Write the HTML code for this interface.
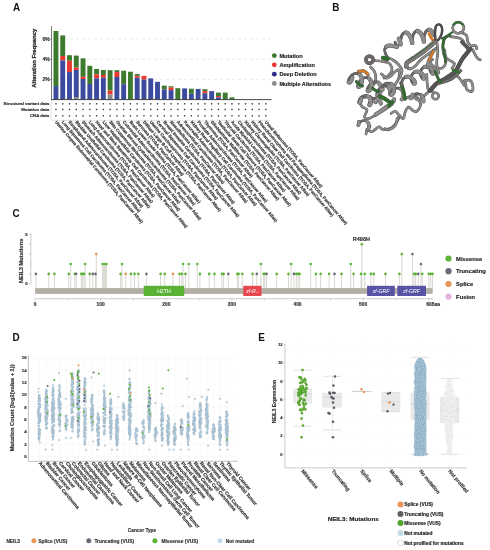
<!DOCTYPE html>
<html><head><meta charset="utf-8"><title>NEIL3 figure</title>
<style>html,body{margin:0;padding:0;background:#fff;width:490px;height:550px;overflow:hidden}svg{display:block;filter:blur(0.3px)} .d{fill:#b9d2e1;stroke:#8aa3b5;stroke-width:.25px} .q{fill:#fbfbfb;stroke:#d6d6d6;stroke-width:.3px} .n{fill:#b9d4e4;stroke:#7497ad;stroke-width:.3px}</style>
</head><body>
<svg width="490" height="550" viewBox="0 0 490 550">
<rect width="490" height="550" fill="#fff"/>
<text transform="translate(12.9,10.9) scale(0.88,1)" font-family="Liberation Sans, Arial, sans-serif" font-weight="bold" font-size="11.3" fill="#111">A</text>
<line x1="52" x2="270" y1="79.4" y2="79.4" stroke="#dcdcdc" stroke-width="0.6" stroke-dasharray="3,3"/>
<line x1="52" x2="270" y1="59.2" y2="59.2" stroke="#dcdcdc" stroke-width="0.6" stroke-dasharray="3,3"/>
<line x1="52" x2="270" y1="39.0" y2="39.0" stroke="#dcdcdc" stroke-width="0.6" stroke-dasharray="3,3"/>
<rect x="53.50" y="31.00" width="4.9" height="55.10" fill="#3d7a2e"/>
<rect x="53.50" y="86.10" width="4.9" height="13.50" fill="#3c4b9d"/>
<rect x="60.27" y="35.40" width="4.9" height="20.60" fill="#3d7a2e"/>
<rect x="60.27" y="56.00" width="4.9" height="4.40" fill="#e8392f"/>
<rect x="60.27" y="60.40" width="4.9" height="39.20" fill="#3c4b9d"/>
<rect x="67.04" y="55.20" width="4.9" height="5.60" fill="#3d7a2e"/>
<rect x="67.04" y="60.80" width="4.9" height="11.20" fill="#e8392f"/>
<rect x="67.04" y="72.00" width="4.9" height="27.60" fill="#3c4b9d"/>
<rect x="73.81" y="55.60" width="4.9" height="12.00" fill="#3d7a2e"/>
<rect x="73.81" y="67.60" width="4.9" height="2.40" fill="#e8392f"/>
<rect x="73.81" y="70.00" width="4.9" height="27.00" fill="#3c4b9d"/>
<rect x="73.81" y="97.00" width="4.9" height="2.60" fill="#8a8a8a"/>
<rect x="80.58" y="58.40" width="4.9" height="18.40" fill="#3d7a2e"/>
<rect x="80.58" y="76.80" width="4.9" height="2.20" fill="#e8392f"/>
<rect x="80.58" y="79.00" width="4.9" height="20.60" fill="#3c4b9d"/>
<rect x="87.35" y="65.80" width="4.9" height="18.20" fill="#3d7a2e"/>
<rect x="87.35" y="84.00" width="4.9" height="15.60" fill="#3c4b9d"/>
<rect x="94.12" y="69.00" width="4.9" height="5.40" fill="#3d7a2e"/>
<rect x="94.12" y="74.40" width="4.9" height="3.90" fill="#e8392f"/>
<rect x="94.12" y="78.30" width="4.9" height="21.30" fill="#3c4b9d"/>
<rect x="100.89" y="70.00" width="4.9" height="5.00" fill="#3d7a2e"/>
<rect x="100.89" y="75.00" width="4.9" height="2.80" fill="#e8392f"/>
<rect x="100.89" y="77.80" width="4.9" height="21.80" fill="#3c4b9d"/>
<rect x="107.66" y="70.20" width="4.9" height="20.30" fill="#3d7a2e"/>
<rect x="107.66" y="90.50" width="4.9" height="4.00" fill="#e8392f"/>
<rect x="107.66" y="94.50" width="4.9" height="5.10" fill="#8a8a8a"/>
<rect x="114.43" y="70.20" width="4.9" height="1.80" fill="#3d7a2e"/>
<rect x="114.43" y="72.00" width="4.9" height="5.00" fill="#e8392f"/>
<rect x="114.43" y="77.00" width="4.9" height="22.60" fill="#3c4b9d"/>
<rect x="121.20" y="70.70" width="4.9" height="13.50" fill="#3d7a2e"/>
<rect x="121.20" y="84.20" width="4.9" height="15.40" fill="#3c4b9d"/>
<rect x="127.97" y="71.70" width="4.9" height="27.90" fill="#3d7a2e"/>
<rect x="134.74" y="74.00" width="4.9" height="1.80" fill="#3d7a2e"/>
<rect x="134.74" y="75.80" width="4.9" height="2.00" fill="#e8392f"/>
<rect x="134.74" y="77.80" width="4.9" height="21.80" fill="#3c4b9d"/>
<rect x="141.51" y="75.90" width="4.9" height="3.70" fill="#e8392f"/>
<rect x="141.51" y="79.60" width="4.9" height="20.00" fill="#3c4b9d"/>
<rect x="148.28" y="78.40" width="4.9" height="21.20" fill="#3c4b9d"/>
<rect x="155.05" y="81.80" width="4.9" height="17.80" fill="#3c4b9d"/>
<rect x="161.82" y="85.70" width="4.9" height="3.70" fill="#3d7a2e"/>
<rect x="161.82" y="89.40" width="4.9" height="10.20" fill="#3c4b9d"/>
<rect x="168.59" y="86.20" width="4.9" height="1.30" fill="#3d7a2e"/>
<rect x="168.59" y="87.50" width="4.9" height="2.60" fill="#e8392f"/>
<rect x="168.59" y="90.10" width="4.9" height="9.50" fill="#3c4b9d"/>
<rect x="175.36" y="88.20" width="4.9" height="11.40" fill="#3d7a2e"/>
<rect x="182.13" y="88.40" width="4.9" height="11.20" fill="#3c4b9d"/>
<rect x="188.90" y="88.70" width="4.9" height="5.10" fill="#3d7a2e"/>
<rect x="188.90" y="93.80" width="4.9" height="5.80" fill="#3c4b9d"/>
<rect x="195.67" y="88.90" width="4.9" height="10.70" fill="#3c4b9d"/>
<rect x="202.44" y="89.20" width="4.9" height="1.90" fill="#3d7a2e"/>
<rect x="202.44" y="91.10" width="4.9" height="2.20" fill="#e8392f"/>
<rect x="202.44" y="93.30" width="4.9" height="6.30" fill="#3c4b9d"/>
<rect x="209.21" y="91.10" width="4.9" height="8.50" fill="#3c4b9d"/>
<rect x="215.98" y="92.60" width="4.9" height="3.40" fill="#3d7a2e"/>
<rect x="215.98" y="96.00" width="4.9" height="1.30" fill="#e8392f"/>
<rect x="215.98" y="97.30" width="4.9" height="2.30" fill="#3c4b9d"/>
<rect x="222.75" y="92.60" width="4.9" height="7.00" fill="#3d7a2e"/>
<rect x="229.52" y="97.30" width="4.9" height="2.30" fill="#3d7a2e"/>
<line x1="51.5" x2="51.5" y1="26.4" y2="100" stroke="#555" stroke-width="0.8"/>
<line x1="51" x2="271.5" y1="99.6" y2="99.6" stroke="#333" stroke-width="0.9"/>
<line x1="50" x2="51.5" y1="79.4" y2="79.4" stroke="#555" stroke-width="0.6"/>
<text x="49.8" y="81.3" font-family="Liberation Sans, Arial, sans-serif" font-weight="bold" font-size="5.0" text-anchor="end" fill="#333" stroke="#333" stroke-width="0.16">2%</text>
<line x1="50" x2="51.5" y1="59.2" y2="59.2" stroke="#555" stroke-width="0.6"/>
<text x="49.8" y="61.1" font-family="Liberation Sans, Arial, sans-serif" font-weight="bold" font-size="5.0" text-anchor="end" fill="#333" stroke="#333" stroke-width="0.16">4%</text>
<line x1="50" x2="51.5" y1="39.0" y2="39.0" stroke="#555" stroke-width="0.6"/>
<text x="49.8" y="40.9" font-family="Liberation Sans, Arial, sans-serif" font-weight="bold" font-size="5.0" text-anchor="end" fill="#333" stroke="#333" stroke-width="0.16">6%</text>
<text transform="translate(35.9,58.2) rotate(-90)" font-family="Liberation Sans, Arial, sans-serif" font-weight="bold" font-size="5.9" text-anchor="middle" fill="#2a2a2a" stroke="#2a2a2a" stroke-width="0.3">Alteration Frequency</text>
<path d="M51.2 100 V120.3 H270" fill="none" stroke="#cfcfcf" stroke-width="0.6"/>
<text x="49.2" y="105.1" font-family="Liberation Sans, Arial, sans-serif" font-weight="bold" font-size="4.3" text-anchor="end" fill="#333" stroke="#333" stroke-width="0.2">Structural variant data</text>
<rect x="55.25" y="103.10" width="1.4" height="1.4" fill="#3a3a3a"/>
<rect x="62.02" y="103.10" width="1.4" height="1.4" fill="#3a3a3a"/>
<rect x="68.79" y="103.10" width="1.4" height="1.4" fill="#3a3a3a"/>
<rect x="75.56" y="103.10" width="1.4" height="1.4" fill="#3a3a3a"/>
<rect x="82.33" y="103.10" width="1.4" height="1.4" fill="#3a3a3a"/>
<rect x="89.10" y="103.10" width="1.4" height="1.4" fill="#3a3a3a"/>
<rect x="95.87" y="103.10" width="1.4" height="1.4" fill="#3a3a3a"/>
<rect x="102.64" y="103.10" width="1.4" height="1.4" fill="#3a3a3a"/>
<rect x="109.41" y="103.10" width="1.4" height="1.4" fill="#3a3a3a"/>
<rect x="116.18" y="103.10" width="1.4" height="1.4" fill="#3a3a3a"/>
<rect x="122.95" y="103.10" width="1.4" height="1.4" fill="#3a3a3a"/>
<rect x="129.72" y="103.10" width="1.4" height="1.4" fill="#3a3a3a"/>
<rect x="136.49" y="103.10" width="1.4" height="1.4" fill="#3a3a3a"/>
<rect x="143.26" y="103.10" width="1.4" height="1.4" fill="#3a3a3a"/>
<rect x="150.03" y="103.10" width="1.4" height="1.4" fill="#3a3a3a"/>
<rect x="156.80" y="103.10" width="1.4" height="1.4" fill="#3a3a3a"/>
<rect x="163.57" y="103.10" width="1.4" height="1.4" fill="#3a3a3a"/>
<rect x="170.34" y="103.10" width="1.4" height="1.4" fill="#3a3a3a"/>
<rect x="177.11" y="103.10" width="1.4" height="1.4" fill="#3a3a3a"/>
<rect x="183.88" y="103.10" width="1.4" height="1.4" fill="#3a3a3a"/>
<rect x="190.65" y="103.10" width="1.4" height="1.4" fill="#3a3a3a"/>
<rect x="197.42" y="103.10" width="1.4" height="1.4" fill="#3a3a3a"/>
<rect x="204.19" y="103.10" width="1.4" height="1.4" fill="#3a3a3a"/>
<rect x="210.96" y="103.10" width="1.4" height="1.4" fill="#3a3a3a"/>
<rect x="217.73" y="103.10" width="1.4" height="1.4" fill="#3a3a3a"/>
<rect x="224.50" y="103.10" width="1.4" height="1.4" fill="#3a3a3a"/>
<rect x="231.27" y="103.10" width="1.4" height="1.4" fill="#3a3a3a"/>
<rect x="238.04" y="103.10" width="1.4" height="1.4" fill="#3a3a3a"/>
<rect x="244.81" y="103.10" width="1.4" height="1.4" fill="#3a3a3a"/>
<rect x="251.58" y="103.10" width="1.4" height="1.4" fill="#3a3a3a"/>
<rect x="258.35" y="103.10" width="1.4" height="1.4" fill="#3a3a3a"/>
<rect x="265.12" y="103.10" width="1.4" height="1.4" fill="#3a3a3a"/>
<text x="49.2" y="110.8" font-family="Liberation Sans, Arial, sans-serif" font-weight="bold" font-size="4.3" text-anchor="end" fill="#333" stroke="#333" stroke-width="0.2">Mutation data</text>
<rect x="55.25" y="108.80" width="1.4" height="1.4" fill="#3a3a3a"/>
<rect x="62.02" y="108.80" width="1.4" height="1.4" fill="#3a3a3a"/>
<rect x="68.79" y="108.80" width="1.4" height="1.4" fill="#3a3a3a"/>
<rect x="75.56" y="108.80" width="1.4" height="1.4" fill="#3a3a3a"/>
<rect x="82.33" y="108.80" width="1.4" height="1.4" fill="#3a3a3a"/>
<rect x="89.10" y="108.80" width="1.4" height="1.4" fill="#3a3a3a"/>
<rect x="95.87" y="108.80" width="1.4" height="1.4" fill="#3a3a3a"/>
<rect x="102.64" y="108.80" width="1.4" height="1.4" fill="#3a3a3a"/>
<rect x="109.41" y="108.80" width="1.4" height="1.4" fill="#3a3a3a"/>
<rect x="116.18" y="108.80" width="1.4" height="1.4" fill="#3a3a3a"/>
<rect x="122.95" y="108.80" width="1.4" height="1.4" fill="#3a3a3a"/>
<rect x="129.72" y="108.80" width="1.4" height="1.4" fill="#3a3a3a"/>
<rect x="136.49" y="108.80" width="1.4" height="1.4" fill="#3a3a3a"/>
<rect x="143.26" y="108.80" width="1.4" height="1.4" fill="#3a3a3a"/>
<rect x="150.03" y="108.80" width="1.4" height="1.4" fill="#3a3a3a"/>
<rect x="156.80" y="108.80" width="1.4" height="1.4" fill="#3a3a3a"/>
<rect x="163.57" y="108.80" width="1.4" height="1.4" fill="#3a3a3a"/>
<rect x="170.34" y="108.80" width="1.4" height="1.4" fill="#3a3a3a"/>
<rect x="177.11" y="108.80" width="1.4" height="1.4" fill="#3a3a3a"/>
<rect x="183.88" y="108.80" width="1.4" height="1.4" fill="#3a3a3a"/>
<rect x="190.65" y="108.80" width="1.4" height="1.4" fill="#3a3a3a"/>
<rect x="197.42" y="108.80" width="1.4" height="1.4" fill="#3a3a3a"/>
<rect x="204.19" y="108.80" width="1.4" height="1.4" fill="#3a3a3a"/>
<rect x="210.96" y="108.80" width="1.4" height="1.4" fill="#3a3a3a"/>
<rect x="217.73" y="108.80" width="1.4" height="1.4" fill="#3a3a3a"/>
<rect x="224.50" y="108.80" width="1.4" height="1.4" fill="#3a3a3a"/>
<rect x="231.27" y="108.80" width="1.4" height="1.4" fill="#3a3a3a"/>
<rect x="238.04" y="108.80" width="1.4" height="1.4" fill="#3a3a3a"/>
<rect x="244.81" y="108.80" width="1.4" height="1.4" fill="#3a3a3a"/>
<rect x="251.58" y="108.80" width="1.4" height="1.4" fill="#3a3a3a"/>
<rect x="258.35" y="108.80" width="1.4" height="1.4" fill="#3a3a3a"/>
<rect x="265.12" y="108.80" width="1.4" height="1.4" fill="#3a3a3a"/>
<text x="49.2" y="117.1" font-family="Liberation Sans, Arial, sans-serif" font-weight="bold" font-size="4.3" text-anchor="end" fill="#333" stroke="#333" stroke-width="0.2">CNA data</text>
<rect x="55.25" y="115.10" width="1.4" height="1.4" fill="#3a3a3a"/>
<rect x="62.02" y="115.10" width="1.4" height="1.4" fill="#3a3a3a"/>
<rect x="68.79" y="115.10" width="1.4" height="1.4" fill="#3a3a3a"/>
<rect x="75.56" y="115.10" width="1.4" height="1.4" fill="#3a3a3a"/>
<rect x="82.33" y="115.10" width="1.4" height="1.4" fill="#3a3a3a"/>
<rect x="89.10" y="115.10" width="1.4" height="1.4" fill="#3a3a3a"/>
<rect x="95.87" y="115.10" width="1.4" height="1.4" fill="#3a3a3a"/>
<rect x="102.64" y="115.10" width="1.4" height="1.4" fill="#3a3a3a"/>
<rect x="109.41" y="115.10" width="1.4" height="1.4" fill="#3a3a3a"/>
<rect x="116.18" y="115.10" width="1.4" height="1.4" fill="#3a3a3a"/>
<rect x="122.95" y="115.10" width="1.4" height="1.4" fill="#3a3a3a"/>
<rect x="129.72" y="115.10" width="1.4" height="1.4" fill="#3a3a3a"/>
<rect x="136.49" y="115.10" width="1.4" height="1.4" fill="#3a3a3a"/>
<rect x="143.26" y="115.10" width="1.4" height="1.4" fill="#3a3a3a"/>
<rect x="150.03" y="115.10" width="1.4" height="1.4" fill="#3a3a3a"/>
<rect x="156.80" y="115.10" width="1.4" height="1.4" fill="#3a3a3a"/>
<rect x="163.57" y="115.10" width="1.4" height="1.4" fill="#3a3a3a"/>
<rect x="170.34" y="115.10" width="1.4" height="1.4" fill="#3a3a3a"/>
<rect x="177.11" y="115.10" width="1.4" height="1.4" fill="#3a3a3a"/>
<rect x="183.88" y="115.10" width="1.4" height="1.4" fill="#3a3a3a"/>
<rect x="190.65" y="115.10" width="1.4" height="1.4" fill="#3a3a3a"/>
<rect x="197.42" y="115.10" width="1.4" height="1.4" fill="#3a3a3a"/>
<rect x="204.19" y="115.10" width="1.4" height="1.4" fill="#3a3a3a"/>
<rect x="210.96" y="115.10" width="1.4" height="1.4" fill="#3a3a3a"/>
<rect x="217.73" y="115.10" width="1.4" height="1.4" fill="#3a3a3a"/>
<rect x="224.50" y="115.10" width="1.4" height="1.4" fill="#3a3a3a"/>
<rect x="231.27" y="115.10" width="1.4" height="1.4" fill="#3a3a3a"/>
<rect x="238.04" y="115.10" width="1.4" height="1.4" fill="#3a3a3a"/>
<rect x="244.81" y="115.10" width="1.4" height="1.4" fill="#3a3a3a"/>
<rect x="251.58" y="115.10" width="1.4" height="1.4" fill="#3a3a3a"/>
<rect x="258.35" y="115.10" width="1.4" height="1.4" fill="#3a3a3a"/>
<rect x="265.12" y="115.10" width="1.4" height="1.4" fill="#3a3a3a"/>
<text transform="translate(54.75,122.3) rotate(49.5)" font-family="Liberation Sans, Arial, sans-serif" font-weight="bold" font-size="4.3" fill="#3a3a3a" stroke="#3a3a3a" stroke-width="0.22">Uterine Corpus Endometrial Carcinoma (TCGA, PanCancer Atlas)</text>
<text transform="translate(61.52,122.3) rotate(49.5)" font-family="Liberation Sans, Arial, sans-serif" font-weight="bold" font-size="4.3" fill="#3a3a3a" stroke="#3a3a3a" stroke-width="0.22">Lung Squamous Cell Carcinoma (TCGA, PanCancer Atlas)</text>
<text transform="translate(68.29,122.3) rotate(49.5)" font-family="Liberation Sans, Arial, sans-serif" font-weight="bold" font-size="4.3" fill="#3a3a3a" stroke="#3a3a3a" stroke-width="0.22">Esophageal Adenocarcinoma (TCGA, PanCancer Atlas)</text>
<text transform="translate(75.06,122.3) rotate(49.5)" font-family="Liberation Sans, Arial, sans-serif" font-weight="bold" font-size="4.3" fill="#3a3a3a" stroke="#3a3a3a" stroke-width="0.22">Bladder Urothelial Carcinoma (TCGA, PanCancer Atlas)</text>
<text transform="translate(81.83,122.3) rotate(49.5)" font-family="Liberation Sans, Arial, sans-serif" font-weight="bold" font-size="4.3" fill="#3a3a3a" stroke="#3a3a3a" stroke-width="0.22">Stomach Adenocarcinoma (TCGA, PanCancer Atlas)</text>
<text transform="translate(88.60,122.3) rotate(49.5)" font-family="Liberation Sans, Arial, sans-serif" font-weight="bold" font-size="4.3" fill="#3a3a3a" stroke="#3a3a3a" stroke-width="0.22">Lung Adenocarcinoma (TCGA, PanCancer Atlas)</text>
<text transform="translate(95.37,122.3) rotate(49.5)" font-family="Liberation Sans, Arial, sans-serif" font-weight="bold" font-size="4.3" fill="#3a3a3a" stroke="#3a3a3a" stroke-width="0.22">Head and Neck Squamous Cell Carcinoma (TCGA, PanCancer Atlas)</text>
<text transform="translate(102.14,122.3) rotate(49.5)" font-family="Liberation Sans, Arial, sans-serif" font-weight="bold" font-size="4.3" fill="#3a3a3a" stroke="#3a3a3a" stroke-width="0.22">Liver Hepatocellular Carcinoma (TCGA, PanCancer Atlas)</text>
<text transform="translate(108.91,122.3) rotate(49.5)" font-family="Liberation Sans, Arial, sans-serif" font-weight="bold" font-size="4.3" fill="#3a3a3a" stroke="#3a3a3a" stroke-width="0.22">Skin Cutaneous Melanoma (TCGA, PanCancer Atlas)</text>
<text transform="translate(115.68,122.3) rotate(49.5)" font-family="Liberation Sans, Arial, sans-serif" font-weight="bold" font-size="4.3" fill="#3a3a3a" stroke="#3a3a3a" stroke-width="0.22">Ovarian Serous Cystadenocarcinoma (TCGA, PanCancer Atlas)</text>
<text transform="translate(122.45,122.3) rotate(49.5)" font-family="Liberation Sans, Arial, sans-serif" font-weight="bold" font-size="4.3" fill="#3a3a3a" stroke="#3a3a3a" stroke-width="0.22">Colorectal Adenocarcinoma (TCGA, PanCancer Atlas)</text>
<text transform="translate(129.22,122.3) rotate(49.5)" font-family="Liberation Sans, Arial, sans-serif" font-weight="bold" font-size="4.3" fill="#3a3a3a" stroke="#3a3a3a" stroke-width="0.22">Brain Lower Grade Glioma (TCGA, PanCancer Atlas)</text>
<text transform="translate(135.99,122.3) rotate(49.5)" font-family="Liberation Sans, Arial, sans-serif" font-weight="bold" font-size="4.3" fill="#3a3a3a" stroke="#3a3a3a" stroke-width="0.22">Sarcoma (TCGA, PanCancer Atlas)</text>
<text transform="translate(142.76,122.3) rotate(49.5)" font-family="Liberation Sans, Arial, sans-serif" font-weight="bold" font-size="4.3" fill="#3a3a3a" stroke="#3a3a3a" stroke-width="0.22">Diffuse Large B-Cell Lymphoma (TCGA, PanCancer Atlas)</text>
<text transform="translate(149.53,122.3) rotate(49.5)" font-family="Liberation Sans, Arial, sans-serif" font-weight="bold" font-size="4.3" fill="#3a3a3a" stroke="#3a3a3a" stroke-width="0.22">Uterine Carcinosarcoma (TCGA, PanCancer Atlas)</text>
<text transform="translate(156.30,122.3) rotate(49.5)" font-family="Liberation Sans, Arial, sans-serif" font-weight="bold" font-size="4.3" fill="#3a3a3a" stroke="#3a3a3a" stroke-width="0.22">Cervical Squamous Cell Carcinoma (TCGA, PanCancer Atlas)</text>
<text transform="translate(163.07,122.3) rotate(49.5)" font-family="Liberation Sans, Arial, sans-serif" font-weight="bold" font-size="4.3" fill="#3a3a3a" stroke="#3a3a3a" stroke-width="0.22">Breast Invasive Carcinoma (TCGA, PanCancer Atlas)</text>
<text transform="translate(169.84,122.3) rotate(49.5)" font-family="Liberation Sans, Arial, sans-serif" font-weight="bold" font-size="4.3" fill="#3a3a3a" stroke="#3a3a3a" stroke-width="0.22">Mesothelioma (TCGA, PanCancer Atlas)</text>
<text transform="translate(176.61,122.3) rotate(49.5)" font-family="Liberation Sans, Arial, sans-serif" font-weight="bold" font-size="4.3" fill="#3a3a3a" stroke="#3a3a3a" stroke-width="0.22">Adrenocortical Carcinoma (TCGA, PanCancer Atlas)</text>
<text transform="translate(183.38,122.3) rotate(49.5)" font-family="Liberation Sans, Arial, sans-serif" font-weight="bold" font-size="4.3" fill="#3a3a3a" stroke="#3a3a3a" stroke-width="0.22">Pancreatic Adenocarcinoma (TCGA, PanCancer Atlas)</text>
<text transform="translate(190.15,122.3) rotate(49.5)" font-family="Liberation Sans, Arial, sans-serif" font-weight="bold" font-size="4.3" fill="#3a3a3a" stroke="#3a3a3a" stroke-width="0.22">Kidney Renal Papillary Cell Carcinoma (TCGA, PanCancer Atlas)</text>
<text transform="translate(196.92,122.3) rotate(49.5)" font-family="Liberation Sans, Arial, sans-serif" font-weight="bold" font-size="4.3" fill="#3a3a3a" stroke="#3a3a3a" stroke-width="0.22">Prostate Adenocarcinoma (TCGA, PanCancer Atlas)</text>
<text transform="translate(203.69,122.3) rotate(49.5)" font-family="Liberation Sans, Arial, sans-serif" font-weight="bold" font-size="4.3" fill="#3a3a3a" stroke="#3a3a3a" stroke-width="0.22">Thymoma (TCGA, PanCancer Atlas)</text>
<text transform="translate(210.46,122.3) rotate(49.5)" font-family="Liberation Sans, Arial, sans-serif" font-weight="bold" font-size="4.3" fill="#3a3a3a" stroke="#3a3a3a" stroke-width="0.22">Glioblastoma Multiforme (TCGA, PanCancer Atlas)</text>
<text transform="translate(217.23,122.3) rotate(49.5)" font-family="Liberation Sans, Arial, sans-serif" font-weight="bold" font-size="4.3" fill="#3a3a3a" stroke="#3a3a3a" stroke-width="0.22">Testicular Germ Cell Tumors (TCGA, PanCancer Atlas)</text>
<text transform="translate(224.00,122.3) rotate(49.5)" font-family="Liberation Sans, Arial, sans-serif" font-weight="bold" font-size="4.3" fill="#3a3a3a" stroke="#3a3a3a" stroke-width="0.22">Thyroid Carcinoma (TCGA, PanCancer Atlas)</text>
<text transform="translate(230.77,122.3) rotate(49.5)" font-family="Liberation Sans, Arial, sans-serif" font-weight="bold" font-size="4.3" fill="#3a3a3a" stroke="#3a3a3a" stroke-width="0.22">Acute Myeloid Leukemia (TCGA, PanCancer Atlas)</text>
<text transform="translate(237.54,122.3) rotate(49.5)" font-family="Liberation Sans, Arial, sans-serif" font-weight="bold" font-size="4.3" fill="#3a3a3a" stroke="#3a3a3a" stroke-width="0.22">Cholangiocarcinoma (TCGA, PanCancer Atlas)</text>
<text transform="translate(244.31,122.3) rotate(49.5)" font-family="Liberation Sans, Arial, sans-serif" font-weight="bold" font-size="4.3" fill="#3a3a3a" stroke="#3a3a3a" stroke-width="0.22">Kidney Chromophobe (TCGA, PanCancer Atlas)</text>
<text transform="translate(251.08,122.3) rotate(49.5)" font-family="Liberation Sans, Arial, sans-serif" font-weight="bold" font-size="4.3" fill="#3a3a3a" stroke="#3a3a3a" stroke-width="0.22">Kidney Renal Clear Cell Carcinoma (TCGA, PanCancer Atlas)</text>
<text transform="translate(257.85,122.3) rotate(49.5)" font-family="Liberation Sans, Arial, sans-serif" font-weight="bold" font-size="4.3" fill="#3a3a3a" stroke="#3a3a3a" stroke-width="0.22">Pheochromocytoma and Paraganglioma (TCGA, PanCancer Atlas)</text>
<text transform="translate(264.62,122.3) rotate(49.5)" font-family="Liberation Sans, Arial, sans-serif" font-weight="bold" font-size="4.3" fill="#3a3a3a" stroke="#3a3a3a" stroke-width="0.22">Uveal Melanoma (TCGA, PanCancer Atlas)</text>
<circle cx="274.3" cy="55.6" r="2.4" fill="#3d7a2e"/>
<text x="279.4" y="57.6" font-family="Liberation Sans, Arial, sans-serif" font-weight="bold" font-size="5.6" fill="#222" stroke="#222" stroke-width="0.16">Mutation</text>
<circle cx="274.3" cy="64.8" r="2.4" fill="#e8392f"/>
<text x="279.4" y="66.8" font-family="Liberation Sans, Arial, sans-serif" font-weight="bold" font-size="5.6" fill="#222" stroke="#222" stroke-width="0.16">Amplification</text>
<circle cx="274.3" cy="74.2" r="2.4" fill="#2e2a85"/>
<text x="279.4" y="76.2" font-family="Liberation Sans, Arial, sans-serif" font-weight="bold" font-size="5.6" fill="#222" stroke="#222" stroke-width="0.16">Deep Deletion</text>
<circle cx="274.3" cy="83.5" r="2.4" fill="#8a8a8a"/>
<text x="279.4" y="85.5" font-family="Liberation Sans, Arial, sans-serif" font-weight="bold" font-size="5.6" fill="#222" stroke="#222" stroke-width="0.16">Multiple Alterations</text>
<text transform="translate(332.2,10.9) scale(0.88,1)" font-family="Liberation Sans, Arial, sans-serif" font-weight="bold" font-size="11.3" fill="#111">B</text>
<path d="M359.0 100.5 C359.5 101.5 360.7 105.1 362.0 106.6 C363.3 108.1 366.6 108.0 367.0 109.7 C367.4 111.4 364.1 115.6 364.5 117.0 C364.9 118.4 367.6 118.6 369.4 118.3 C371.2 118.0 374.5 115.7 375.5 115.2" fill="none" stroke="#4f4c4d" stroke-width="2.70" stroke-linecap="round" stroke-linejoin="round"/><path d="M359.0 100.5 C359.5 101.5 360.7 105.1 362.0 106.6 C363.3 108.1 366.6 108.0 367.0 109.7 C367.4 111.4 364.1 115.6 364.5 117.0 C364.9 118.4 367.6 118.6 369.4 118.3 C371.2 118.0 374.5 115.7 375.5 115.2" fill="none" stroke="#8f8c8c" stroke-width="1.90" stroke-linecap="round" stroke-linejoin="round"/>
<path d="M367.0 129.3 C367.8 129.7 369.8 132.1 371.8 131.7 C373.8 131.3 377.2 127.2 379.0 126.8 C380.8 126.4 380.7 129.1 382.8 129.3 C384.9 129.5 388.9 129.4 391.4 128.0 C393.8 126.6 396.2 122.8 397.5 120.7 C398.8 118.6 399.0 116.3 399.3 115.4" fill="none" stroke="#4f4c4d" stroke-width="2.70" stroke-linecap="round" stroke-linejoin="round"/><path d="M367.0 129.3 C367.8 129.7 369.8 132.1 371.8 131.7 C373.8 131.3 377.2 127.2 379.0 126.8 C380.8 126.4 380.7 129.1 382.8 129.3 C384.9 129.5 388.9 129.4 391.4 128.0 C393.8 126.6 396.2 122.8 397.5 120.7 C398.8 118.6 399.0 116.3 399.3 115.4" fill="none" stroke="#8f8c8c" stroke-width="1.90" stroke-linecap="round" stroke-linejoin="round"/>
<path d="M397.2 118.5 C396.9 119.7 396.6 123.7 395.2 125.6 C393.8 127.5 390.7 129.2 389.0 129.7 C387.3 130.2 385.7 128.9 385.0 128.7" fill="none" stroke="#4f4c4d" stroke-width="2.70" stroke-linecap="round" stroke-linejoin="round"/><path d="M397.2 118.5 C396.9 119.7 396.6 123.7 395.2 125.6 C393.8 127.5 390.7 129.2 389.0 129.7 C387.3 130.2 385.7 128.9 385.0 128.7" fill="none" stroke="#8f8c8c" stroke-width="1.90" stroke-linecap="round" stroke-linejoin="round"/>
<path d="M415.6 95.0 C416.5 96.5 420.5 101.5 420.7 104.2 C420.9 106.9 418.0 110.3 416.6 111.3 C415.2 112.3 414.0 111.0 412.6 110.3 C411.2 109.6 409.7 107.0 408.5 107.2 C407.3 107.4 406.2 109.4 405.4 111.3 C404.5 113.2 404.4 117.8 403.4 118.5 C402.4 119.2 400.7 116.6 399.3 115.4 C397.9 114.2 396.6 111.6 395.2 111.3 C393.8 111.0 391.8 113.1 391.1 113.4" fill="none" stroke="#4f4c4d" stroke-width="2.70" stroke-linecap="round" stroke-linejoin="round"/><path d="M415.6 95.0 C416.5 96.5 420.5 101.5 420.7 104.2 C420.9 106.9 418.0 110.3 416.6 111.3 C415.2 112.3 414.0 111.0 412.6 110.3 C411.2 109.6 409.7 107.0 408.5 107.2 C407.3 107.4 406.2 109.4 405.4 111.3 C404.5 113.2 404.4 117.8 403.4 118.5 C402.4 119.2 400.7 116.6 399.3 115.4 C397.9 114.2 396.6 111.6 395.2 111.3 C393.8 111.0 391.8 113.1 391.1 113.4" fill="none" stroke="#8f8c8c" stroke-width="1.90" stroke-linecap="round" stroke-linejoin="round"/>
<path d="M426.8 74.3 C427.0 76.7 426.9 85.7 427.9 88.6 C428.9 91.5 432.1 91.1 433.0 91.6" fill="none" stroke="#4f4c4d" stroke-width="2.70" stroke-linecap="round" stroke-linejoin="round"/><path d="M426.8 74.3 C427.0 76.7 426.9 85.7 427.9 88.6 C428.9 91.5 432.1 91.1 433.0 91.6" fill="none" stroke="#8f8c8c" stroke-width="1.90" stroke-linecap="round" stroke-linejoin="round"/>
<path d="M450.2 36.4 C451.9 36.8 458.2 37.6 460.4 38.5 C462.6 39.4 463.0 41.0 463.5 41.5" fill="none" stroke="#4f4c4d" stroke-width="2.70" stroke-linecap="round" stroke-linejoin="round"/><path d="M450.2 36.4 C451.9 36.8 458.2 37.6 460.4 38.5 C462.6 39.4 463.0 41.0 463.5 41.5" fill="none" stroke="#8f8c8c" stroke-width="1.90" stroke-linecap="round" stroke-linejoin="round"/>
<path d="M460.4 32.3 C461.4 32.8 465.3 33.9 466.5 35.4 C467.7 36.9 466.9 39.8 467.6 41.5 C468.3 43.2 469.2 44.9 470.6 45.6 C472.0 46.3 474.7 45.1 475.7 45.6 C476.7 46.1 476.5 48.2 476.7 48.7" fill="none" stroke="#4f4c4d" stroke-width="2.70" stroke-linecap="round" stroke-linejoin="round"/><path d="M460.4 32.3 C461.4 32.8 465.3 33.9 466.5 35.4 C467.7 36.9 466.9 39.8 467.6 41.5 C468.3 43.2 469.2 44.9 470.6 45.6 C472.0 46.3 474.7 45.1 475.7 45.6 C476.7 46.1 476.5 48.2 476.7 48.7" fill="none" stroke="#8f8c8c" stroke-width="1.90" stroke-linecap="round" stroke-linejoin="round"/>
<path d="M472.9 50.0 C473.3 50.8 474.5 53.5 475.3 54.9 C476.1 56.3 477.0 57.8 477.8 58.6 C478.6 59.4 479.8 59.6 480.2 59.8" fill="none" stroke="#4f4c4d" stroke-width="2.70" stroke-linecap="round" stroke-linejoin="round"/><path d="M472.9 50.0 C473.3 50.8 474.5 53.5 475.3 54.9 C476.1 56.3 477.0 57.8 477.8 58.6 C478.6 59.4 479.8 59.6 480.2 59.8" fill="none" stroke="#8f8c8c" stroke-width="1.90" stroke-linecap="round" stroke-linejoin="round"/>
<path d="M444.7 50.0 C444.9 51.2 444.9 55.5 445.9 57.3 C446.9 59.1 449.4 60.0 450.8 61.0 C452.2 62.0 454.3 62.3 454.5 63.5 C454.7 64.7 452.4 67.6 452.0 68.4" fill="none" stroke="#4f4c4d" stroke-width="2.70" stroke-linecap="round" stroke-linejoin="round"/><path d="M444.7 50.0 C444.9 51.2 444.9 55.5 445.9 57.3 C446.9 59.1 449.4 60.0 450.8 61.0 C452.2 62.0 454.3 62.3 454.5 63.5 C454.7 64.7 452.4 67.6 452.0 68.4" fill="none" stroke="#8f8c8c" stroke-width="1.90" stroke-linecap="round" stroke-linejoin="round"/>
<path d="M443.8 40.1 C443.6 41.3 442.8 44.8 442.8 47.2 C442.8 49.6 443.3 52.4 443.8 54.4 C444.3 56.4 445.6 57.6 445.8 59.5 C446.0 61.4 445.8 64.1 444.8 65.6 C443.8 67.1 441.7 68.7 439.7 68.7 C437.7 68.7 434.1 66.8 432.6 65.6 C431.1 64.4 430.5 62.5 430.5 61.5 C430.5 60.5 432.2 59.8 432.6 59.5" fill="none" stroke="#4f4c4d" stroke-width="2.70" stroke-linecap="round" stroke-linejoin="round"/><path d="M443.8 40.1 C443.6 41.3 442.8 44.8 442.8 47.2 C442.8 49.6 443.3 52.4 443.8 54.4 C444.3 56.4 445.6 57.6 445.8 59.5 C446.0 61.4 445.8 64.1 444.8 65.6 C443.8 67.1 441.7 68.7 439.7 68.7 C437.7 68.7 434.1 66.8 432.6 65.6 C431.1 64.4 430.5 62.5 430.5 61.5 C430.5 60.5 432.2 59.8 432.6 59.5" fill="none" stroke="#8f8c8c" stroke-width="1.90" stroke-linecap="round" stroke-linejoin="round"/>
<path d="M375.0 60.6 C376.8 60.8 383.5 61.4 386.0 62.0 C388.5 62.6 389.0 62.7 390.0 64.0 C391.0 65.3 392.3 68.0 392.0 70.0 C391.7 72.0 389.3 74.7 388.0 76.0 C386.7 77.3 384.7 77.7 384.0 78.0" fill="none" stroke="#4f4c4d" stroke-width="2.70" stroke-linecap="round" stroke-linejoin="round"/><path d="M375.0 60.6 C376.8 60.8 383.5 61.4 386.0 62.0 C388.5 62.6 389.0 62.7 390.0 64.0 C391.0 65.3 392.3 68.0 392.0 70.0 C391.7 72.0 389.3 74.7 388.0 76.0 C386.7 77.3 384.7 77.7 384.0 78.0" fill="none" stroke="#8f8c8c" stroke-width="1.90" stroke-linecap="round" stroke-linejoin="round"/>
<path d="M381.4 74.0 C382.2 74.7 385.0 77.9 386.5 78.2 C388.0 78.5 389.2 77.1 390.6 76.1 C392.0 75.1 393.3 73.0 394.7 72.0 C396.1 71.0 398.1 69.0 398.8 70.0 C399.5 71.0 399.5 75.7 398.8 78.2 C398.1 80.8 395.4 84.1 394.7 85.3" fill="none" stroke="#4f4c4d" stroke-width="2.70" stroke-linecap="round" stroke-linejoin="round"/><path d="M381.4 74.0 C382.2 74.7 385.0 77.9 386.5 78.2 C388.0 78.5 389.2 77.1 390.6 76.1 C392.0 75.1 393.3 73.0 394.7 72.0 C396.1 71.0 398.1 69.0 398.8 70.0 C399.5 71.0 399.5 75.7 398.8 78.2 C398.1 80.8 395.4 84.1 394.7 85.3" fill="none" stroke="#8f8c8c" stroke-width="1.90" stroke-linecap="round" stroke-linejoin="round"/>
<path d="M370.6 67.0 C371.3 67.8 373.9 69.8 374.7 72.0 C375.5 74.2 375.9 78.3 375.7 80.4 C375.5 82.5 374.0 83.8 373.7 84.5" fill="none" stroke="#4f4c4d" stroke-width="2.70" stroke-linecap="round" stroke-linejoin="round"/><path d="M370.6 67.0 C371.3 67.8 373.9 69.8 374.7 72.0 C375.5 74.2 375.9 78.3 375.7 80.4 C375.5 82.5 374.0 83.8 373.7 84.5" fill="none" stroke="#8f8c8c" stroke-width="1.90" stroke-linecap="round" stroke-linejoin="round"/>
<path d="M364.0 97.6 C365.0 97.4 368.3 95.7 370.2 96.5 C372.1 97.3 373.9 102.0 375.3 102.7 C376.7 103.4 377.9 100.9 378.4 100.6" fill="none" stroke="#4f4c4d" stroke-width="2.70" stroke-linecap="round" stroke-linejoin="round"/><path d="M364.0 97.6 C365.0 97.4 368.3 95.7 370.2 96.5 C372.1 97.3 373.9 102.0 375.3 102.7 C376.7 103.4 377.9 100.9 378.4 100.6" fill="none" stroke="#8f8c8c" stroke-width="1.90" stroke-linecap="round" stroke-linejoin="round"/>
<path d="M385.0 62.0 C385.5 61.3 386.7 58.3 388.0 58.0 C389.3 57.7 391.3 59.0 393.0 60.0 C394.7 61.0 396.5 62.3 398.0 64.0 C399.5 65.7 401.7 67.7 402.0 70.0 C402.3 72.3 400.3 76.7 400.0 78.0" fill="none" stroke="#4f4c4d" stroke-width="2.70" stroke-linecap="round" stroke-linejoin="round"/><path d="M385.0 62.0 C385.5 61.3 386.7 58.3 388.0 58.0 C389.3 57.7 391.3 59.0 393.0 60.0 C394.7 61.0 396.5 62.3 398.0 64.0 C399.5 65.7 401.7 67.7 402.0 70.0 C402.3 72.3 400.3 76.7 400.0 78.0" fill="none" stroke="#8f8c8c" stroke-width="1.90" stroke-linecap="round" stroke-linejoin="round"/>
<path d="M464.3 80.6 C465.3 80.6 469.0 79.6 470.4 80.6 C471.8 81.6 472.7 84.9 472.9 86.7 C473.1 88.5 472.6 91.2 471.6 91.6 C470.6 92.0 467.7 90.6 466.7 89.2 C465.7 87.8 465.7 84.0 465.5 83.0" fill="none" stroke="#4f4c4d" stroke-width="2.70" stroke-linecap="round" stroke-linejoin="round"/><path d="M464.3 80.6 C465.3 80.6 469.0 79.6 470.4 80.6 C471.8 81.6 472.7 84.9 472.9 86.7 C473.1 88.5 472.6 91.2 471.6 91.6 C470.6 92.0 467.7 90.6 466.7 89.2 C465.7 87.8 465.7 84.0 465.5 83.0" fill="none" stroke="#8f8c8c" stroke-width="1.90" stroke-linecap="round" stroke-linejoin="round"/>
<path d="M454.5 74.5 C455.3 75.1 457.8 76.4 459.4 78.2 C461.0 80.0 463.5 84.3 464.3 85.5" fill="none" stroke="#4f4c4d" stroke-width="2.70" stroke-linecap="round" stroke-linejoin="round"/><path d="M454.5 74.5 C455.3 75.1 457.8 76.4 459.4 78.2 C461.0 80.0 463.5 84.3 464.3 85.5" fill="none" stroke="#8f8c8c" stroke-width="1.90" stroke-linecap="round" stroke-linejoin="round"/>
<path d="M430.0 90.4 C429.0 91.3 426.0 94.4 424.0 96.0 C422.0 97.6 420.0 100.0 418.0 100.0 C416.0 100.0 414.0 96.3 412.0 96.0 C410.0 95.7 407.0 97.7 406.0 98.0" fill="none" stroke="#4f4c4d" stroke-width="2.70" stroke-linecap="round" stroke-linejoin="round"/><path d="M430.0 90.4 C429.0 91.3 426.0 94.4 424.0 96.0 C422.0 97.6 420.0 100.0 418.0 100.0 C416.0 100.0 414.0 96.3 412.0 96.0 C410.0 95.7 407.0 97.7 406.0 98.0" fill="none" stroke="#8f8c8c" stroke-width="1.90" stroke-linecap="round" stroke-linejoin="round"/>
<path d="M367.0 129.3 C366.8 130.1 366.2 133.2 366.0 134.0" fill="none" stroke="#4f4c4d" stroke-width="2.70" stroke-linecap="round" stroke-linejoin="round"/><path d="M367.0 129.3 C366.8 130.1 366.2 133.2 366.0 134.0" fill="none" stroke="#8f8c8c" stroke-width="1.90" stroke-linecap="round" stroke-linejoin="round"/>
<circle cx="369.5" cy="59.7" r="3.6" fill="none" stroke="#4f4c4d" stroke-width="3.6999999999999997"/><circle cx="369.5" cy="59.7" r="3.6" fill="none" stroke="#6e6a6b" stroke-width="2.8"/>
<circle cx="458.3" cy="27.8" r="5.6" fill="none" stroke="#4f4c4d" stroke-width="2.7"/><circle cx="458.3" cy="27.8" r="5.6" fill="none" stroke="#8f8c8c" stroke-width="1.8"/>
<path d="M453.5 24.5 C454.2 24.1 456.4 22.2 458.0 22.2 C459.6 22.2 462.2 24.1 463.0 24.5" fill="none" stroke="#2f6f2c" stroke-width="1.80" stroke-linecap="round" stroke-linejoin="round"/>
<circle cx="435.5" cy="96" r="3.2" fill="none" stroke="#4f4c4d" stroke-width="2.5"/><circle cx="435.5" cy="96" r="3.2" fill="none" stroke="#8f8c8c" stroke-width="1.6"/>
<path d="M442.0 38.5 C442.7 38.1 444.4 37.4 446.1 36.4 C447.8 35.4 451.2 33.0 452.2 32.3" fill="none" stroke="#4f4c4d" stroke-width="2.10" stroke-linecap="round" stroke-linejoin="round"/><path d="M442.0 38.5 C442.7 38.1 444.4 37.4 446.1 36.4 C447.8 35.4 451.2 33.0 452.2 32.3" fill="none" stroke="#2f6f2c" stroke-width="1.50" stroke-linecap="round" stroke-linejoin="round"/>
<path d="M387.8 58.5 L387.7 58.1 L387.5 57.6 L387.1 56.9 L386.7 56.1 L386.2 55.2 L385.7 54.2 L385.3 53.2 L385.0 52.1 L384.8 51.0 L384.7 49.9 L384.8 49.0 L385.1 48.1 L385.5 47.3 L386.2 46.7" fill="none" stroke="#4f4c4d" stroke-width="2.80" stroke-linecap="round" stroke-linejoin="round"/><path d="M387.8 58.5 L387.7 58.1 L387.5 57.6 L387.1 56.9 L386.7 56.1 L386.2 55.2 L385.7 54.2 L385.3 53.2 L385.0 52.1 L384.8 51.0 L384.7 49.9 L384.8 49.0 L385.1 48.1 L385.5 47.3 L386.2 46.7" fill="none" stroke="#6c6869" stroke-width="2.00" stroke-linecap="round" stroke-linejoin="round"/><path d="M397.2 46.5 L397.1 46.1 L396.8 45.6 L396.4 44.9 L396.0 44.1 L395.5 43.2 L395.1 42.2" fill="none" stroke="#4f4c4d" stroke-width="2.80" stroke-linecap="round" stroke-linejoin="round"/><path d="M397.2 46.5 L397.1 46.1 L396.8 45.6 L396.4 44.9 L396.0 44.1 L395.5 43.2 L395.1 42.2" fill="none" stroke="#6c6869" stroke-width="2.00" stroke-linecap="round" stroke-linejoin="round"/><path d="M382.9 57.8 L384.0 58.0 L385.0 58.2 L385.9 58.4 L386.6 58.6 L387.2 58.8 L387.6 58.8 L387.8 58.7 L387.8 58.5" fill="none" stroke="#4f4c4d" stroke-width="4.20" stroke-linecap="round" stroke-linejoin="round"/><path d="M382.9 57.8 L384.0 58.0 L385.0 58.2 L385.9 58.4 L386.6 58.6 L387.2 58.8 L387.6 58.8 L387.8 58.7 L387.8 58.5" fill="none" stroke="#2f6f2c" stroke-width="3.40" stroke-linecap="round" stroke-linejoin="round"/><path d="M386.2 46.7 L386.9 46.2 L387.9 45.8 L388.9 45.7 L390.0 45.6 L391.1 45.6 L392.3 45.8 L393.4 46.0 L394.4 46.2 L395.2 46.4 L396.0 46.6 L396.5 46.8 L396.9 46.8 L397.1 46.7 L397.2 46.5" fill="none" stroke="#4f4c4d" stroke-width="4.20" stroke-linecap="round" stroke-linejoin="round"/><path d="M386.2 46.7 L386.9 46.2 L387.9 45.8 L388.9 45.7 L390.0 45.6 L391.1 45.6 L392.3 45.8 L393.4 46.0 L394.4 46.2 L395.2 46.4 L396.0 46.6 L396.5 46.8 L396.9 46.8 L397.1 46.7 L397.2 46.5" fill="none" stroke="#8f8c8c" stroke-width="3.40" stroke-linecap="round" stroke-linejoin="round"/>
<path d="M400.5 44.1 L400.5 43.7 L400.4 43.0 L400.5 42.1 L400.5 41.0 L400.7 39.8 L400.9 38.6 L401.2 37.3 L401.6 36.0 L402.2 34.9 L402.8 33.9 L403.5 33.2 L404.3 32.7 L405.1 32.4 L406.0 32.5" fill="none" stroke="#4f4c4d" stroke-width="3.00" stroke-linecap="round" stroke-linejoin="round"/><path d="M400.5 44.1 L400.5 43.7 L400.4 43.0 L400.5 42.1 L400.5 41.0 L400.7 39.8 L400.9 38.6 L401.2 37.3 L401.6 36.0 L402.2 34.9 L402.8 33.9 L403.5 33.2 L404.3 32.7 L405.1 32.4 L406.0 32.5" fill="none" stroke="#6c6869" stroke-width="2.20" stroke-linecap="round" stroke-linejoin="round"/><path d="M412.2 42.8 L412.1 42.3 L412.1 41.7 L412.1 40.8 L412.2 39.7 L412.3 38.5 L412.6 37.2 L412.9 35.9 L413.3 34.7 L413.8 33.6 L414.5 32.6 L415.2 31.8 L415.9 31.3 L416.8 31.1 L417.6 31.1" fill="none" stroke="#4f4c4d" stroke-width="3.00" stroke-linecap="round" stroke-linejoin="round"/><path d="M412.2 42.8 L412.1 42.3 L412.1 41.7 L412.1 40.8 L412.2 39.7 L412.3 38.5 L412.6 37.2 L412.9 35.9 L413.3 34.7 L413.8 33.6 L414.5 32.6 L415.2 31.8 L415.9 31.3 L416.8 31.1 L417.6 31.1" fill="none" stroke="#6c6869" stroke-width="2.20" stroke-linecap="round" stroke-linejoin="round"/><path d="M423.9 41.4 L423.8 41.0 L423.8 40.3 L423.8 39.5 L423.9 38.4 L424.0 37.2 L424.2 35.9 L424.5 34.6 L425.0 33.4 L425.5 32.2 L426.1 31.3 L426.8 30.5 L427.6 30.0 L428.4 29.8 L429.3 29.8" fill="none" stroke="#4f4c4d" stroke-width="3.00" stroke-linecap="round" stroke-linejoin="round"/><path d="M423.9 41.4 L423.8 41.0 L423.8 40.3 L423.8 39.5 L423.9 38.4 L424.0 37.2 L424.2 35.9 L424.5 34.6 L425.0 33.4 L425.5 32.2 L426.1 31.3 L426.8 30.5 L427.6 30.0 L428.4 29.8 L429.3 29.8" fill="none" stroke="#6c6869" stroke-width="2.20" stroke-linecap="round" stroke-linejoin="round"/><path d="M398.9 38.8 L399.5 40.0 L399.9 41.1 L400.2 42.2 L400.4 43.0 L400.5 43.7 L400.6 44.1 L400.6 44.2 L400.5 44.1" fill="none" stroke="#4f4c4d" stroke-width="4.40" stroke-linecap="round" stroke-linejoin="round"/><path d="M398.9 38.8 L399.5 40.0 L399.9 41.1 L400.2 42.2 L400.4 43.0 L400.5 43.7 L400.6 44.1 L400.6 44.2 L400.5 44.1" fill="none" stroke="#8f8c8c" stroke-width="3.60" stroke-linecap="round" stroke-linejoin="round"/><path d="M406.0 32.5 L406.9 32.8 L407.7 33.4 L408.5 34.2 L409.3 35.1 L410.0 36.3 L410.6 37.4 L411.1 38.6 L411.5 39.8 L411.8 40.8 L412.0 41.7 L412.2 42.3 L412.2 42.8 L412.2 42.9 L412.2 42.8" fill="none" stroke="#4f4c4d" stroke-width="4.40" stroke-linecap="round" stroke-linejoin="round"/><path d="M406.0 32.5 L406.9 32.8 L407.7 33.4 L408.5 34.2 L409.3 35.1 L410.0 36.3 L410.6 37.4 L411.1 38.6 L411.5 39.8 L411.8 40.8 L412.0 41.7 L412.2 42.3 L412.2 42.8 L412.2 42.9 L412.2 42.8" fill="none" stroke="#8f8c8c" stroke-width="3.60" stroke-linecap="round" stroke-linejoin="round"/><path d="M417.6 31.1 L418.5 31.5 L419.4 32.0 L420.2 32.8 L421.0 33.8 L421.7 34.9 L422.3 36.1 L422.8 37.3 L423.2 38.5 L423.5 39.5 L423.7 40.4 L423.8 41.0 L423.9 41.4 L423.9 41.6 L423.9 41.4" fill="none" stroke="#4f4c4d" stroke-width="4.40" stroke-linecap="round" stroke-linejoin="round"/><path d="M417.6 31.1 L418.5 31.5 L419.4 32.0 L420.2 32.8 L421.0 33.8 L421.7 34.9 L422.3 36.1 L422.8 37.3 L423.2 38.5 L423.5 39.5 L423.7 40.4 L423.8 41.0 L423.9 41.4 L423.9 41.6 L423.9 41.4" fill="none" stroke="#8f8c8c" stroke-width="3.60" stroke-linecap="round" stroke-linejoin="round"/><path d="M429.3 29.8 L430.2 30.1 L431.1 30.7 L431.9 31.5 L432.6 32.5 L433.3 33.6 L433.9 34.8" fill="none" stroke="#4f4c4d" stroke-width="4.40" stroke-linecap="round" stroke-linejoin="round"/><path d="M429.3 29.8 L430.2 30.1 L431.1 30.7 L431.9 31.5 L432.6 32.5 L433.3 33.6 L433.9 34.8" fill="none" stroke="#8f8c8c" stroke-width="3.60" stroke-linecap="round" stroke-linejoin="round"/>
<path d="M429.0 33.8 C429.7 34.9 432.3 39.4 433.0 40.5" fill="none" stroke="#d47a26" stroke-width="3.00" stroke-linecap="round" stroke-linejoin="round"/>
<path d="M348.6 82.2 L348.4 81.7 L348.4 80.9 L348.6 79.9 L349.0 78.9 L349.7 77.8 L350.5 76.7 L351.4 75.6 L352.5 74.7 L353.7 74.0 L355.0 73.5 L356.2 73.3 L357.4 73.4 L358.6 73.7 L359.6 74.3" fill="none" stroke="#4f4c4d" stroke-width="2.80" stroke-linecap="round" stroke-linejoin="round"/><path d="M348.6 82.2 L348.4 81.7 L348.4 80.9 L348.6 79.9 L349.0 78.9 L349.7 77.8 L350.5 76.7 L351.4 75.6 L352.5 74.7 L353.7 74.0 L355.0 73.5 L356.2 73.3 L357.4 73.4 L358.6 73.7 L359.6 74.3" fill="none" stroke="#6c6869" stroke-width="2.00" stroke-linecap="round" stroke-linejoin="round"/><path d="M358.1 86.5 L357.9 85.9 L357.9 85.1 L358.1 84.2 L358.5 83.1 L359.2 82.0 L360.0 80.9 L360.9 79.9 L362.0 79.0 L363.2 78.3 L364.5 77.8 L365.7 77.6 L366.9 77.6 L368.1 78.0 L369.1 78.6" fill="none" stroke="#4f4c4d" stroke-width="2.80" stroke-linecap="round" stroke-linejoin="round"/><path d="M358.1 86.5 L357.9 85.9 L357.9 85.1 L358.1 84.2 L358.5 83.1 L359.2 82.0 L360.0 80.9 L360.9 79.9 L362.0 79.0 L363.2 78.3 L364.5 77.8 L365.7 77.6 L366.9 77.6 L368.1 78.0 L369.1 78.6" fill="none" stroke="#6c6869" stroke-width="2.00" stroke-linecap="round" stroke-linejoin="round"/><path d="M367.6 90.7 L367.4 90.2 L367.4 89.4 L367.6 88.4 L368.0 87.4 L368.7 86.3 L369.5 85.2 L370.4 84.1 L371.5 83.2 L372.7 82.5 L374.0 82.0 L375.2 81.8 L376.4 81.9 L377.6 82.2 L378.6 82.8" fill="none" stroke="#4f4c4d" stroke-width="2.80" stroke-linecap="round" stroke-linejoin="round"/><path d="M367.6 90.7 L367.4 90.2 L367.4 89.4 L367.6 88.4 L368.0 87.4 L368.7 86.3 L369.5 85.2 L370.4 84.1 L371.5 83.2 L372.7 82.5 L374.0 82.0 L375.2 81.8 L376.4 81.9 L377.6 82.2 L378.6 82.8" fill="none" stroke="#6c6869" stroke-width="2.00" stroke-linecap="round" stroke-linejoin="round"/><path d="M377.4 95.3 L377.1 95.0 L376.9 94.4 L376.9 93.6 L377.1 92.7 L377.5 91.6 L378.2 90.5 L379.0 89.4 L379.9 88.4 L381.0 87.5 L382.2 86.8 L383.5 86.3 L384.7 86.1 L385.9 86.1 L387.1 86.5 L388.1 87.1" fill="none" stroke="#4f4c4d" stroke-width="2.80" stroke-linecap="round" stroke-linejoin="round"/><path d="M377.4 95.3 L377.1 95.0 L376.9 94.4 L376.9 93.6 L377.1 92.7 L377.5 91.6 L378.2 90.5 L379.0 89.4 L379.9 88.4 L381.0 87.5 L382.2 86.8 L383.5 86.3 L384.7 86.1 L385.9 86.1 L387.1 86.5 L388.1 87.1" fill="none" stroke="#6c6869" stroke-width="2.00" stroke-linecap="round" stroke-linejoin="round"/><path d="M352.3 77.5 L352.0 78.8 L351.6 80.0 L351.1 81.0 L350.5 81.8 L349.9 82.3 L349.4 82.6 L348.9 82.5 L348.6 82.2" fill="none" stroke="#4f4c4d" stroke-width="4.20" stroke-linecap="round" stroke-linejoin="round"/><path d="M352.3 77.5 L352.0 78.8 L351.6 80.0 L351.1 81.0 L350.5 81.8 L349.9 82.3 L349.4 82.6 L348.9 82.5 L348.6 82.2" fill="none" stroke="#8f8c8c" stroke-width="3.40" stroke-linecap="round" stroke-linejoin="round"/><path d="M359.6 74.3 L360.4 75.2 L361.1 76.3 L361.6 77.5 L361.8 78.9 L361.9 80.3 L361.8 81.7 L361.5 83.1 L361.1 84.3 L360.6 85.3 L360.0 86.1 L359.4 86.6 L358.9 86.8 L358.4 86.8 L358.1 86.5" fill="none" stroke="#4f4c4d" stroke-width="4.20" stroke-linecap="round" stroke-linejoin="round"/><path d="M359.6 74.3 L360.4 75.2 L361.1 76.3 L361.6 77.5 L361.8 78.9 L361.9 80.3 L361.8 81.7 L361.5 83.1 L361.1 84.3 L360.6 85.3 L360.0 86.1 L359.4 86.6 L358.9 86.8 L358.4 86.8 L358.1 86.5" fill="none" stroke="#8f8c8c" stroke-width="3.40" stroke-linecap="round" stroke-linejoin="round"/><path d="M369.1 78.6 L369.9 79.4 L370.6 80.5 L371.1 81.8 L371.3 83.1 L371.4 84.6 L371.3 86.0 L371.0 87.3 L370.6 88.5 L370.1 89.5 L369.5 90.3 L368.9 90.8 L368.4 91.1 L367.9 91.0 L367.6 90.7" fill="none" stroke="#4f4c4d" stroke-width="4.20" stroke-linecap="round" stroke-linejoin="round"/><path d="M369.1 78.6 L369.9 79.4 L370.6 80.5 L371.1 81.8 L371.3 83.1 L371.4 84.6 L371.3 86.0 L371.0 87.3 L370.6 88.5 L370.1 89.5 L369.5 90.3 L368.9 90.8 L368.4 91.1 L367.9 91.0 L367.6 90.7" fill="none" stroke="#8f8c8c" stroke-width="3.40" stroke-linecap="round" stroke-linejoin="round"/><path d="M378.6 82.8 L379.4 83.7 L380.1 84.8 L380.6 86.0 L380.8 87.4 L380.9 88.8 L380.8 90.2 L380.5 91.6 L380.1 92.8 L379.6 93.8 L379.0 94.6 L378.4 95.1 L377.9 95.3 L377.4 95.3" fill="none" stroke="#4f4c4d" stroke-width="4.20" stroke-linecap="round" stroke-linejoin="round"/><path d="M378.6 82.8 L379.4 83.7 L380.1 84.8 L380.6 86.0 L380.8 87.4 L380.9 88.8 L380.8 90.2 L380.5 91.6 L380.1 92.8 L379.6 93.8 L379.0 94.6 L378.4 95.1 L377.9 95.3 L377.4 95.3" fill="none" stroke="#8f8c8c" stroke-width="3.40" stroke-linecap="round" stroke-linejoin="round"/><path d="M388.1 87.1 L388.9 87.9 L389.6 89.0 L390.1 90.3 L390.3 91.6 L390.4 93.1 L390.3 94.5" fill="none" stroke="#4f4c4d" stroke-width="4.20" stroke-linecap="round" stroke-linejoin="round"/><path d="M388.1 87.1 L388.9 87.9 L389.6 89.0 L390.1 90.3 L390.3 91.6 L390.4 93.1 L390.3 94.5" fill="none" stroke="#8f8c8c" stroke-width="3.40" stroke-linecap="round" stroke-linejoin="round"/>
<path d="M358.5 71.5 C359.4 71.4 362.4 70.5 364.0 71.0 C365.6 71.5 367.3 73.9 368.0 74.5" fill="none" stroke="#4f4c4d" stroke-width="3.40" stroke-linecap="round" stroke-linejoin="round"/><path d="M358.5 71.5 C359.4 71.4 362.4 70.5 364.0 71.0 C365.6 71.5 367.3 73.9 368.0 74.5" fill="none" stroke="#d47a26" stroke-width="2.60" stroke-linecap="round" stroke-linejoin="round"/>
<path d="M356.5 81.5 C356.9 82.0 358.0 83.8 359.0 84.5 C360.0 85.2 361.9 85.8 362.5 86.0" fill="none" stroke="#4f4c4d" stroke-width="2.90" stroke-linecap="round" stroke-linejoin="round"/><path d="M356.5 81.5 C356.9 82.0 358.0 83.8 359.0 84.5 C360.0 85.2 361.9 85.8 362.5 86.0" fill="none" stroke="#2f6f2c" stroke-width="2.30" stroke-linecap="round" stroke-linejoin="round"/>
<path d="M372.5 88.0 C373.0 88.4 374.4 89.9 375.5 90.5 C376.6 91.1 378.4 91.3 379.0 91.5" fill="none" stroke="#4f4c4d" stroke-width="2.90" stroke-linecap="round" stroke-linejoin="round"/><path d="M372.5 88.0 C373.0 88.4 374.4 89.9 375.5 90.5 C376.6 91.1 378.4 91.3 379.0 91.5" fill="none" stroke="#2f6f2c" stroke-width="2.30" stroke-linecap="round" stroke-linejoin="round"/>
<path d="M381.5 89.6 L381.3 89.2 L381.2 88.7 L381.4 88.0 L381.7 87.2 L382.2 86.4 L382.8 85.6 L383.7 84.8 L384.6 84.1 L385.7 83.6 L386.9 83.2 L388.0 83.1 L389.2 83.2 L390.3 83.5 L391.3 84.0" fill="none" stroke="#4f4c4d" stroke-width="2.70" stroke-linecap="round" stroke-linejoin="round"/><path d="M381.5 89.6 L381.3 89.2 L381.2 88.7 L381.4 88.0 L381.7 87.2 L382.2 86.4 L382.8 85.6 L383.7 84.8 L384.6 84.1 L385.7 83.6 L386.9 83.2 L388.0 83.1 L389.2 83.2 L390.3 83.5 L391.3 84.0" fill="none" stroke="#6c6869" stroke-width="1.90" stroke-linecap="round" stroke-linejoin="round"/><path d="M391.0 94.6 L390.8 94.2 L390.7 93.7 L390.9 93.0 L391.2 92.2 L391.7 91.4 L392.3 90.6 L393.2 89.8 L394.1 89.1 L395.2 88.6 L396.4 88.2 L397.5 88.1 L398.7 88.2 L399.8 88.5 L400.8 89.0" fill="none" stroke="#4f4c4d" stroke-width="2.70" stroke-linecap="round" stroke-linejoin="round"/><path d="M391.0 94.6 L390.8 94.2 L390.7 93.7 L390.9 93.0 L391.2 92.2 L391.7 91.4 L392.3 90.6 L393.2 89.8 L394.1 89.1 L395.2 88.6 L396.4 88.2 L397.5 88.1 L398.7 88.2 L399.8 88.5 L400.8 89.0" fill="none" stroke="#6c6869" stroke-width="1.90" stroke-linecap="round" stroke-linejoin="round"/><path d="M382.7 89.4 L382.2 89.7 L381.8 89.8 L381.5 89.6" fill="none" stroke="#4f4c4d" stroke-width="4.10" stroke-linecap="round" stroke-linejoin="round"/><path d="M382.7 89.4 L382.2 89.7 L381.8 89.8 L381.5 89.6" fill="none" stroke="#8f8c8c" stroke-width="3.30" stroke-linecap="round" stroke-linejoin="round"/><path d="M391.3 84.0 L392.2 84.7 L392.9 85.6 L393.5 86.6 L393.8 87.8 L394.0 89.0 L394.0 90.1 L393.9 91.3 L393.6 92.3 L393.2 93.2 L392.7 93.9 L392.2 94.4 L391.7 94.7 L391.3 94.8 L391.0 94.6" fill="none" stroke="#4f4c4d" stroke-width="4.10" stroke-linecap="round" stroke-linejoin="round"/><path d="M391.3 84.0 L392.2 84.7 L392.9 85.6 L393.5 86.6 L393.8 87.8 L394.0 89.0 L394.0 90.1 L393.9 91.3 L393.6 92.3 L393.2 93.2 L392.7 93.9 L392.2 94.4 L391.7 94.7 L391.3 94.8 L391.0 94.6" fill="none" stroke="#8f8c8c" stroke-width="3.30" stroke-linecap="round" stroke-linejoin="round"/><path d="M400.8 89.0 L401.7 89.7 L402.4 90.6 L403.0 91.6 L403.3 92.8 L403.5 94.0 L403.5 95.1 L403.4 96.3 L403.1 97.3 L402.7 98.2 L402.2 98.9 L401.7 99.4" fill="none" stroke="#4f4c4d" stroke-width="4.10" stroke-linecap="round" stroke-linejoin="round"/><path d="M400.8 89.0 L401.7 89.7 L402.4 90.6 L403.0 91.6 L403.3 92.8 L403.5 94.0 L403.5 95.1 L403.4 96.3 L403.1 97.3 L402.7 98.2 L402.2 98.9 L401.7 99.4" fill="none" stroke="#8f8c8c" stroke-width="3.30" stroke-linecap="round" stroke-linejoin="round"/>
<path d="M401.0 83.0 C401.4 84.3 402.8 88.3 403.5 91.0 C404.2 93.7 404.8 97.7 405.0 99.0" fill="none" stroke="#4f4c4d" stroke-width="3.50" stroke-linecap="round" stroke-linejoin="round"/><path d="M401.0 83.0 C401.4 84.3 402.8 88.3 403.5 91.0 C404.2 93.7 404.8 97.7 405.0 99.0" fill="none" stroke="#2f6f2c" stroke-width="2.60" stroke-linecap="round" stroke-linejoin="round"/>
<path d="M401.9 84.7 L401.8 83.5 L401.9 82.2 L402.1 81.0 L402.6 79.9 L403.2 78.9 L404.0 78.0 L405.0 77.3 L406.0 76.9" fill="none" stroke="#4f4c4d" stroke-width="2.80" stroke-linecap="round" stroke-linejoin="round"/><path d="M401.9 84.7 L401.8 83.5 L401.9 82.2 L402.1 81.0 L402.6 79.9 L403.2 78.9 L404.0 78.0 L405.0 77.3 L406.0 76.9" fill="none" stroke="#6c6869" stroke-width="2.00" stroke-linecap="round" stroke-linejoin="round"/><path d="M414.0 83.7 L413.5 83.6 L412.9 83.2 L412.4 82.6 L411.9 81.8 L411.5 80.8 L411.3 79.7 L411.1 78.5 L411.2 77.2 L411.4 76.0 L411.9 74.9 L412.5 73.9 L413.3 73.0 L414.3 72.3 L415.4 71.9" fill="none" stroke="#4f4c4d" stroke-width="2.80" stroke-linecap="round" stroke-linejoin="round"/><path d="M414.0 83.7 L413.5 83.6 L412.9 83.2 L412.4 82.6 L411.9 81.8 L411.5 80.8 L411.3 79.7 L411.1 78.5 L411.2 77.2 L411.4 76.0 L411.9 74.9 L412.5 73.9 L413.3 73.0 L414.3 72.3 L415.4 71.9" fill="none" stroke="#6c6869" stroke-width="2.00" stroke-linecap="round" stroke-linejoin="round"/><path d="M423.3 78.7 L422.8 78.6 L422.3 78.2 L421.7 77.6 L421.3 76.8 L420.9 75.8 L420.6 74.7 L420.5 73.5 L420.5 72.2 L420.8 71.0 L421.2 69.9 L421.9 68.9 L422.7 68.0 L423.6 67.3 L424.7 66.9" fill="none" stroke="#4f4c4d" stroke-width="2.80" stroke-linecap="round" stroke-linejoin="round"/><path d="M423.3 78.7 L422.8 78.6 L422.3 78.2 L421.7 77.6 L421.3 76.8 L420.9 75.8 L420.6 74.7 L420.5 73.5 L420.5 72.2 L420.8 71.0 L421.2 69.9 L421.9 68.9 L422.7 68.0 L423.6 67.3 L424.7 66.9" fill="none" stroke="#6c6869" stroke-width="2.00" stroke-linecap="round" stroke-linejoin="round"/><path d="M432.6 73.7 L432.1 73.6 L431.6 73.2 L431.1 72.6 L430.6 71.8 L430.2 70.8 L429.9 69.7" fill="none" stroke="#4f4c4d" stroke-width="2.80" stroke-linecap="round" stroke-linejoin="round"/><path d="M432.6 73.7 L432.1 73.6 L431.6 73.2 L431.1 72.6 L430.6 71.8 L430.2 70.8 L429.9 69.7" fill="none" stroke="#6c6869" stroke-width="2.00" stroke-linecap="round" stroke-linejoin="round"/><path d="M406.0 76.9 L407.2 76.7 L408.4 76.7 L409.6 77.0 L410.7 77.5 L411.8 78.1 L412.7 78.8 L413.5 79.7 L414.1 80.6 L414.6 81.4 L414.8 82.2 L414.8 82.9 L414.7 83.4 L414.4 83.7 L414.0 83.7" fill="none" stroke="#4f4c4d" stroke-width="4.20" stroke-linecap="round" stroke-linejoin="round"/><path d="M406.0 76.9 L407.2 76.7 L408.4 76.7 L409.6 77.0 L410.7 77.5 L411.8 78.1 L412.7 78.8 L413.5 79.7 L414.1 80.6 L414.6 81.4 L414.8 82.2 L414.8 82.9 L414.7 83.4 L414.4 83.7 L414.0 83.7" fill="none" stroke="#8f8c8c" stroke-width="3.40" stroke-linecap="round" stroke-linejoin="round"/><path d="M415.4 71.9 L416.5 71.7 L417.7 71.7 L418.9 72.0 L420.1 72.5 L421.1 73.1 L422.1 73.8 L422.9 74.7 L423.5 75.6 L423.9 76.4 L424.1 77.2 L424.1 77.9 L424.0 78.4 L423.7 78.7 L423.3 78.7" fill="none" stroke="#4f4c4d" stroke-width="4.20" stroke-linecap="round" stroke-linejoin="round"/><path d="M415.4 71.9 L416.5 71.7 L417.7 71.7 L418.9 72.0 L420.1 72.5 L421.1 73.1 L422.1 73.8 L422.9 74.7 L423.5 75.6 L423.9 76.4 L424.1 77.2 L424.1 77.9 L424.0 78.4 L423.7 78.7 L423.3 78.7" fill="none" stroke="#8f8c8c" stroke-width="3.40" stroke-linecap="round" stroke-linejoin="round"/><path d="M424.7 66.9 L425.9 66.7 L427.1 66.7 L428.3 67.0 L429.4 67.5 L430.5 68.1 L431.4 68.8 L432.2 69.7 L432.8 70.6 L433.2 71.4 L433.4 72.2 L433.5 72.9 L433.3 73.4 L433.0 73.7 L432.6 73.7" fill="none" stroke="#4f4c4d" stroke-width="4.20" stroke-linecap="round" stroke-linejoin="round"/><path d="M424.7 66.9 L425.9 66.7 L427.1 66.7 L428.3 67.0 L429.4 67.5 L430.5 68.1 L431.4 68.8 L432.2 69.7 L432.8 70.6 L433.2 71.4 L433.4 72.2 L433.5 72.9 L433.3 73.4 L433.0 73.7 L432.6 73.7" fill="none" stroke="#8f8c8c" stroke-width="3.40" stroke-linecap="round" stroke-linejoin="round"/>
<path d="M359.2 102.5 L359.1 102.2 L359.0 101.6 L359.1 101.0 L359.3 100.2 L359.6 99.4 L360.1 98.5 L360.8 97.7 L361.6 97.0 L362.5 96.4 L363.4 96.0 L364.5 95.7 L365.5 95.7 L366.5 95.8 L367.5 96.2" fill="none" stroke="#4f4c4d" stroke-width="2.70" stroke-linecap="round" stroke-linejoin="round"/><path d="M359.2 102.5 L359.1 102.2 L359.0 101.6 L359.1 101.0 L359.3 100.2 L359.6 99.4 L360.1 98.5 L360.8 97.7 L361.6 97.0 L362.5 96.4 L363.4 96.0 L364.5 95.7 L365.5 95.7 L366.5 95.8 L367.5 96.2" fill="none" stroke="#6c6869" stroke-width="1.90" stroke-linecap="round" stroke-linejoin="round"/><path d="M369.2 105.0 L369.1 104.7 L369.0 104.1 L369.1 103.5 L369.3 102.7 L369.6 101.9 L370.1 101.0 L370.8 100.2 L371.6 99.5 L372.5 98.9 L373.4 98.5 L374.5 98.2 L375.5 98.2 L376.5 98.3 L377.5 98.7" fill="none" stroke="#4f4c4d" stroke-width="2.70" stroke-linecap="round" stroke-linejoin="round"/><path d="M369.2 105.0 L369.1 104.7 L369.0 104.1 L369.1 103.5 L369.3 102.7 L369.6 101.9 L370.1 101.0 L370.8 100.2 L371.6 99.5 L372.5 98.9 L373.4 98.5 L374.5 98.2 L375.5 98.2 L376.5 98.3 L377.5 98.7" fill="none" stroke="#6c6869" stroke-width="1.90" stroke-linecap="round" stroke-linejoin="round"/><path d="M360.9 98.7 L360.9 99.7 L360.8 100.6 L360.7 101.4 L360.4 102.0 L360.1 102.4 L359.8 102.7 L359.5 102.7 L359.2 102.5" fill="none" stroke="#4f4c4d" stroke-width="4.00" stroke-linecap="round" stroke-linejoin="round"/><path d="M360.9 98.7 L360.9 99.7 L360.8 100.6 L360.7 101.4 L360.4 102.0 L360.1 102.4 L359.8 102.7 L359.5 102.7 L359.2 102.5" fill="none" stroke="#8f8c8c" stroke-width="3.20" stroke-linecap="round" stroke-linejoin="round"/><path d="M367.5 96.2 L368.4 96.7 L369.1 97.4 L369.8 98.2 L370.3 99.2 L370.7 100.2 L370.9 101.2 L370.9 102.2 L370.8 103.1 L370.7 103.9 L370.4 104.5 L370.1 104.9 L369.8 105.2 L369.5 105.2 L369.2 105.0" fill="none" stroke="#4f4c4d" stroke-width="4.00" stroke-linecap="round" stroke-linejoin="round"/><path d="M367.5 96.2 L368.4 96.7 L369.1 97.4 L369.8 98.2 L370.3 99.2 L370.7 100.2 L370.9 101.2 L370.9 102.2 L370.8 103.1 L370.7 103.9 L370.4 104.5 L370.1 104.9 L369.8 105.2 L369.5 105.2 L369.2 105.0" fill="none" stroke="#8f8c8c" stroke-width="3.20" stroke-linecap="round" stroke-linejoin="round"/><path d="M377.5 98.7 L378.4 99.2 L379.1 99.9 L379.8 100.7 L380.3 101.7 L380.7 102.7 L380.9 103.7" fill="none" stroke="#4f4c4d" stroke-width="4.00" stroke-linecap="round" stroke-linejoin="round"/><path d="M377.5 98.7 L378.4 99.2 L379.1 99.9 L379.8 100.7 L380.3 101.7 L380.7 102.7 L380.9 103.7" fill="none" stroke="#8f8c8c" stroke-width="3.20" stroke-linecap="round" stroke-linejoin="round"/>
<path d="M410.4 98.1 L410.4 97.8 L410.6 97.3 L411.0 96.7 L411.5 96.1 L412.2 95.5 L413.0 94.9 L414.0 94.4 L415.0 94.0 L416.1 93.8 L417.3 93.7 L418.4 93.9 L419.5 94.2 L420.5 94.7 L421.4 95.4" fill="none" stroke="#4f4c4d" stroke-width="2.70" stroke-linecap="round" stroke-linejoin="round"/><path d="M410.4 98.1 L410.4 97.8 L410.6 97.3 L411.0 96.7 L411.5 96.1 L412.2 95.5 L413.0 94.9 L414.0 94.4 L415.0 94.0 L416.1 93.8 L417.3 93.7 L418.4 93.9 L419.5 94.2 L420.5 94.7 L421.4 95.4" fill="none" stroke="#6c6869" stroke-width="1.90" stroke-linecap="round" stroke-linejoin="round"/><path d="M412.5 94.6 L412.3 95.6 L412.0 96.5 L411.7 97.2 L411.4 97.8 L411.0 98.1 L410.7 98.3 L410.5 98.3 L410.4 98.1" fill="none" stroke="#4f4c4d" stroke-width="4.00" stroke-linecap="round" stroke-linejoin="round"/><path d="M412.5 94.6 L412.3 95.6 L412.0 96.5 L411.7 97.2 L411.4 97.8 L411.0 98.1 L410.7 98.3 L410.5 98.3 L410.4 98.1" fill="none" stroke="#8f8c8c" stroke-width="3.20" stroke-linecap="round" stroke-linejoin="round"/><path d="M421.4 95.4 L422.1 96.2 L422.7 97.2 L423.2 98.3 L423.4 99.4 L423.5 100.5 L423.5 101.6" fill="none" stroke="#4f4c4d" stroke-width="4.00" stroke-linecap="round" stroke-linejoin="round"/><path d="M421.4 95.4 L422.1 96.2 L422.7 97.2 L423.2 98.3 L423.4 99.4 L423.5 100.5 L423.5 101.6" fill="none" stroke="#8f8c8c" stroke-width="3.20" stroke-linecap="round" stroke-linejoin="round"/>
<path d="M358.2 125.1 L358.2 124.9 L358.3 124.5 L358.6 124.0 L359.0 123.4 L359.5 122.8 L360.1 122.2 L360.7 121.7 L361.5 121.2 L362.4 120.8 L363.2 120.5 L364.1 120.4 L365.0 120.5 L365.8 120.8 L366.6 121.1" fill="none" stroke="#4f4c4d" stroke-width="2.50" stroke-linecap="round" stroke-linejoin="round"/><path d="M358.2 125.1 L358.2 124.9 L358.3 124.5 L358.6 124.0 L359.0 123.4 L359.5 122.8 L360.1 122.2 L360.7 121.7 L361.5 121.2 L362.4 120.8 L363.2 120.5 L364.1 120.4 L365.0 120.5 L365.8 120.8 L366.6 121.1" fill="none" stroke="#6c6869" stroke-width="1.70" stroke-linecap="round" stroke-linejoin="round"/><path d="M368.2 129.1 L368.2 128.9 L368.3 128.5 L368.6 128.0 L369.0 127.4 L369.5 126.8 L370.1 126.2" fill="none" stroke="#4f4c4d" stroke-width="2.50" stroke-linecap="round" stroke-linejoin="round"/><path d="M368.2 129.1 L368.2 128.9 L368.3 128.5 L368.6 128.0 L369.0 127.4 L369.5 126.8 L370.1 126.2" fill="none" stroke="#6c6869" stroke-width="1.70" stroke-linecap="round" stroke-linejoin="round"/><path d="M358.9 121.8 L359.0 122.6 L358.9 123.4 L358.8 124.1 L358.6 124.6 L358.5 125.0 L358.3 125.2 L358.2 125.2 L358.2 125.1" fill="none" stroke="#4f4c4d" stroke-width="3.60" stroke-linecap="round" stroke-linejoin="round"/><path d="M358.9 121.8 L359.0 122.6 L358.9 123.4 L358.8 124.1 L358.6 124.6 L358.5 125.0 L358.3 125.2 L358.2 125.2 L358.2 125.1" fill="none" stroke="#8f8c8c" stroke-width="2.80" stroke-linecap="round" stroke-linejoin="round"/><path d="M366.6 121.1 L367.2 121.7 L367.8 122.4 L368.3 123.2 L368.6 124.0 L368.8 124.9 L368.9 125.8 L369.0 126.6 L368.9 127.4 L368.8 128.1 L368.6 128.6 L368.5 129.0 L368.3 129.2 L368.2 129.2 L368.2 129.1" fill="none" stroke="#4f4c4d" stroke-width="3.60" stroke-linecap="round" stroke-linejoin="round"/><path d="M366.6 121.1 L367.2 121.7 L367.8 122.4 L368.3 123.2 L368.6 124.0 L368.8 124.9 L368.9 125.8 L369.0 126.6 L368.9 127.4 L368.8 128.1 L368.6 128.6 L368.5 129.0 L368.3 129.2 L368.2 129.2 L368.2 129.1" fill="none" stroke="#8f8c8c" stroke-width="2.80" stroke-linecap="round" stroke-linejoin="round"/>
<path d="M376.0 114.2 C376.8 113.8 378.6 112.8 380.5 111.5 C382.4 110.2 385.8 107.8 387.7 106.4 C389.6 105.1 390.6 104.6 391.7 103.4 C392.8 102.2 393.6 100.2 394.0 99.5" fill="none" stroke="#4f4c4d" stroke-width="4.50" stroke-linecap="round" stroke-linejoin="round"/><path d="M376.0 114.2 C376.8 113.8 378.6 112.8 380.5 111.5 C382.4 110.2 385.8 107.8 387.7 106.4 C389.6 105.1 390.6 104.6 391.7 103.4 C392.8 102.2 393.6 100.2 394.0 99.5" fill="none" stroke="#8f8c8c" stroke-width="3.60" stroke-linecap="round" stroke-linejoin="round"/>
<path d="M388.7 106.0 C389.3 105.3 391.9 102.5 392.5 101.8" fill="none" stroke="#2f6f2c" stroke-width="3.40" stroke-linecap="round" stroke-linejoin="round"/>
<path d="M379.5 96.2 C380.5 96.7 383.9 98.3 385.6 99.3 C387.3 100.3 389.0 101.8 389.7 102.3" fill="none" stroke="#4f4c4d" stroke-width="4.10" stroke-linecap="round" stroke-linejoin="round"/><path d="M379.5 96.2 C380.5 96.7 383.9 98.3 385.6 99.3 C387.3 100.3 389.0 101.8 389.7 102.3" fill="none" stroke="#2f6f2c" stroke-width="3.20" stroke-linecap="round" stroke-linejoin="round"/>
<path d="M435.5 40.5 C435.4 39.2 434.9 35.3 435.0 33.0 C435.1 30.7 435.2 27.9 435.8 26.5 C436.4 25.1 437.8 24.3 438.8 24.4 C439.8 24.5 441.3 25.7 441.8 27.2 C442.3 28.7 442.3 31.3 441.8 33.3 C441.3 35.3 439.8 38.0 438.8 39.4 C437.8 40.8 436.2 41.1 435.7 41.5" fill="none" stroke="#2a2a2a" stroke-width="2.40" stroke-linecap="round" stroke-linejoin="round"/><path d="M435.5 40.5 C435.4 39.2 434.9 35.3 435.0 33.0 C435.1 30.7 435.2 27.9 435.8 26.5 C436.4 25.1 437.8 24.3 438.8 24.4 C439.8 24.5 441.3 25.7 441.8 27.2 C442.3 28.7 442.3 31.3 441.8 33.3 C441.3 35.3 439.8 38.0 438.8 39.4 C437.8 40.8 436.2 41.1 435.7 41.5" fill="none" stroke="#555" stroke-width="1.50" stroke-linecap="round" stroke-linejoin="round"/>
<path d="M436.7 41.5 C436.9 43.2 437.8 48.0 437.8 51.7 C437.8 55.4 436.5 60.4 436.7 63.9 C436.9 67.5 438.4 71.5 438.8 73.0" fill="none" stroke="#4f4c4d" stroke-width="2.70" stroke-linecap="round" stroke-linejoin="round"/><path d="M436.7 41.5 C436.9 43.2 437.8 48.0 437.8 51.7 C437.8 55.4 436.5 60.4 436.7 63.9 C436.9 67.5 438.4 71.5 438.8 73.0" fill="none" stroke="#8f8c8c" stroke-width="1.80" stroke-linecap="round" stroke-linejoin="round"/>
<path d="M435.7 48.6 C434.8 49.3 432.4 51.2 430.0 53.0 C427.6 54.8 423.4 57.3 421.0 59.5 C418.6 61.7 417.1 64.4 415.3 66.0 C413.5 67.6 411.5 68.9 410.0 69.0 C408.5 69.1 406.8 66.9 406.2 66.5" fill="none" stroke="#4f4c4d" stroke-width="2.90" stroke-linecap="round" stroke-linejoin="round"/><path d="M435.7 48.6 C434.8 49.3 432.4 51.2 430.0 53.0 C427.6 54.8 423.4 57.3 421.0 59.5 C418.6 61.7 417.1 64.4 415.3 66.0 C413.5 67.6 411.5 68.9 410.0 69.0 C408.5 69.1 406.8 66.9 406.2 66.5" fill="none" stroke="#8f8c8c" stroke-width="2.00" stroke-linecap="round" stroke-linejoin="round"/>
<path d="M406.2 66.5 C406.3 65.9 405.7 64.3 407.0 62.9 C408.3 61.5 411.5 59.7 414.0 58.0 C416.5 56.3 419.5 54.3 422.0 52.5 C424.5 50.7 427.0 48.7 429.0 47.0 C431.0 45.3 433.3 43.2 434.2 42.5" fill="none" stroke="#4f4c4d" stroke-width="4.70" stroke-linecap="round" stroke-linejoin="round"/><path d="M406.2 66.5 C406.3 65.9 405.7 64.3 407.0 62.9 C408.3 61.5 411.5 59.7 414.0 58.0 C416.5 56.3 419.5 54.3 422.0 52.5 C424.5 50.7 427.0 48.7 429.0 47.0 C431.0 45.3 433.3 43.2 434.2 42.5" fill="none" stroke="#7d7a7a" stroke-width="3.80" stroke-linecap="round" stroke-linejoin="round"/>
<path d="M409.0 60.3 C410.2 59.5 413.7 57.0 416.0 55.3 C418.3 53.6 420.7 52.0 423.0 50.3 C425.3 48.6 428.2 46.6 430.0 45.3 C431.8 44.0 432.9 43.0 433.5 42.5" fill="none" stroke="#2f5e2c" stroke-width="0.80" stroke-linecap="round" stroke-linejoin="round"/>
<path d="M433.7 50.7 C432.9 52.4 429.6 58.2 428.6 60.9 C427.6 63.6 427.8 66.0 427.6 67.0" fill="none" stroke="#4f4c4d" stroke-width="3.30" stroke-linecap="round" stroke-linejoin="round"/><path d="M433.7 50.7 C432.9 52.4 429.6 58.2 428.6 60.9 C427.6 63.6 427.8 66.0 427.6 67.0" fill="none" stroke="#8f8c8c" stroke-width="2.40" stroke-linecap="round" stroke-linejoin="round"/>
<path d="M433.2 51.8 C432.5 53.1 429.9 58.5 429.2 59.8" fill="none" stroke="#d47a26" stroke-width="2.40" stroke-linecap="round" stroke-linejoin="round"/>
<path d="M450.0 35.3 C449.1 35.8 446.1 36.9 444.9 38.4 C443.7 39.9 443.1 42.3 442.9 44.5 C442.7 46.7 443.6 49.7 443.9 51.7 C444.2 53.8 444.6 55.1 444.9 56.8 C445.2 58.5 445.4 61.1 445.5 62.0" fill="none" stroke="#4f4c4d" stroke-width="2.50" stroke-linecap="round" stroke-linejoin="round"/><path d="M450.0 35.3 C449.1 35.8 446.1 36.9 444.9 38.4 C443.7 39.9 443.1 42.3 442.9 44.5 C442.7 46.7 443.6 49.7 443.9 51.7 C444.2 53.8 444.6 55.1 444.9 56.8 C445.2 58.5 445.4 61.1 445.5 62.0" fill="none" stroke="#2f6f2c" stroke-width="1.80" stroke-linecap="round" stroke-linejoin="round"/>
<path d="M470.4 49.0 C469.0 50.8 464.2 56.2 461.8 59.8 C459.4 63.4 458.4 67.7 455.7 70.8 C453.0 73.9 449.0 76.2 445.9 78.2 C442.8 80.2 439.9 81.0 437.3 83.0 C434.7 85.0 431.2 89.2 430.0 90.4" fill="none" stroke="#343234" stroke-width="4.20" stroke-linecap="round" stroke-linejoin="round"/><path d="M470.4 49.0 C469.0 50.8 464.2 56.2 461.8 59.8 C459.4 63.4 458.4 67.7 455.7 70.8 C453.0 73.9 449.0 76.2 445.9 78.2 C442.8 80.2 439.9 81.0 437.3 83.0 C434.7 85.0 431.2 89.2 430.0 90.4" fill="none" stroke="#575456" stroke-width="3.60" stroke-linecap="round" stroke-linejoin="round"/>
<path d="M460.6 70.8 C459.0 72.2 454.3 77.4 450.8 79.4 C447.3 81.4 441.6 82.4 439.8 83.0" fill="none" stroke="#4f4c4d" stroke-width="3.30" stroke-linecap="round" stroke-linejoin="round"/><path d="M460.6 70.8 C459.0 72.2 454.3 77.4 450.8 79.4 C447.3 81.4 441.6 82.4 439.8 83.0" fill="none" stroke="#6e6b6d" stroke-width="2.40" stroke-linecap="round" stroke-linejoin="round"/>
<path d="M453.0 70.0 C454.0 70.4 458.0 72.1 459.0 72.5" fill="none" stroke="#2f6f2c" stroke-width="2.40" stroke-linecap="round" stroke-linejoin="round"/>
<path d="M434.9 70.8 C435.5 72.2 437.6 77.6 438.6 79.4 C439.6 81.2 440.6 81.4 441.0 81.8" fill="none" stroke="#4f4c4d" stroke-width="2.90" stroke-linecap="round" stroke-linejoin="round"/><path d="M434.9 70.8 C435.5 72.2 437.6 77.6 438.6 79.4 C439.6 81.2 440.6 81.4 441.0 81.8" fill="none" stroke="#2f6f2c" stroke-width="2.00" stroke-linecap="round" stroke-linejoin="round"/>
<path d="M462.0 42.0 C462.7 42.7 464.8 44.7 466.0 46.0 C467.2 47.3 468.5 49.3 469.0 50.0" fill="none" stroke="#4f4c4d" stroke-width="3.70" stroke-linecap="round" stroke-linejoin="round"/><path d="M462.0 42.0 C462.7 42.7 464.8 44.7 466.0 46.0 C467.2 47.3 468.5 49.3 469.0 50.0" fill="none" stroke="#575456" stroke-width="3.20" stroke-linecap="round" stroke-linejoin="round"/>
<text transform="translate(12.4,216.6) scale(0.88,1)" font-family="Liberation Sans, Arial, sans-serif" font-weight="bold" font-size="11.3" fill="#111">C</text>
<line x1="30.9" x2="30.9" y1="233.9" y2="283.8" stroke="#aaa" stroke-width="0.6"/>
<line x1="29" x2="30.9" y1="283.8" y2="283.8" stroke="#aaa" stroke-width="0.6"/>
<line x1="29" x2="30.9" y1="273.9" y2="273.9" stroke="#aaa" stroke-width="0.6"/>
<line x1="29" x2="30.9" y1="264.0" y2="264.0" stroke="#aaa" stroke-width="0.6"/>
<line x1="29" x2="30.9" y1="254.1" y2="254.1" stroke="#aaa" stroke-width="0.6"/>
<line x1="29" x2="30.9" y1="244.2" y2="244.2" stroke="#aaa" stroke-width="0.6"/>
<line x1="29" x2="30.9" y1="234.3" y2="234.3" stroke="#aaa" stroke-width="0.6"/>
<text x="27.6" y="235.9" font-family="Liberation Sans, Arial, sans-serif" font-weight="bold" font-size="4.4" text-anchor="end" fill="#333" stroke="#333" stroke-width="0.16">5</text>
<text x="27.6" y="285.4" font-family="Liberation Sans, Arial, sans-serif" font-weight="bold" font-size="4.4" text-anchor="end" fill="#333" stroke="#333" stroke-width="0.16">0</text>
<text transform="translate(22.6,260.8) rotate(-90)" font-family="Liberation Sans, Arial, sans-serif" font-weight="bold" font-size="5.7" text-anchor="middle" fill="#333" stroke="#333" stroke-width="0.16">NEIL3 Mutations</text>
<line x1="35.9" x2="35.9" y1="273.9" y2="288.5" stroke="#c9c5bd" stroke-width="0.7"/>
<line x1="48.7" x2="48.7" y1="273.9" y2="288.5" stroke="#c9c5bd" stroke-width="0.7"/>
<line x1="54.4" x2="54.4" y1="273.9" y2="288.5" stroke="#c9c5bd" stroke-width="0.7"/>
<line x1="68.8" x2="68.8" y1="273.9" y2="288.5" stroke="#c9c5bd" stroke-width="0.7"/>
<line x1="70.7" x2="70.7" y1="264.0" y2="288.5" stroke="#c9c5bd" stroke-width="0.7"/>
<line x1="74.8" x2="74.8" y1="273.9" y2="288.5" stroke="#c9c5bd" stroke-width="0.7"/>
<line x1="76.1" x2="76.1" y1="273.9" y2="288.5" stroke="#c9c5bd" stroke-width="0.7"/>
<line x1="81.3" x2="81.3" y1="273.9" y2="288.5" stroke="#c9c5bd" stroke-width="0.7"/>
<line x1="82.5" x2="82.5" y1="273.9" y2="288.5" stroke="#c9c5bd" stroke-width="0.7"/>
<line x1="84.1" x2="84.1" y1="273.9" y2="288.5" stroke="#c9c5bd" stroke-width="0.7"/>
<line x1="85.1" x2="85.1" y1="264.0" y2="288.5" stroke="#c9c5bd" stroke-width="0.7"/>
<line x1="89.8" x2="89.8" y1="273.9" y2="288.5" stroke="#c9c5bd" stroke-width="0.7"/>
<line x1="92.8" x2="92.8" y1="273.9" y2="288.5" stroke="#c9c5bd" stroke-width="0.7"/>
<line x1="95.5" x2="95.5" y1="273.9" y2="288.5" stroke="#c9c5bd" stroke-width="0.7"/>
<line x1="96.3" x2="96.3" y1="254.1" y2="288.5" stroke="#c9c5bd" stroke-width="0.7"/>
<line x1="102.6" x2="102.6" y1="264.0" y2="288.5" stroke="#c9c5bd" stroke-width="0.7"/>
<line x1="104.5" x2="104.5" y1="264.0" y2="288.5" stroke="#c9c5bd" stroke-width="0.7"/>
<line x1="106.5" x2="106.5" y1="264.0" y2="288.5" stroke="#c9c5bd" stroke-width="0.7"/>
<line x1="120.6" x2="120.6" y1="273.9" y2="288.5" stroke="#c9c5bd" stroke-width="0.7"/>
<line x1="122.0" x2="122.0" y1="264.0" y2="288.5" stroke="#c9c5bd" stroke-width="0.7"/>
<line x1="125.7" x2="125.7" y1="273.9" y2="288.5" stroke="#c9c5bd" stroke-width="0.7"/>
<line x1="130.9" x2="130.9" y1="273.9" y2="288.5" stroke="#c9c5bd" stroke-width="0.7"/>
<line x1="134.5" x2="134.5" y1="273.9" y2="288.5" stroke="#c9c5bd" stroke-width="0.7"/>
<line x1="138.3" x2="138.3" y1="273.9" y2="288.5" stroke="#c9c5bd" stroke-width="0.7"/>
<line x1="146.4" x2="146.4" y1="273.9" y2="288.5" stroke="#c9c5bd" stroke-width="0.7"/>
<line x1="160.6" x2="160.6" y1="273.9" y2="288.5" stroke="#c9c5bd" stroke-width="0.7"/>
<line x1="164.7" x2="164.7" y1="273.9" y2="288.5" stroke="#c9c5bd" stroke-width="0.7"/>
<line x1="172.9" x2="172.9" y1="273.9" y2="288.5" stroke="#c9c5bd" stroke-width="0.7"/>
<line x1="179.5" x2="179.5" y1="273.9" y2="288.5" stroke="#c9c5bd" stroke-width="0.7"/>
<line x1="181.8" x2="181.8" y1="273.9" y2="288.5" stroke="#c9c5bd" stroke-width="0.7"/>
<line x1="183.1" x2="183.1" y1="264.0" y2="288.5" stroke="#c9c5bd" stroke-width="0.7"/>
<line x1="185.5" x2="185.5" y1="273.9" y2="288.5" stroke="#c9c5bd" stroke-width="0.7"/>
<line x1="188.8" x2="188.8" y1="264.0" y2="288.5" stroke="#c9c5bd" stroke-width="0.7"/>
<line x1="197.3" x2="197.3" y1="264.0" y2="288.5" stroke="#c9c5bd" stroke-width="0.7"/>
<line x1="199.9" x2="199.9" y1="273.9" y2="288.5" stroke="#c9c5bd" stroke-width="0.7"/>
<line x1="209.2" x2="209.2" y1="273.9" y2="288.5" stroke="#c9c5bd" stroke-width="0.7"/>
<line x1="214.4" x2="214.4" y1="273.9" y2="288.5" stroke="#c9c5bd" stroke-width="0.7"/>
<line x1="221.9" x2="221.9" y1="273.9" y2="288.5" stroke="#c9c5bd" stroke-width="0.7"/>
<line x1="223.6" x2="223.6" y1="273.9" y2="288.5" stroke="#c9c5bd" stroke-width="0.7"/>
<line x1="228.3" x2="228.3" y1="273.9" y2="288.5" stroke="#c9c5bd" stroke-width="0.7"/>
<line x1="237.3" x2="237.3" y1="273.9" y2="288.5" stroke="#c9c5bd" stroke-width="0.7"/>
<line x1="238.6" x2="238.6" y1="273.9" y2="288.5" stroke="#c9c5bd" stroke-width="0.7"/>
<line x1="242.3" x2="242.3" y1="273.9" y2="288.5" stroke="#c9c5bd" stroke-width="0.7"/>
<line x1="252.6" x2="252.6" y1="273.9" y2="288.5" stroke="#c9c5bd" stroke-width="0.7"/>
<line x1="256.8" x2="256.8" y1="273.9" y2="288.5" stroke="#c9c5bd" stroke-width="0.7"/>
<line x1="260.9" x2="260.9" y1="264.0" y2="288.5" stroke="#c9c5bd" stroke-width="0.7"/>
<line x1="263.7" x2="263.7" y1="273.9" y2="288.5" stroke="#c9c5bd" stroke-width="0.7"/>
<line x1="264.8" x2="264.8" y1="273.9" y2="288.5" stroke="#c9c5bd" stroke-width="0.7"/>
<line x1="266.6" x2="266.6" y1="273.9" y2="288.5" stroke="#c9c5bd" stroke-width="0.7"/>
<line x1="276.7" x2="276.7" y1="273.9" y2="288.5" stroke="#c9c5bd" stroke-width="0.7"/>
<line x1="288.5" x2="288.5" y1="273.9" y2="288.5" stroke="#c9c5bd" stroke-width="0.7"/>
<line x1="291.1" x2="291.1" y1="264.0" y2="288.5" stroke="#c9c5bd" stroke-width="0.7"/>
<line x1="293.9" x2="293.9" y1="273.9" y2="288.5" stroke="#c9c5bd" stroke-width="0.7"/>
<line x1="296.3" x2="296.3" y1="273.9" y2="288.5" stroke="#c9c5bd" stroke-width="0.7"/>
<line x1="298.0" x2="298.0" y1="273.9" y2="288.5" stroke="#c9c5bd" stroke-width="0.7"/>
<line x1="299.6" x2="299.6" y1="273.9" y2="288.5" stroke="#c9c5bd" stroke-width="0.7"/>
<line x1="310.7" x2="310.7" y1="264.0" y2="288.5" stroke="#c9c5bd" stroke-width="0.7"/>
<line x1="315.9" x2="315.9" y1="273.9" y2="288.5" stroke="#c9c5bd" stroke-width="0.7"/>
<line x1="320.6" x2="320.6" y1="273.9" y2="288.5" stroke="#c9c5bd" stroke-width="0.7"/>
<line x1="329.1" x2="329.1" y1="273.9" y2="288.5" stroke="#c9c5bd" stroke-width="0.7"/>
<line x1="334.5" x2="334.5" y1="273.9" y2="288.5" stroke="#c9c5bd" stroke-width="0.7"/>
<line x1="341.5" x2="341.5" y1="273.9" y2="288.5" stroke="#c9c5bd" stroke-width="0.7"/>
<line x1="350.8" x2="350.8" y1="264.0" y2="288.5" stroke="#c9c5bd" stroke-width="0.7"/>
<line x1="353.6" x2="353.6" y1="273.9" y2="288.5" stroke="#c9c5bd" stroke-width="0.7"/>
<line x1="361.8" x2="361.8" y1="244.2" y2="288.5" stroke="#c9c5bd" stroke-width="0.7"/>
<line x1="361.0" x2="361.0" y1="273.9" y2="288.5" stroke="#c9c5bd" stroke-width="0.7"/>
<line x1="364.7" x2="364.7" y1="273.9" y2="288.5" stroke="#c9c5bd" stroke-width="0.7"/>
<line x1="370.9" x2="370.9" y1="273.9" y2="288.5" stroke="#c9c5bd" stroke-width="0.7"/>
<line x1="373.7" x2="373.7" y1="273.9" y2="288.5" stroke="#c9c5bd" stroke-width="0.7"/>
<line x1="385.5" x2="385.5" y1="273.9" y2="288.5" stroke="#c9c5bd" stroke-width="0.7"/>
<line x1="399.4" x2="399.4" y1="273.9" y2="288.5" stroke="#c9c5bd" stroke-width="0.7"/>
<line x1="401.8" x2="401.8" y1="254.1" y2="288.5" stroke="#c9c5bd" stroke-width="0.7"/>
<line x1="412.4" x2="412.4" y1="254.1" y2="288.5" stroke="#c9c5bd" stroke-width="0.7"/>
<line x1="414.1" x2="414.1" y1="273.9" y2="288.5" stroke="#c9c5bd" stroke-width="0.7"/>
<line x1="415.7" x2="415.7" y1="273.9" y2="288.5" stroke="#c9c5bd" stroke-width="0.7"/>
<line x1="418.3" x2="418.3" y1="273.9" y2="288.5" stroke="#c9c5bd" stroke-width="0.7"/>
<line x1="420.9" x2="420.9" y1="264.0" y2="288.5" stroke="#c9c5bd" stroke-width="0.7"/>
<line x1="422.2" x2="422.2" y1="273.9" y2="288.5" stroke="#c9c5bd" stroke-width="0.7"/>
<line x1="428.8" x2="428.8" y1="273.9" y2="288.5" stroke="#c9c5bd" stroke-width="0.7"/>
<line x1="430.7" x2="430.7" y1="273.9" y2="288.5" stroke="#c9c5bd" stroke-width="0.7"/>
<line x1="432.5" x2="432.5" y1="273.9" y2="288.5" stroke="#c9c5bd" stroke-width="0.7"/>
<rect x="102.6" y="264.2" width="3.9" height="24" fill="#dedbd5"/>
<rect x="35.1" y="288.1" width="397.6" height="5.8" fill="#b3afa4"/>
<rect x="143.7" y="285.8" width="40.5" height="10.2" fill="#5ab134"/>
<text x="163.9" y="292.8" font-family="Liberation Sans, Arial, sans-serif" font-size="5.2" text-anchor="middle" fill="#fff" font-style="normal">H2TH</text>
<rect x="243.3" y="285.8" width="18.2" height="10.2" fill="#e9474e"/>
<text x="252.4" y="292.8" font-family="Liberation Sans, Arial, sans-serif" font-size="5.2" text-anchor="middle" fill="#fff" font-style="italic">zf-R..</text>
<rect x="367.1" y="285.8" width="27.7" height="10.2" fill="#5953a6"/>
<text x="381.0" y="292.8" font-family="Liberation Sans, Arial, sans-serif" font-size="5.2" text-anchor="middle" fill="#fff" font-style="italic">zf-GRF</text>
<rect x="397.3" y="285.8" width="28.7" height="10.2" fill="#5953a6"/>
<text x="411.6" y="292.8" font-family="Liberation Sans, Arial, sans-serif" font-size="5.2" text-anchor="middle" fill="#fff" font-style="italic">zf-GRF</text>
<circle cx="35.9" cy="273.9" r="1.3" fill="#6a6a78"/>
<circle cx="48.7" cy="273.9" r="1.3" fill="#5db333"/>
<circle cx="54.4" cy="273.9" r="1.3" fill="#5db333"/>
<circle cx="68.8" cy="273.9" r="1.3" fill="#5db333"/>
<circle cx="70.7" cy="264.0" r="1.3" fill="#5db333"/>
<circle cx="74.8" cy="273.9" r="1.3" fill="#5db333"/>
<circle cx="76.1" cy="273.9" r="1.3" fill="#6a6a78"/>
<circle cx="81.3" cy="273.9" r="1.3" fill="#5db333"/>
<circle cx="82.5" cy="273.9" r="1.3" fill="#5db333"/>
<circle cx="84.1" cy="273.9" r="1.3" fill="#5db333"/>
<circle cx="85.1" cy="264.0" r="1.3" fill="#5db333"/>
<circle cx="89.8" cy="273.9" r="1.3" fill="#5db333"/>
<circle cx="92.8" cy="273.9" r="1.3" fill="#6a6a78"/>
<circle cx="95.5" cy="273.9" r="1.3" fill="#6a6a78"/>
<circle cx="96.3" cy="254.1" r="1.3" fill="#e8955a"/>
<circle cx="102.6" cy="264.0" r="1.3" fill="#5db333"/>
<circle cx="104.5" cy="264.0" r="1.3" fill="#5db333"/>
<circle cx="106.5" cy="264.0" r="1.3" fill="#5db333"/>
<circle cx="120.6" cy="273.9" r="1.3" fill="#5db333"/>
<circle cx="122.0" cy="264.0" r="1.3" fill="#5db333"/>
<circle cx="125.7" cy="273.9" r="1.3" fill="#e8955a"/>
<circle cx="130.9" cy="273.9" r="1.3" fill="#5db333"/>
<circle cx="134.5" cy="273.9" r="1.3" fill="#5db333"/>
<circle cx="138.3" cy="273.9" r="1.3" fill="#5db333"/>
<circle cx="146.4" cy="273.9" r="1.3" fill="#6a6a78"/>
<circle cx="160.6" cy="273.9" r="1.3" fill="#5db333"/>
<circle cx="164.7" cy="273.9" r="1.3" fill="#5db333"/>
<circle cx="172.9" cy="273.9" r="1.3" fill="#e8955a"/>
<circle cx="179.5" cy="273.9" r="1.3" fill="#5db333"/>
<circle cx="181.8" cy="273.9" r="1.3" fill="#5db333"/>
<circle cx="183.1" cy="264.0" r="1.3" fill="#5db333"/>
<circle cx="185.5" cy="273.9" r="1.3" fill="#5db333"/>
<circle cx="188.8" cy="264.0" r="1.3" fill="#5db333"/>
<circle cx="197.3" cy="264.0" r="1.3" fill="#5db333"/>
<circle cx="199.9" cy="273.9" r="1.3" fill="#5db333"/>
<circle cx="209.2" cy="273.9" r="1.3" fill="#5db333"/>
<circle cx="214.4" cy="273.9" r="1.3" fill="#5db333"/>
<circle cx="221.9" cy="273.9" r="1.3" fill="#5db333"/>
<circle cx="223.6" cy="273.9" r="1.3" fill="#5db333"/>
<circle cx="228.3" cy="273.9" r="1.3" fill="#6a6a78"/>
<circle cx="237.3" cy="273.9" r="1.3" fill="#5db333"/>
<circle cx="238.6" cy="273.9" r="1.3" fill="#5db333"/>
<circle cx="242.3" cy="273.9" r="1.3" fill="#5db333"/>
<circle cx="252.6" cy="273.9" r="1.3" fill="#5db333"/>
<circle cx="256.8" cy="273.9" r="1.3" fill="#6a6a78"/>
<circle cx="260.9" cy="264.0" r="1.3" fill="#5db333"/>
<circle cx="263.7" cy="273.9" r="1.3" fill="#5db333"/>
<circle cx="264.8" cy="273.9" r="1.3" fill="#5db333"/>
<circle cx="266.6" cy="273.9" r="1.3" fill="#6a6a78"/>
<circle cx="276.7" cy="273.9" r="1.3" fill="#5db333"/>
<circle cx="288.5" cy="273.9" r="1.3" fill="#5db333"/>
<circle cx="291.1" cy="264.0" r="1.3" fill="#5db333"/>
<circle cx="293.9" cy="273.9" r="1.3" fill="#6a6a78"/>
<circle cx="296.3" cy="273.9" r="1.3" fill="#5db333"/>
<circle cx="298.0" cy="273.9" r="1.3" fill="#5db333"/>
<circle cx="299.6" cy="273.9" r="1.3" fill="#5db333"/>
<circle cx="310.7" cy="264.0" r="1.3" fill="#5db333"/>
<circle cx="315.9" cy="273.9" r="1.3" fill="#5db333"/>
<circle cx="320.6" cy="273.9" r="1.3" fill="#5db333"/>
<circle cx="329.1" cy="273.9" r="1.3" fill="#5db333"/>
<circle cx="334.5" cy="273.9" r="1.3" fill="#6a6a78"/>
<circle cx="341.5" cy="273.9" r="1.3" fill="#5db333"/>
<circle cx="350.8" cy="264.0" r="1.3" fill="#5db333"/>
<circle cx="353.6" cy="273.9" r="1.3" fill="#5db333"/>
<circle cx="361.8" cy="244.2" r="1.3" fill="#5db333"/>
<circle cx="361.0" cy="273.9" r="1.3" fill="#5db333"/>
<circle cx="364.7" cy="273.9" r="1.3" fill="#5db333"/>
<circle cx="370.9" cy="273.9" r="1.3" fill="#5db333"/>
<circle cx="373.7" cy="273.9" r="1.3" fill="#5db333"/>
<circle cx="385.5" cy="273.9" r="1.3" fill="#5db333"/>
<circle cx="399.4" cy="273.9" r="1.3" fill="#5db333"/>
<circle cx="401.8" cy="254.1" r="1.3" fill="#5db333"/>
<circle cx="412.4" cy="254.1" r="1.3" fill="#6a6a78"/>
<circle cx="414.1" cy="273.9" r="1.3" fill="#5db333"/>
<circle cx="415.7" cy="273.9" r="1.3" fill="#5db333"/>
<circle cx="418.3" cy="273.9" r="1.3" fill="#6a6a78"/>
<circle cx="420.9" cy="264.0" r="1.3" fill="#6a6a78"/>
<circle cx="422.2" cy="273.9" r="1.3" fill="#5db333"/>
<circle cx="428.8" cy="273.9" r="1.3" fill="#5db333"/>
<circle cx="430.7" cy="273.9" r="1.3" fill="#5db333"/>
<circle cx="432.5" cy="273.9" r="1.3" fill="#5db333"/>
<line x1="35.1" x2="432.2" y1="298.7" y2="298.7" stroke="#aaa" stroke-width="0.6"/>
<line x1="35.1" x2="35.1" y1="298.7" y2="300.4" stroke="#aaa" stroke-width="0.6"/>
<text x="35.1" y="306" font-family="Liberation Sans, Arial, sans-serif" font-weight="bold" font-size="4.9" text-anchor="middle" fill="#333" stroke="#333" stroke-width="0.16">0</text>
<line x1="67.9" x2="67.9" y1="298.7" y2="300.4" stroke="#aaa" stroke-width="0.6"/>
<line x1="100.7" x2="100.7" y1="298.7" y2="300.4" stroke="#aaa" stroke-width="0.6"/>
<text x="100.7" y="306" font-family="Liberation Sans, Arial, sans-serif" font-weight="bold" font-size="4.9" text-anchor="middle" fill="#333" stroke="#333" stroke-width="0.16">100</text>
<line x1="133.5" x2="133.5" y1="298.7" y2="300.4" stroke="#aaa" stroke-width="0.6"/>
<line x1="166.3" x2="166.3" y1="298.7" y2="300.4" stroke="#aaa" stroke-width="0.6"/>
<text x="166.3" y="306" font-family="Liberation Sans, Arial, sans-serif" font-weight="bold" font-size="4.9" text-anchor="middle" fill="#333" stroke="#333" stroke-width="0.16">200</text>
<line x1="199.1" x2="199.1" y1="298.7" y2="300.4" stroke="#aaa" stroke-width="0.6"/>
<line x1="231.9" x2="231.9" y1="298.7" y2="300.4" stroke="#aaa" stroke-width="0.6"/>
<text x="231.9" y="306" font-family="Liberation Sans, Arial, sans-serif" font-weight="bold" font-size="4.9" text-anchor="middle" fill="#333" stroke="#333" stroke-width="0.16">300</text>
<line x1="264.7" x2="264.7" y1="298.7" y2="300.4" stroke="#aaa" stroke-width="0.6"/>
<line x1="297.5" x2="297.5" y1="298.7" y2="300.4" stroke="#aaa" stroke-width="0.6"/>
<text x="297.5" y="306" font-family="Liberation Sans, Arial, sans-serif" font-weight="bold" font-size="4.9" text-anchor="middle" fill="#333" stroke="#333" stroke-width="0.16">400</text>
<line x1="330.3" x2="330.3" y1="298.7" y2="300.4" stroke="#aaa" stroke-width="0.6"/>
<line x1="363.1" x2="363.1" y1="298.7" y2="300.4" stroke="#aaa" stroke-width="0.6"/>
<text x="363.1" y="306" font-family="Liberation Sans, Arial, sans-serif" font-weight="bold" font-size="4.9" text-anchor="middle" fill="#333" stroke="#333" stroke-width="0.16">500</text>
<line x1="395.9" x2="395.9" y1="298.7" y2="300.4" stroke="#aaa" stroke-width="0.6"/>
<line x1="428.7" x2="428.7" y1="298.7" y2="300.4" stroke="#aaa" stroke-width="0.6"/>
<line x1="432.2" x2="432.2" y1="298.7" y2="300.4" stroke="#aaa" stroke-width="0.6"/>
<text x="433.2" y="306.1" font-family="Liberation Sans, Arial, sans-serif" font-weight="bold" font-size="5" text-anchor="middle" fill="#333" stroke="#333" stroke-width="0.16">605aa</text>
<text x="361.4" y="241" font-family="Liberation Sans, Arial, sans-serif" font-weight="bold" font-size="5.5" text-anchor="middle" fill="#333" stroke="#333" stroke-width="0.16">R498H</text>
<circle cx="448.5" cy="258.5" r="3.1" fill="#5db333"/>
<text x="456.1" y="260.5" font-family="Liberation Sans, Arial, sans-serif" font-weight="bold" font-size="5.8" fill="#222" stroke="#222" stroke-width="0.16">Missense</text>
<circle cx="448.5" cy="271.2" r="3.1" fill="#6a6a78"/>
<text x="456.1" y="273.2" font-family="Liberation Sans, Arial, sans-serif" font-weight="bold" font-size="5.8" fill="#222" stroke="#222" stroke-width="0.16">Truncating</text>
<circle cx="448.5" cy="284" r="3.1" fill="#e8955a"/>
<text x="456.1" y="286.0" font-family="Liberation Sans, Arial, sans-serif" font-weight="bold" font-size="5.8" fill="#222" stroke="#222" stroke-width="0.16">Splice</text>
<circle cx="448.5" cy="296.6" r="3.1" fill="#e6b3dc"/>
<text x="456.1" y="298.6" font-family="Liberation Sans, Arial, sans-serif" font-weight="bold" font-size="5.8" fill="#222" stroke="#222" stroke-width="0.16">Fusion</text>
<text transform="translate(12.4,340.9) scale(0.88,1)" font-family="Liberation Sans, Arial, sans-serif" font-weight="bold" font-size="11.3" fill="#111">D</text>
<line x1="28.4" x2="237.5" y1="456.5" y2="456.5" stroke="#ebebeb" stroke-width="0.5" stroke-dasharray="1,1"/>
<line x1="28.4" x2="237.5" y1="444.1" y2="444.1" stroke="#ebebeb" stroke-width="0.5" stroke-dasharray="1,1"/>
<line x1="28.4" x2="237.5" y1="431.8" y2="431.8" stroke="#ebebeb" stroke-width="0.5" stroke-dasharray="1,1"/>
<line x1="28.4" x2="237.5" y1="419.4" y2="419.4" stroke="#ebebeb" stroke-width="0.5" stroke-dasharray="1,1"/>
<line x1="28.4" x2="237.5" y1="407.1" y2="407.1" stroke="#ebebeb" stroke-width="0.5" stroke-dasharray="1,1"/>
<line x1="28.4" x2="237.5" y1="394.7" y2="394.7" stroke="#ebebeb" stroke-width="0.5" stroke-dasharray="1,1"/>
<line x1="28.4" x2="237.5" y1="382.3" y2="382.3" stroke="#ebebeb" stroke-width="0.5" stroke-dasharray="1,1"/>
<line x1="28.4" x2="237.5" y1="370.0" y2="370.0" stroke="#ebebeb" stroke-width="0.5" stroke-dasharray="1,1"/>
<line x1="28.4" x2="237.5" y1="357.6" y2="357.6" stroke="#ebebeb" stroke-width="0.5" stroke-dasharray="1,1"/>
<line x1="39.2" x2="39.2" y1="355.5" y2="461" stroke="#ebebeb" stroke-width="0.5" stroke-dasharray="1,1"/>
<line x1="46.3" x2="46.3" y1="355.5" y2="461" stroke="#ebebeb" stroke-width="0.5" stroke-dasharray="1,1"/>
<line x1="53.0" x2="53.0" y1="355.5" y2="461" stroke="#ebebeb" stroke-width="0.5" stroke-dasharray="1,1"/>
<line x1="59.5" x2="59.5" y1="355.5" y2="461" stroke="#ebebeb" stroke-width="0.5" stroke-dasharray="1,1"/>
<line x1="66.2" x2="66.2" y1="355.5" y2="461" stroke="#ebebeb" stroke-width="0.5" stroke-dasharray="1,1"/>
<line x1="72.3" x2="72.3" y1="355.5" y2="461" stroke="#ebebeb" stroke-width="0.5" stroke-dasharray="1,1"/>
<line x1="78.4" x2="78.4" y1="355.5" y2="461" stroke="#ebebeb" stroke-width="0.5" stroke-dasharray="1,1"/>
<line x1="84.9" x2="84.9" y1="355.5" y2="461" stroke="#ebebeb" stroke-width="0.5" stroke-dasharray="1,1"/>
<line x1="92.1" x2="92.1" y1="355.5" y2="461" stroke="#ebebeb" stroke-width="0.5" stroke-dasharray="1,1"/>
<line x1="98.2" x2="98.2" y1="355.5" y2="461" stroke="#ebebeb" stroke-width="0.5" stroke-dasharray="1,1"/>
<line x1="104.3" x2="104.3" y1="355.5" y2="461" stroke="#ebebeb" stroke-width="0.5" stroke-dasharray="1,1"/>
<line x1="110.8" x2="110.8" y1="355.5" y2="461" stroke="#ebebeb" stroke-width="0.5" stroke-dasharray="1,1"/>
<line x1="117.1" x2="117.1" y1="355.5" y2="461" stroke="#ebebeb" stroke-width="0.5" stroke-dasharray="1,1"/>
<line x1="123.6" x2="123.6" y1="355.5" y2="461" stroke="#ebebeb" stroke-width="0.5" stroke-dasharray="1,1"/>
<line x1="129.7" x2="129.7" y1="355.5" y2="461" stroke="#ebebeb" stroke-width="0.5" stroke-dasharray="1,1"/>
<line x1="136.5" x2="136.5" y1="355.5" y2="461" stroke="#ebebeb" stroke-width="0.5" stroke-dasharray="1,1"/>
<line x1="143.2" x2="143.2" y1="355.5" y2="461" stroke="#ebebeb" stroke-width="0.5" stroke-dasharray="1,1"/>
<line x1="149.3" x2="149.3" y1="355.5" y2="461" stroke="#ebebeb" stroke-width="0.5" stroke-dasharray="1,1"/>
<line x1="155.8" x2="155.8" y1="355.5" y2="461" stroke="#ebebeb" stroke-width="0.5" stroke-dasharray="1,1"/>
<line x1="162.1" x2="162.1" y1="355.5" y2="461" stroke="#ebebeb" stroke-width="0.5" stroke-dasharray="1,1"/>
<line x1="168.2" x2="168.2" y1="355.5" y2="461" stroke="#ebebeb" stroke-width="0.5" stroke-dasharray="1,1"/>
<line x1="174.7" x2="174.7" y1="355.5" y2="461" stroke="#ebebeb" stroke-width="0.5" stroke-dasharray="1,1"/>
<line x1="181.6" x2="181.6" y1="355.5" y2="461" stroke="#ebebeb" stroke-width="0.5" stroke-dasharray="1,1"/>
<line x1="188.1" x2="188.1" y1="355.5" y2="461" stroke="#ebebeb" stroke-width="0.5" stroke-dasharray="1,1"/>
<line x1="194.2" x2="194.2" y1="355.5" y2="461" stroke="#ebebeb" stroke-width="0.5" stroke-dasharray="1,1"/>
<line x1="200.3" x2="200.3" y1="355.5" y2="461" stroke="#ebebeb" stroke-width="0.5" stroke-dasharray="1,1"/>
<line x1="207.0" x2="207.0" y1="355.5" y2="461" stroke="#ebebeb" stroke-width="0.5" stroke-dasharray="1,1"/>
<line x1="213.6" x2="213.6" y1="355.5" y2="461" stroke="#ebebeb" stroke-width="0.5" stroke-dasharray="1,1"/>
<line x1="220.0" x2="220.0" y1="355.5" y2="461" stroke="#ebebeb" stroke-width="0.5" stroke-dasharray="1,1"/>
<line x1="226.8" x2="226.8" y1="355.5" y2="461" stroke="#ebebeb" stroke-width="0.5" stroke-dasharray="1,1"/>
<line x1="28.4" x2="28.4" y1="355.5" y2="461.3" stroke="#999" stroke-width="0.6"/>
<line x1="28.4" x2="238" y1="461.3" y2="461.3" stroke="#999" stroke-width="0.6"/>
<text x="26.6" y="458.1" font-family="Liberation Sans, Arial, sans-serif" font-weight="bold" font-size="4.4" text-anchor="end" fill="#333" stroke="#333" stroke-width="0.16">0</text>
<text x="26.6" y="445.7" font-family="Liberation Sans, Arial, sans-serif" font-weight="bold" font-size="4.4" text-anchor="end" fill="#333" stroke="#333" stroke-width="0.16">2</text>
<text x="26.6" y="433.4" font-family="Liberation Sans, Arial, sans-serif" font-weight="bold" font-size="4.4" text-anchor="end" fill="#333" stroke="#333" stroke-width="0.16">4</text>
<text x="26.6" y="421.0" font-family="Liberation Sans, Arial, sans-serif" font-weight="bold" font-size="4.4" text-anchor="end" fill="#333" stroke="#333" stroke-width="0.16">6</text>
<text x="26.6" y="408.7" font-family="Liberation Sans, Arial, sans-serif" font-weight="bold" font-size="4.4" text-anchor="end" fill="#333" stroke="#333" stroke-width="0.16">8</text>
<text x="26.6" y="396.3" font-family="Liberation Sans, Arial, sans-serif" font-weight="bold" font-size="4.4" text-anchor="end" fill="#333" stroke="#333" stroke-width="0.16">10</text>
<text x="26.6" y="383.9" font-family="Liberation Sans, Arial, sans-serif" font-weight="bold" font-size="4.4" text-anchor="end" fill="#333" stroke="#333" stroke-width="0.16">12</text>
<text x="26.6" y="371.6" font-family="Liberation Sans, Arial, sans-serif" font-weight="bold" font-size="4.4" text-anchor="end" fill="#333" stroke="#333" stroke-width="0.16">14</text>
<text x="26.6" y="359.2" font-family="Liberation Sans, Arial, sans-serif" font-weight="bold" font-size="4.4" text-anchor="end" fill="#333" stroke="#333" stroke-width="0.16">16</text>
<text transform="translate(14.0,407.8) rotate(-90)" font-family="Liberation Sans, Arial, sans-serif" font-weight="bold" font-size="5.7" text-anchor="middle" fill="#333" stroke="#333" stroke-width="0.16">Mutation Count (log2(value + 1))</text>
<circle class="d" cx="38.7" cy="388.6" r=".85"/>
<circle class="d" cx="38.2" cy="392.0" r=".85"/>
<circle class="d" cx="39.7" cy="442.5" r=".85"/>
<circle class="d" cx="39.0" cy="398.3" r=".85"/>
<circle class="d" cx="38.6" cy="397.6" r=".85"/>
<circle class="d" cx="39.9" cy="406.6" r=".85"/>
<circle class="d" cx="39.4" cy="430.4" r=".85"/>
<circle class="d" cx="38.1" cy="412.9" r=".85"/>
<circle class="d" cx="38.9" cy="400.9" r=".85"/>
<circle class="d" cx="38.9" cy="422.5" r=".85"/>
<circle class="d" cx="39.5" cy="401.0" r=".85"/>
<circle class="d" cx="39.4" cy="414.2" r=".85"/>
<circle class="d" cx="38.7" cy="428.6" r=".85"/>
<circle class="d" cx="40.2" cy="420.8" r=".85"/>
<circle class="d" cx="39.0" cy="419.7" r=".85"/>
<circle class="d" cx="39.6" cy="406.9" r=".85"/>
<circle class="d" cx="40.0" cy="429.4" r=".85"/>
<circle class="d" cx="39.4" cy="409.1" r=".85"/>
<circle class="d" cx="40.1" cy="421.1" r=".85"/>
<circle class="d" cx="39.4" cy="437.5" r=".85"/>
<circle class="d" cx="39.4" cy="397.7" r=".85"/>
<circle class="d" cx="39.0" cy="439.7" r=".85"/>
<circle class="d" cx="38.0" cy="412.4" r=".85"/>
<circle class="d" cx="39.6" cy="399.0" r=".85"/>
<circle class="d" cx="38.2" cy="423.4" r=".85"/>
<circle class="d" cx="40.2" cy="415.2" r=".85"/>
<circle class="d" cx="38.8" cy="431.9" r=".85"/>
<circle class="d" cx="40.2" cy="413.7" r=".85"/>
<circle class="d" cx="38.7" cy="404.2" r=".85"/>
<circle class="d" cx="38.6" cy="416.8" r=".85"/>
<circle class="d" cx="39.1" cy="395.2" r=".85"/>
<circle class="d" cx="39.7" cy="420.5" r=".85"/>
<circle class="d" cx="39.7" cy="418.2" r=".85"/>
<circle class="d" cx="39.5" cy="397.4" r=".85"/>
<circle class="d" cx="39.0" cy="434.4" r=".85"/>
<circle class="d" cx="38.2" cy="410.7" r=".85"/>
<circle class="d" cx="38.3" cy="403.8" r=".85"/>
<circle class="d" cx="39.9" cy="403.8" r=".85"/>
<circle class="d" cx="38.9" cy="408.5" r=".85"/>
<circle class="d" cx="40.0" cy="400.5" r=".85"/>
<circle class="d" cx="38.1" cy="416.0" r=".85"/>
<circle class="d" cx="38.9" cy="399.6" r=".85"/>
<circle class="d" cx="39.3" cy="416.9" r=".85"/>
<circle class="d" cx="38.4" cy="401.6" r=".85"/>
<circle class="d" cx="40.1" cy="418.8" r=".85"/>
<circle class="d" cx="39.8" cy="407.0" r=".85"/>
<circle class="d" cx="38.8" cy="419.0" r=".85"/>
<circle class="d" cx="40.2" cy="405.0" r=".85"/>
<circle class="d" cx="39.7" cy="433.4" r=".85"/>
<circle class="d" cx="38.0" cy="414.6" r=".85"/>
<circle class="d" cx="40.4" cy="416.4" r=".85"/>
<circle class="d" cx="40.5" cy="415.1" r=".85"/>
<circle class="d" cx="38.9" cy="438.0" r=".85"/>
<circle class="d" cx="40.2" cy="413.6" r=".85"/>
<circle class="d" cx="39.5" cy="432.8" r=".85"/>
<circle class="d" cx="39.8" cy="430.3" r=".85"/>
<circle class="d" cx="38.5" cy="428.8" r=".85"/>
<circle class="d" cx="39.8" cy="430.5" r=".85"/>
<circle class="d" cx="39.1" cy="438.7" r=".85"/>
<circle class="d" cx="38.8" cy="437.6" r=".85"/>
<circle class="d" cx="38.6" cy="433.5" r=".85"/>
<circle class="d" cx="39.5" cy="432.2" r=".85"/>
<circle class="d" cx="38.3" cy="410.8" r=".85"/>
<circle class="d" cx="39.3" cy="395.6" r=".85"/>
<circle class="d" cx="39.0" cy="418.7" r=".85"/>
<circle class="d" cx="38.7" cy="434.2" r=".85"/>
<circle class="d" cx="38.6" cy="413.6" r=".85"/>
<circle class="d" cx="39.1" cy="423.4" r=".85"/>
<circle class="d" cx="39.0" cy="421.3" r=".85"/>
<circle class="d" cx="39.2" cy="436.3" r=".85"/>
<circle class="d" cx="38.1" cy="409.0" r=".85"/>
<circle class="d" cx="39.3" cy="422.0" r=".85"/>
<circle class="d" cx="39.3" cy="409.7" r=".85"/>
<circle class="d" cx="38.6" cy="413.2" r=".85"/>
<circle class="d" cx="39.3" cy="429.8" r=".85"/>
<circle class="d" cx="39.1" cy="429.2" r=".85"/>
<circle class="d" cx="39.2" cy="422.6" r=".85"/>
<circle class="d" cx="39.3" cy="426.2" r=".85"/>
<circle class="d" cx="39.7" cy="416.5" r=".85"/>
<circle class="d" cx="38.8" cy="434.4" r=".85"/>
<circle class="d" cx="40.1" cy="420.2" r=".85"/>
<circle class="d" cx="38.6" cy="406.6" r=".85"/>
<circle class="d" cx="39.6" cy="398.3" r=".85"/>
<circle class="d" cx="38.4" cy="426.0" r=".85"/>
<circle class="d" cx="38.8" cy="434.7" r=".85"/>
<circle class="d" cx="39.2" cy="437.9" r=".85"/>
<circle class="d" cx="38.9" cy="439.5" r=".85"/>
<circle class="d" cx="38.8" cy="414.4" r=".85"/>
<circle class="d" cx="39.6" cy="403.8" r=".85"/>
<circle class="d" cx="39.1" cy="395.9" r=".85"/>
<circle class="d" cx="39.3" cy="395.8" r=".85"/>
<circle class="d" cx="39.9" cy="434.9" r=".85"/>
<circle class="d" cx="38.6" cy="413.4" r=".85"/>
<circle class="d" cx="39.8" cy="400.8" r=".85"/>
<circle class="d" cx="39.4" cy="419.0" r=".85"/>
<circle class="d" cx="39.0" cy="411.8" r=".85"/>
<circle class="d" cx="39.4" cy="398.3" r=".85"/>
<circle class="d" cx="40.1" cy="415.8" r=".85"/>
<circle class="d" cx="39.3" cy="415.4" r=".85"/>
<circle class="d" cx="45.6" cy="449.6" r=".85"/>
<circle class="d" cx="45.9" cy="395.2" r=".85"/>
<circle class="d" cx="46.0" cy="395.0" r=".85"/>
<circle class="d" cx="45.8" cy="402.2" r=".85"/>
<circle class="d" cx="45.8" cy="397.3" r=".85"/>
<circle class="d" cx="46.4" cy="390.6" r=".85"/>
<circle class="d" cx="47.1" cy="397.6" r=".85"/>
<circle class="d" cx="46.2" cy="394.3" r=".85"/>
<circle class="d" cx="46.0" cy="409.8" r=".85"/>
<circle class="d" cx="47.6" cy="410.3" r=".85"/>
<circle class="d" cx="46.8" cy="403.7" r=".85"/>
<circle class="d" cx="45.9" cy="415.4" r=".85"/>
<circle class="d" cx="45.7" cy="406.2" r=".85"/>
<circle class="d" cx="46.6" cy="424.2" r=".85"/>
<circle class="d" cx="45.5" cy="405.1" r=".85"/>
<circle class="d" cx="46.4" cy="428.7" r=".85"/>
<circle class="d" cx="45.9" cy="399.8" r=".85"/>
<circle class="d" cx="46.3" cy="407.1" r=".85"/>
<circle class="d" cx="45.4" cy="398.0" r=".85"/>
<circle class="d" cx="45.4" cy="398.8" r=".85"/>
<circle class="d" cx="46.9" cy="412.3" r=".85"/>
<circle class="d" cx="47.2" cy="416.3" r=".85"/>
<circle class="d" cx="47.5" cy="405.6" r=".85"/>
<circle class="d" cx="46.5" cy="396.0" r=".85"/>
<circle class="d" cx="46.7" cy="391.8" r=".85"/>
<circle class="d" cx="47.1" cy="415.1" r=".85"/>
<circle class="d" cx="46.3" cy="395.6" r=".85"/>
<circle class="d" cx="46.9" cy="423.4" r=".85"/>
<circle class="d" cx="46.8" cy="413.4" r=".85"/>
<circle class="d" cx="46.1" cy="393.3" r=".85"/>
<circle class="d" cx="46.4" cy="394.2" r=".85"/>
<circle class="d" cx="46.7" cy="415.1" r=".85"/>
<circle class="d" cx="46.3" cy="420.9" r=".85"/>
<circle class="d" cx="45.2" cy="411.4" r=".85"/>
<circle class="d" cx="46.7" cy="396.8" r=".85"/>
<circle class="d" cx="47.2" cy="398.2" r=".85"/>
<circle class="d" cx="46.2" cy="409.8" r=".85"/>
<circle class="d" cx="46.6" cy="417.3" r=".85"/>
<circle class="d" cx="46.8" cy="398.0" r=".85"/>
<circle class="d" cx="45.2" cy="402.2" r=".85"/>
<circle class="d" cx="46.7" cy="417.3" r=".85"/>
<circle class="d" cx="46.2" cy="401.6" r=".85"/>
<circle class="d" cx="47.5" cy="411.9" r=".85"/>
<circle class="d" cx="47.4" cy="415.6" r=".85"/>
<circle class="d" cx="45.6" cy="413.1" r=".85"/>
<circle class="d" cx="45.5" cy="419.5" r=".85"/>
<circle class="d" cx="47.0" cy="422.8" r=".85"/>
<circle class="d" cx="45.2" cy="417.7" r=".85"/>
<circle class="d" cx="46.3" cy="390.1" r=".85"/>
<circle class="d" cx="47.1" cy="403.2" r=".85"/>
<circle class="d" cx="46.6" cy="390.1" r=".85"/>
<circle class="d" cx="46.6" cy="394.8" r=".85"/>
<circle class="d" cx="47.5" cy="405.3" r=".85"/>
<circle class="d" cx="46.1" cy="413.6" r=".85"/>
<circle class="d" cx="45.7" cy="408.7" r=".85"/>
<circle class="d" cx="45.5" cy="405.5" r=".85"/>
<circle class="d" cx="47.2" cy="404.9" r=".85"/>
<circle class="d" cx="47.1" cy="422.5" r=".85"/>
<circle class="d" cx="46.6" cy="427.6" r=".85"/>
<circle class="d" cx="46.2" cy="392.0" r=".85"/>
<circle class="d" cx="45.9" cy="420.1" r=".85"/>
<circle class="d" cx="45.9" cy="392.0" r=".85"/>
<circle class="d" cx="45.8" cy="408.9" r=".85"/>
<circle class="d" cx="45.8" cy="419.6" r=".85"/>
<circle class="d" cx="46.4" cy="416.2" r=".85"/>
<circle class="d" cx="47.0" cy="397.4" r=".85"/>
<circle class="d" cx="46.2" cy="428.1" r=".85"/>
<circle class="d" cx="45.5" cy="398.7" r=".85"/>
<circle class="d" cx="46.8" cy="419.1" r=".85"/>
<circle class="d" cx="46.4" cy="406.5" r=".85"/>
<circle class="d" cx="45.2" cy="405.1" r=".85"/>
<circle class="d" cx="45.5" cy="401.1" r=".85"/>
<circle class="d" cx="47.2" cy="410.1" r=".85"/>
<circle class="d" cx="46.2" cy="403.0" r=".85"/>
<circle class="d" cx="46.7" cy="428.2" r=".85"/>
<circle class="d" cx="46.2" cy="422.1" r=".85"/>
<circle class="d" cx="47.1" cy="416.4" r=".85"/>
<circle class="d" cx="45.9" cy="424.2" r=".85"/>
<circle class="d" cx="47.4" cy="414.1" r=".85"/>
<circle class="d" cx="46.9" cy="418.9" r=".85"/>
<circle class="d" cx="45.1" cy="408.3" r=".85"/>
<circle class="d" cx="45.9" cy="421.3" r=".85"/>
<circle class="d" cx="45.4" cy="416.7" r=".85"/>
<circle class="d" cx="46.4" cy="392.8" r=".85"/>
<circle class="d" cx="45.8" cy="402.2" r=".85"/>
<circle class="d" cx="46.7" cy="408.4" r=".85"/>
<circle class="d" cx="45.9" cy="425.4" r=".85"/>
<circle class="d" cx="46.7" cy="399.9" r=".85"/>
<circle class="d" cx="46.1" cy="413.5" r=".85"/>
<circle class="d" cx="47.2" cy="400.3" r=".85"/>
<circle class="d" cx="46.8" cy="405.2" r=".85"/>
<circle class="d" cx="46.8" cy="397.9" r=".85"/>
<circle class="d" cx="47.1" cy="415.6" r=".85"/>
<circle class="d" cx="47.5" cy="411.1" r=".85"/>
<circle class="d" cx="46.7" cy="402.8" r=".85"/>
<circle class="d" cx="47.4" cy="402.1" r=".85"/>
<circle class="d" cx="47.1" cy="399.1" r=".85"/>
<circle class="d" cx="52.5" cy="449.6" r=".85"/>
<circle class="d" cx="52.1" cy="445.0" r=".85"/>
<circle class="d" cx="52.4" cy="436.5" r=".85"/>
<circle class="d" cx="52.7" cy="421.5" r=".85"/>
<circle class="d" cx="52.8" cy="392.8" r=".85"/>
<circle class="d" cx="52.6" cy="417.2" r=".85"/>
<circle class="d" cx="52.9" cy="430.2" r=".85"/>
<circle class="d" cx="52.9" cy="387.7" r=".85"/>
<circle class="d" cx="51.8" cy="419.7" r=".85"/>
<circle class="d" cx="53.7" cy="407.6" r=".85"/>
<circle class="d" cx="52.4" cy="412.0" r=".85"/>
<circle class="d" cx="52.7" cy="426.1" r=".85"/>
<circle class="d" cx="53.3" cy="400.0" r=".85"/>
<circle class="d" cx="52.6" cy="399.4" r=".85"/>
<circle class="d" cx="53.2" cy="431.0" r=".85"/>
<circle class="d" cx="54.1" cy="404.5" r=".85"/>
<circle class="d" cx="52.7" cy="437.5" r=".85"/>
<circle class="d" cx="54.1" cy="408.6" r=".85"/>
<circle class="d" cx="53.4" cy="395.1" r=".85"/>
<circle class="d" cx="53.2" cy="430.3" r=".85"/>
<circle class="d" cx="52.7" cy="403.0" r=".85"/>
<circle class="d" cx="52.3" cy="411.1" r=".85"/>
<circle class="d" cx="54.2" cy="409.2" r=".85"/>
<circle class="d" cx="52.6" cy="433.6" r=".85"/>
<circle class="d" cx="52.9" cy="418.2" r=".85"/>
<circle class="d" cx="53.2" cy="397.9" r=".85"/>
<circle class="d" cx="53.8" cy="422.1" r=".85"/>
<circle class="d" cx="53.2" cy="416.2" r=".85"/>
<circle class="d" cx="52.3" cy="405.5" r=".85"/>
<circle class="d" cx="53.2" cy="413.5" r=".85"/>
<circle class="d" cx="54.2" cy="402.9" r=".85"/>
<circle class="d" cx="54.1" cy="425.2" r=".85"/>
<circle class="d" cx="53.5" cy="390.6" r=".85"/>
<circle class="d" cx="52.2" cy="431.2" r=".85"/>
<circle class="d" cx="53.2" cy="417.0" r=".85"/>
<circle class="d" cx="53.5" cy="436.2" r=".85"/>
<circle class="d" cx="52.4" cy="432.4" r=".85"/>
<circle class="d" cx="52.3" cy="417.8" r=".85"/>
<circle class="d" cx="53.2" cy="397.6" r=".85"/>
<circle class="d" cx="53.3" cy="394.3" r=".85"/>
<circle class="d" cx="52.5" cy="395.2" r=".85"/>
<circle class="d" cx="52.2" cy="428.7" r=".85"/>
<circle class="d" cx="53.1" cy="390.6" r=".85"/>
<circle class="d" cx="52.8" cy="408.6" r=".85"/>
<circle class="d" cx="54.0" cy="400.6" r=".85"/>
<circle class="d" cx="52.7" cy="402.2" r=".85"/>
<circle class="d" cx="54.3" cy="407.9" r=".85"/>
<circle class="d" cx="51.7" cy="410.6" r=".85"/>
<circle class="d" cx="53.5" cy="434.6" r=".85"/>
<circle class="d" cx="52.9" cy="407.3" r=".85"/>
<circle class="d" cx="54.0" cy="417.8" r=".85"/>
<circle class="d" cx="52.8" cy="389.9" r=".85"/>
<circle class="d" cx="54.1" cy="407.1" r=".85"/>
<circle class="d" cx="53.4" cy="391.0" r=".85"/>
<circle class="d" cx="54.2" cy="414.4" r=".85"/>
<circle class="d" cx="54.0" cy="421.1" r=".85"/>
<circle class="d" cx="52.2" cy="419.1" r=".85"/>
<circle class="d" cx="53.8" cy="419.4" r=".85"/>
<circle class="d" cx="52.7" cy="410.2" r=".85"/>
<circle class="d" cx="52.2" cy="429.6" r=".85"/>
<circle class="d" cx="51.8" cy="415.9" r=".85"/>
<circle class="d" cx="53.3" cy="416.6" r=".85"/>
<circle class="d" cx="53.2" cy="401.8" r=".85"/>
<circle class="d" cx="52.9" cy="408.4" r=".85"/>
<circle class="d" cx="52.3" cy="415.5" r=".85"/>
<circle class="d" cx="52.9" cy="427.0" r=".85"/>
<circle class="d" cx="52.3" cy="394.9" r=".85"/>
<circle class="d" cx="52.4" cy="392.1" r=".85"/>
<circle class="d" cx="51.8" cy="409.3" r=".85"/>
<circle class="d" cx="53.0" cy="426.6" r=".85"/>
<circle class="d" cx="52.9" cy="388.0" r=".85"/>
<circle class="d" cx="53.3" cy="436.0" r=".85"/>
<circle class="d" cx="54.0" cy="425.5" r=".85"/>
<circle class="d" cx="52.3" cy="432.3" r=".85"/>
<circle class="d" cx="52.2" cy="404.3" r=".85"/>
<circle class="d" cx="53.0" cy="411.4" r=".85"/>
<circle class="d" cx="52.5" cy="406.1" r=".85"/>
<circle class="d" cx="53.5" cy="415.2" r=".85"/>
<circle class="d" cx="53.1" cy="409.7" r=".85"/>
<circle class="d" cx="53.9" cy="420.0" r=".85"/>
<circle class="d" cx="54.0" cy="415.5" r=".85"/>
<circle class="d" cx="53.2" cy="390.8" r=".85"/>
<circle class="d" cx="52.4" cy="406.7" r=".85"/>
<circle class="d" cx="52.9" cy="439.5" r=".85"/>
<circle class="d" cx="52.3" cy="427.1" r=".85"/>
<circle class="d" cx="53.4" cy="414.5" r=".85"/>
<circle class="d" cx="53.2" cy="439.1" r=".85"/>
<circle class="d" cx="53.2" cy="390.0" r=".85"/>
<circle class="d" cx="54.0" cy="408.8" r=".85"/>
<circle class="d" cx="51.8" cy="403.6" r=".85"/>
<circle class="d" cx="53.2" cy="401.0" r=".85"/>
<circle class="d" cx="52.1" cy="415.2" r=".85"/>
<circle class="d" cx="53.2" cy="391.7" r=".85"/>
<circle class="d" cx="52.8" cy="432.9" r=".85"/>
<circle class="d" cx="52.6" cy="418.2" r=".85"/>
<circle class="d" cx="54.1" cy="420.5" r=".85"/>
<circle class="d" cx="53.1" cy="411.1" r=".85"/>
<circle class="d" cx="51.8" cy="408.0" r=".85"/>
<circle class="d" cx="52.1" cy="415.3" r=".85"/>
<circle class="d" cx="53.0" cy="396.0" r=".85"/>
<circle class="d" cx="52.2" cy="420.3" r=".85"/>
<circle class="d" cx="52.0" cy="402.0" r=".85"/>
<circle class="d" cx="53.3" cy="433.9" r=".85"/>
<circle class="d" cx="53.2" cy="385.3" r=".85"/>
<circle class="d" cx="52.9" cy="410.6" r=".85"/>
<circle class="d" cx="52.7" cy="392.5" r=".85"/>
<circle class="d" cx="53.7" cy="426.2" r=".85"/>
<circle class="d" cx="53.7" cy="412.2" r=".85"/>
<circle class="d" cx="52.5" cy="429.2" r=".85"/>
<circle class="d" cx="53.5" cy="398.7" r=".85"/>
<circle class="d" cx="52.8" cy="437.0" r=".85"/>
<circle class="d" cx="52.6" cy="433.4" r=".85"/>
<circle class="d" cx="53.3" cy="434.9" r=".85"/>
<circle class="d" cx="52.9" cy="421.6" r=".85"/>
<circle class="d" cx="53.6" cy="431.2" r=".85"/>
<circle class="d" cx="53.2" cy="409.0" r=".85"/>
<circle class="d" cx="54.0" cy="404.3" r=".85"/>
<circle class="d" cx="52.6" cy="413.5" r=".85"/>
<circle class="d" cx="53.3" cy="405.2" r=".85"/>
<circle class="d" cx="52.0" cy="423.3" r=".85"/>
<circle class="d" cx="53.8" cy="417.5" r=".85"/>
<circle class="d" cx="52.2" cy="430.1" r=".85"/>
<circle class="d" cx="53.7" cy="432.7" r=".85"/>
<circle class="d" cx="53.4" cy="389.0" r=".85"/>
<circle class="d" cx="53.6" cy="429.7" r=".85"/>
<circle class="d" cx="53.4" cy="390.4" r=".85"/>
<circle class="d" cx="52.9" cy="396.3" r=".85"/>
<circle class="d" cx="52.7" cy="412.5" r=".85"/>
<circle class="d" cx="53.0" cy="402.6" r=".85"/>
<circle class="d" cx="52.2" cy="431.8" r=".85"/>
<circle class="d" cx="59.2" cy="373.0" r=".85"/>
<circle class="d" cx="59.3" cy="440.0" r=".85"/>
<circle class="d" cx="59.9" cy="421.3" r=".85"/>
<circle class="d" cx="60.3" cy="407.4" r=".85"/>
<circle class="d" cx="60.7" cy="407.7" r=".85"/>
<circle class="d" cx="59.5" cy="385.2" r=".85"/>
<circle class="d" cx="60.3" cy="404.8" r=".85"/>
<circle class="d" cx="59.0" cy="397.2" r=".85"/>
<circle class="d" cx="59.5" cy="395.1" r=".85"/>
<circle class="d" cx="58.9" cy="390.2" r=".85"/>
<circle class="d" cx="60.1" cy="422.0" r=".85"/>
<circle class="d" cx="59.3" cy="414.5" r=".85"/>
<circle class="d" cx="58.5" cy="403.5" r=".85"/>
<circle class="d" cx="60.3" cy="396.0" r=".85"/>
<circle class="d" cx="60.5" cy="408.6" r=".85"/>
<circle class="d" cx="59.6" cy="396.0" r=".85"/>
<circle class="d" cx="59.8" cy="420.5" r=".85"/>
<circle class="d" cx="58.7" cy="401.4" r=".85"/>
<circle class="d" cx="59.9" cy="424.6" r=".85"/>
<circle class="d" cx="60.0" cy="393.0" r=".85"/>
<circle class="d" cx="58.9" cy="416.7" r=".85"/>
<circle class="d" cx="59.9" cy="394.0" r=".85"/>
<circle class="d" cx="59.2" cy="394.5" r=".85"/>
<circle class="d" cx="60.5" cy="397.2" r=".85"/>
<circle class="d" cx="59.2" cy="410.0" r=".85"/>
<circle class="d" cx="59.7" cy="431.2" r=".85"/>
<circle class="d" cx="58.8" cy="402.5" r=".85"/>
<circle class="d" cx="60.0" cy="413.0" r=".85"/>
<circle class="d" cx="59.4" cy="408.5" r=".85"/>
<circle class="d" cx="59.3" cy="391.7" r=".85"/>
<circle class="d" cx="59.4" cy="419.8" r=".85"/>
<circle class="d" cx="59.3" cy="412.0" r=".85"/>
<circle class="d" cx="60.3" cy="395.7" r=".85"/>
<circle class="d" cx="60.2" cy="421.4" r=".85"/>
<circle class="d" cx="59.4" cy="416.9" r=".85"/>
<circle class="d" cx="58.6" cy="399.7" r=".85"/>
<circle class="d" cx="60.0" cy="404.7" r=".85"/>
<circle class="d" cx="59.8" cy="405.7" r=".85"/>
<circle class="d" cx="60.6" cy="404.2" r=".85"/>
<circle class="d" cx="60.0" cy="393.6" r=".85"/>
<circle class="d" cx="60.7" cy="403.3" r=".85"/>
<circle class="d" cx="59.1" cy="386.8" r=".85"/>
<circle class="d" cx="59.5" cy="421.7" r=".85"/>
<circle class="d" cx="59.6" cy="389.8" r=".85"/>
<circle class="d" cx="59.8" cy="418.7" r=".85"/>
<circle class="d" cx="59.3" cy="424.0" r=".85"/>
<circle class="d" cx="60.2" cy="410.3" r=".85"/>
<circle class="d" cx="59.3" cy="390.8" r=".85"/>
<circle class="d" cx="59.3" cy="394.7" r=".85"/>
<circle class="d" cx="59.1" cy="404.8" r=".85"/>
<circle class="d" cx="59.5" cy="424.5" r=".85"/>
<circle class="d" cx="59.3" cy="395.3" r=".85"/>
<circle class="d" cx="59.8" cy="422.3" r=".85"/>
<circle class="d" cx="58.8" cy="407.1" r=".85"/>
<circle class="d" cx="59.7" cy="430.3" r=".85"/>
<circle class="d" cx="59.4" cy="423.5" r=".85"/>
<circle class="d" cx="58.7" cy="398.8" r=".85"/>
<circle class="d" cx="60.1" cy="424.2" r=".85"/>
<circle class="d" cx="59.0" cy="397.6" r=".85"/>
<circle class="d" cx="59.0" cy="402.0" r=".85"/>
<circle class="d" cx="59.5" cy="396.5" r=".85"/>
<circle class="d" cx="59.9" cy="405.1" r=".85"/>
<circle class="d" cx="60.4" cy="402.0" r=".85"/>
<circle class="d" cx="60.0" cy="387.7" r=".85"/>
<circle class="d" cx="58.4" cy="419.4" r=".85"/>
<circle class="d" cx="59.6" cy="385.5" r=".85"/>
<circle class="d" cx="60.0" cy="393.8" r=".85"/>
<circle class="d" cx="58.9" cy="424.9" r=".85"/>
<circle class="d" cx="59.9" cy="426.9" r=".85"/>
<circle class="d" cx="60.2" cy="416.4" r=".85"/>
<circle class="d" cx="60.1" cy="413.8" r=".85"/>
<circle class="d" cx="59.6" cy="405.6" r=".85"/>
<circle class="d" cx="58.5" cy="399.9" r=".85"/>
<circle class="d" cx="59.6" cy="408.3" r=".85"/>
<circle class="d" cx="59.7" cy="415.8" r=".85"/>
<circle class="d" cx="59.2" cy="416.3" r=".85"/>
<circle class="d" cx="58.4" cy="404.7" r=".85"/>
<circle class="d" cx="58.3" cy="414.9" r=".85"/>
<circle class="d" cx="60.6" cy="413.7" r=".85"/>
<circle class="d" cx="59.5" cy="400.5" r=".85"/>
<circle class="d" cx="58.3" cy="407.8" r=".85"/>
<circle class="d" cx="59.1" cy="418.8" r=".85"/>
<circle class="d" cx="65.8" cy="398.8" r=".85"/>
<circle class="d" cx="66.1" cy="438.0" r=".85"/>
<circle class="d" cx="65.4" cy="422.9" r=".85"/>
<circle class="d" cx="66.3" cy="421.5" r=".85"/>
<circle class="d" cx="66.2" cy="424.2" r=".85"/>
<circle class="d" cx="67.2" cy="419.1" r=".85"/>
<circle class="d" cx="65.8" cy="424.8" r=".85"/>
<circle class="d" cx="66.9" cy="424.2" r=".85"/>
<circle class="d" cx="66.6" cy="415.6" r=".85"/>
<circle class="d" cx="65.7" cy="417.3" r=".85"/>
<circle class="d" cx="66.4" cy="428.8" r=".85"/>
<circle class="d" cx="66.4" cy="426.8" r=".85"/>
<circle class="d" cx="66.7" cy="424.3" r=".85"/>
<circle class="d" cx="65.5" cy="423.9" r=".85"/>
<circle class="d" cx="66.8" cy="425.0" r=".85"/>
<circle class="d" cx="67.2" cy="421.1" r=".85"/>
<circle class="d" cx="67.0" cy="424.8" r=".85"/>
<circle class="d" cx="65.7" cy="426.8" r=".85"/>
<circle class="d" cx="65.8" cy="419.5" r=".85"/>
<circle class="d" cx="67.3" cy="421.5" r=".85"/>
<circle class="d" cx="65.7" cy="415.8" r=".85"/>
<circle class="d" cx="66.3" cy="416.8" r=".85"/>
<circle class="d" cx="65.6" cy="428.8" r=".85"/>
<circle class="d" cx="67.3" cy="420.8" r=".85"/>
<circle class="d" cx="66.1" cy="429.7" r=".85"/>
<circle class="d" cx="65.8" cy="416.5" r=".85"/>
<circle class="d" cx="70.8" cy="438.0" r=".85"/>
<circle class="d" cx="73.3" cy="404.1" r=".85"/>
<circle class="d" cx="72.9" cy="401.4" r=".85"/>
<circle class="d" cx="73.1" cy="416.9" r=".85"/>
<circle class="d" cx="72.2" cy="412.5" r=".85"/>
<circle class="d" cx="71.5" cy="422.6" r=".85"/>
<circle class="d" cx="72.6" cy="373.9" r=".85"/>
<circle class="d" cx="72.6" cy="377.7" r=".85"/>
<circle class="d" cx="72.3" cy="382.8" r=".85"/>
<circle class="d" cx="72.4" cy="376.5" r=".85"/>
<circle class="d" cx="71.4" cy="398.9" r=".85"/>
<circle class="d" cx="72.6" cy="420.0" r=".85"/>
<circle class="d" cx="72.0" cy="410.2" r=".85"/>
<circle class="d" cx="72.9" cy="419.4" r=".85"/>
<circle class="d" cx="72.8" cy="403.5" r=".85"/>
<circle class="d" cx="72.5" cy="421.8" r=".85"/>
<circle class="d" cx="72.4" cy="430.7" r=".85"/>
<circle class="d" cx="73.2" cy="391.2" r=".85"/>
<circle class="d" cx="72.6" cy="395.2" r=".85"/>
<circle class="d" cx="72.0" cy="425.9" r=".85"/>
<circle class="d" cx="73.1" cy="402.8" r=".85"/>
<circle class="d" cx="73.0" cy="421.5" r=".85"/>
<circle class="d" cx="72.6" cy="421.9" r=".85"/>
<circle class="d" cx="71.7" cy="426.9" r=".85"/>
<circle class="d" cx="71.5" cy="405.7" r=".85"/>
<circle class="d" cx="71.7" cy="417.3" r=".85"/>
<circle class="d" cx="72.2" cy="408.8" r=".85"/>
<circle class="d" cx="72.2" cy="418.5" r=".85"/>
<circle class="d" cx="72.7" cy="378.2" r=".85"/>
<circle class="d" cx="73.1" cy="386.7" r=".85"/>
<circle class="d" cx="72.3" cy="425.2" r=".85"/>
<circle class="d" cx="72.7" cy="384.0" r=".85"/>
<circle class="d" cx="72.1" cy="394.4" r=".85"/>
<circle class="d" cx="72.0" cy="403.7" r=".85"/>
<circle class="d" cx="72.7" cy="379.3" r=".85"/>
<circle class="d" cx="72.0" cy="382.2" r=".85"/>
<circle class="d" cx="73.3" cy="403.2" r=".85"/>
<circle class="d" cx="71.7" cy="401.7" r=".85"/>
<circle class="d" cx="73.2" cy="419.0" r=".85"/>
<circle class="d" cx="73.2" cy="418.3" r=".85"/>
<circle class="d" cx="71.5" cy="384.3" r=".85"/>
<circle class="d" cx="72.7" cy="376.0" r=".85"/>
<circle class="d" cx="73.4" cy="400.0" r=".85"/>
<circle class="d" cx="72.2" cy="376.8" r=".85"/>
<circle class="d" cx="71.9" cy="380.1" r=".85"/>
<circle class="d" cx="73.5" cy="406.3" r=".85"/>
<circle class="d" cx="72.2" cy="412.5" r=".85"/>
<circle class="d" cx="73.1" cy="382.4" r=".85"/>
<circle class="d" cx="73.2" cy="390.9" r=".85"/>
<circle class="d" cx="71.7" cy="426.4" r=".85"/>
<circle class="d" cx="72.6" cy="419.4" r=".85"/>
<circle class="d" cx="73.4" cy="399.5" r=".85"/>
<circle class="d" cx="71.4" cy="412.8" r=".85"/>
<circle class="d" cx="71.5" cy="390.9" r=".85"/>
<circle class="d" cx="72.8" cy="393.4" r=".85"/>
<circle class="d" cx="73.4" cy="406.9" r=".85"/>
<circle class="d" cx="71.7" cy="424.1" r=".85"/>
<circle class="d" cx="72.5" cy="425.2" r=".85"/>
<circle class="d" cx="73.1" cy="399.7" r=".85"/>
<circle class="d" cx="71.4" cy="401.2" r=".85"/>
<circle class="d" cx="71.4" cy="410.4" r=".85"/>
<circle class="d" cx="71.8" cy="389.7" r=".85"/>
<circle class="d" cx="71.7" cy="422.5" r=".85"/>
<circle class="d" cx="73.3" cy="402.0" r=".85"/>
<circle class="d" cx="71.6" cy="379.7" r=".85"/>
<circle class="d" cx="71.9" cy="425.8" r=".85"/>
<circle class="d" cx="72.0" cy="386.6" r=".85"/>
<circle class="d" cx="72.7" cy="431.5" r=".85"/>
<circle class="d" cx="72.9" cy="401.1" r=".85"/>
<circle class="d" cx="71.2" cy="390.3" r=".85"/>
<circle class="d" cx="71.6" cy="420.6" r=".85"/>
<circle class="d" cx="72.3" cy="373.1" r=".85"/>
<circle class="d" cx="73.1" cy="384.0" r=".85"/>
<circle class="d" cx="71.6" cy="385.9" r=".85"/>
<circle class="d" cx="72.7" cy="383.6" r=".85"/>
<circle class="d" cx="72.3" cy="393.5" r=".85"/>
<circle class="d" cx="73.0" cy="411.9" r=".85"/>
<circle class="d" cx="72.1" cy="396.6" r=".85"/>
<circle class="d" cx="73.2" cy="406.8" r=".85"/>
<circle class="d" cx="71.5" cy="424.0" r=".85"/>
<circle class="d" cx="72.8" cy="426.7" r=".85"/>
<circle class="d" cx="71.5" cy="408.4" r=".85"/>
<circle class="d" cx="71.1" cy="394.9" r=".85"/>
<circle class="d" cx="72.3" cy="403.7" r=".85"/>
<circle class="d" cx="72.8" cy="380.1" r=".85"/>
<circle class="d" cx="72.6" cy="424.1" r=".85"/>
<circle class="d" cx="71.2" cy="395.5" r=".85"/>
<circle class="d" cx="72.3" cy="424.5" r=".85"/>
<circle class="d" cx="72.4" cy="403.3" r=".85"/>
<circle class="d" cx="72.0" cy="374.2" r=".85"/>
<circle class="d" cx="71.1" cy="404.5" r=".85"/>
<circle class="d" cx="71.9" cy="378.7" r=".85"/>
<circle class="d" cx="72.4" cy="374.0" r=".85"/>
<circle class="d" cx="71.3" cy="403.9" r=".85"/>
<circle class="d" cx="71.6" cy="424.3" r=".85"/>
<circle class="d" cx="72.3" cy="380.3" r=".85"/>
<circle class="d" cx="72.5" cy="389.0" r=".85"/>
<circle class="d" cx="71.5" cy="411.9" r=".85"/>
<circle class="d" cx="72.1" cy="421.7" r=".85"/>
<circle class="d" cx="72.4" cy="397.8" r=".85"/>
<circle class="d" cx="73.0" cy="396.3" r=".85"/>
<circle class="d" cx="73.5" cy="395.7" r=".85"/>
<circle class="d" cx="72.9" cy="420.5" r=".85"/>
<circle class="d" cx="73.2" cy="416.5" r=".85"/>
<circle class="d" cx="72.6" cy="387.7" r=".85"/>
<circle class="d" cx="71.2" cy="394.5" r=".85"/>
<circle class="d" cx="71.1" cy="398.5" r=".85"/>
<circle class="d" cx="72.7" cy="381.2" r=".85"/>
<circle class="d" cx="72.7" cy="428.3" r=".85"/>
<circle class="d" cx="71.6" cy="425.2" r=".85"/>
<circle class="d" cx="72.4" cy="401.1" r=".85"/>
<circle class="d" cx="72.0" cy="427.5" r=".85"/>
<circle class="d" cx="73.5" cy="403.7" r=".85"/>
<circle class="d" cx="77.7" cy="437.0" r=".85"/>
<circle class="d" cx="77.5" cy="400.2" r=".85"/>
<circle class="d" cx="77.9" cy="392.5" r=".85"/>
<circle class="d" cx="78.7" cy="415.4" r=".85"/>
<circle class="d" cx="77.6" cy="407.2" r=".85"/>
<circle class="d" cx="78.5" cy="416.6" r=".85"/>
<circle class="d" cx="77.9" cy="410.1" r=".85"/>
<circle class="d" cx="78.6" cy="399.0" r=".85"/>
<circle class="d" cx="78.7" cy="369.8" r=".85"/>
<circle class="d" cx="78.4" cy="385.0" r=".85"/>
<circle class="d" cx="77.9" cy="388.1" r=".85"/>
<circle class="d" cx="78.2" cy="400.4" r=".85"/>
<circle class="d" cx="78.3" cy="373.2" r=".85"/>
<circle class="d" cx="79.0" cy="408.7" r=".85"/>
<circle class="d" cx="78.2" cy="379.4" r=".85"/>
<circle class="d" cx="79.2" cy="414.2" r=".85"/>
<circle class="d" cx="78.8" cy="424.0" r=".85"/>
<circle class="d" cx="78.3" cy="418.8" r=".85"/>
<circle class="d" cx="79.2" cy="421.6" r=".85"/>
<circle class="d" cx="77.6" cy="377.5" r=".85"/>
<circle class="d" cx="78.4" cy="420.3" r=".85"/>
<circle class="d" cx="78.3" cy="433.5" r=".85"/>
<circle class="d" cx="78.6" cy="421.5" r=".85"/>
<circle class="d" cx="78.3" cy="394.4" r=".85"/>
<circle class="d" cx="78.1" cy="400.7" r=".85"/>
<circle class="d" cx="79.2" cy="390.6" r=".85"/>
<circle class="d" cx="77.6" cy="402.5" r=".85"/>
<circle class="d" cx="77.3" cy="407.8" r=".85"/>
<circle class="d" cx="78.9" cy="430.7" r=".85"/>
<circle class="d" cx="77.9" cy="425.2" r=".85"/>
<circle class="d" cx="77.1" cy="397.6" r=".85"/>
<circle class="d" cx="78.4" cy="372.2" r=".85"/>
<circle class="d" cx="78.5" cy="430.7" r=".85"/>
<circle class="d" cx="78.4" cy="435.9" r=".85"/>
<circle class="d" cx="78.1" cy="414.9" r=".85"/>
<circle class="d" cx="79.5" cy="408.8" r=".85"/>
<circle class="d" cx="77.5" cy="414.3" r=".85"/>
<circle class="d" cx="78.6" cy="394.1" r=".85"/>
<circle class="d" cx="79.6" cy="407.5" r=".85"/>
<circle class="d" cx="78.7" cy="401.6" r=".85"/>
<circle class="d" cx="78.4" cy="435.7" r=".85"/>
<circle class="d" cx="79.2" cy="412.4" r=".85"/>
<circle class="d" cx="79.0" cy="422.1" r=".85"/>
<circle class="d" cx="78.3" cy="435.3" r=".85"/>
<circle class="d" cx="77.6" cy="403.1" r=".85"/>
<circle class="d" cx="78.6" cy="381.2" r=".85"/>
<circle class="d" cx="78.7" cy="392.7" r=".85"/>
<circle class="d" cx="78.7" cy="371.8" r=".85"/>
<circle class="d" cx="77.3" cy="389.6" r=".85"/>
<circle class="d" cx="78.6" cy="389.4" r=".85"/>
<circle class="d" cx="77.8" cy="404.2" r=".85"/>
<circle class="d" cx="79.6" cy="412.3" r=".85"/>
<circle class="d" cx="77.4" cy="407.5" r=".85"/>
<circle class="d" cx="77.7" cy="379.5" r=".85"/>
<circle class="d" cx="78.7" cy="414.1" r=".85"/>
<circle class="d" cx="78.0" cy="395.2" r=".85"/>
<circle class="d" cx="77.7" cy="416.9" r=".85"/>
<circle class="d" cx="78.1" cy="418.8" r=".85"/>
<circle class="d" cx="77.3" cy="399.1" r=".85"/>
<circle class="d" cx="79.1" cy="428.7" r=".85"/>
<circle class="d" cx="77.8" cy="398.5" r=".85"/>
<circle class="d" cx="78.8" cy="371.9" r=".85"/>
<circle class="d" cx="79.1" cy="390.1" r=".85"/>
<circle class="d" cx="79.5" cy="389.3" r=".85"/>
<circle class="d" cx="77.7" cy="402.2" r=".85"/>
<circle class="d" cx="77.7" cy="395.1" r=".85"/>
<circle class="d" cx="78.4" cy="389.7" r=".85"/>
<circle class="d" cx="77.7" cy="386.8" r=".85"/>
<circle class="d" cx="78.5" cy="391.7" r=".85"/>
<circle class="d" cx="77.3" cy="394.8" r=".85"/>
<circle class="d" cx="78.2" cy="377.3" r=".85"/>
<circle class="d" cx="77.4" cy="386.4" r=".85"/>
<circle class="d" cx="77.6" cy="413.5" r=".85"/>
<circle class="d" cx="77.4" cy="406.0" r=".85"/>
<circle class="d" cx="79.2" cy="398.7" r=".85"/>
<circle class="d" cx="78.8" cy="379.7" r=".85"/>
<circle class="d" cx="77.7" cy="394.3" r=".85"/>
<circle class="d" cx="78.1" cy="432.7" r=".85"/>
<circle class="d" cx="79.4" cy="401.4" r=".85"/>
<circle class="d" cx="77.8" cy="408.4" r=".85"/>
<circle class="d" cx="78.4" cy="402.3" r=".85"/>
<circle class="d" cx="78.8" cy="407.7" r=".85"/>
<circle class="d" cx="78.1" cy="407.0" r=".85"/>
<circle class="d" cx="78.8" cy="408.3" r=".85"/>
<circle class="d" cx="78.2" cy="376.3" r=".85"/>
<circle class="d" cx="77.9" cy="381.6" r=".85"/>
<circle class="d" cx="78.1" cy="377.5" r=".85"/>
<circle class="d" cx="79.1" cy="396.0" r=".85"/>
<circle class="d" cx="77.8" cy="428.1" r=".85"/>
<circle class="d" cx="78.0" cy="414.0" r=".85"/>
<circle class="d" cx="78.9" cy="396.6" r=".85"/>
<circle class="d" cx="78.1" cy="385.6" r=".85"/>
<circle class="d" cx="79.0" cy="403.4" r=".85"/>
<circle class="d" cx="78.0" cy="375.8" r=".85"/>
<circle class="d" cx="77.3" cy="389.3" r=".85"/>
<circle class="d" cx="77.7" cy="389.8" r=".85"/>
<circle class="d" cx="78.8" cy="425.2" r=".85"/>
<circle class="d" cx="78.8" cy="386.1" r=".85"/>
<circle class="d" cx="78.0" cy="423.0" r=".85"/>
<circle class="d" cx="78.5" cy="371.9" r=".85"/>
<circle class="d" cx="77.7" cy="399.2" r=".85"/>
<circle class="d" cx="77.8" cy="430.3" r=".85"/>
<circle class="d" cx="79.0" cy="415.5" r=".85"/>
<circle class="d" cx="78.2" cy="403.7" r=".85"/>
<circle class="d" cx="78.7" cy="431.3" r=".85"/>
<circle class="d" cx="78.3" cy="424.6" r=".85"/>
<circle class="d" cx="78.3" cy="372.6" r=".85"/>
<circle class="d" cx="77.4" cy="403.3" r=".85"/>
<circle class="d" cx="77.9" cy="419.5" r=".85"/>
<circle class="d" cx="78.8" cy="405.6" r=".85"/>
<circle class="d" cx="78.2" cy="383.0" r=".85"/>
<circle class="d" cx="77.7" cy="382.5" r=".85"/>
<circle class="d" cx="77.8" cy="416.4" r=".85"/>
<circle class="d" cx="78.3" cy="385.2" r=".85"/>
<circle class="d" cx="78.2" cy="431.7" r=".85"/>
<circle class="d" cx="79.2" cy="399.0" r=".85"/>
<circle class="d" cx="77.5" cy="405.7" r=".85"/>
<circle class="d" cx="78.3" cy="413.7" r=".85"/>
<circle class="d" cx="77.6" cy="420.3" r=".85"/>
<circle class="d" cx="77.7" cy="388.4" r=".85"/>
<circle class="d" cx="78.3" cy="399.1" r=".85"/>
<circle class="d" cx="78.4" cy="376.6" r=".85"/>
<circle class="d" cx="79.0" cy="371.8" r=".85"/>
<circle class="d" cx="78.5" cy="425.9" r=".85"/>
<circle class="d" cx="78.3" cy="376.3" r=".85"/>
<circle class="d" cx="77.5" cy="381.7" r=".85"/>
<circle class="d" cx="78.6" cy="430.6" r=".85"/>
<circle class="d" cx="78.1" cy="431.7" r=".85"/>
<circle class="d" cx="79.3" cy="395.9" r=".85"/>
<circle class="d" cx="79.3" cy="418.7" r=".85"/>
<circle class="d" cx="79.0" cy="380.3" r=".85"/>
<circle class="d" cx="77.7" cy="418.7" r=".85"/>
<circle class="d" cx="78.2" cy="424.3" r=".85"/>
<circle class="d" cx="79.3" cy="405.9" r=".85"/>
<circle class="d" cx="79.2" cy="409.0" r=".85"/>
<circle class="d" cx="79.4" cy="416.3" r=".85"/>
<circle class="d" cx="77.5" cy="402.1" r=".85"/>
<circle class="d" cx="77.4" cy="389.1" r=".85"/>
<circle class="d" cx="77.5" cy="416.3" r=".85"/>
<circle class="d" cx="78.1" cy="371.7" r=".85"/>
<circle class="d" cx="78.9" cy="425.8" r=".85"/>
<circle class="d" cx="78.2" cy="408.4" r=".85"/>
<circle class="d" cx="78.8" cy="391.7" r=".85"/>
<circle class="d" cx="77.8" cy="424.3" r=".85"/>
<circle class="d" cx="78.5" cy="388.8" r=".85"/>
<circle class="d" cx="85.1" cy="378.5" r=".85"/>
<circle class="d" cx="86.3" cy="450.0" r=".85"/>
<circle class="d" cx="84.4" cy="410.2" r=".85"/>
<circle class="d" cx="83.8" cy="401.0" r=".85"/>
<circle class="d" cx="84.8" cy="390.7" r=".85"/>
<circle class="d" cx="84.7" cy="383.7" r=".85"/>
<circle class="d" cx="85.0" cy="416.9" r=".85"/>
<circle class="d" cx="83.9" cy="415.8" r=".85"/>
<circle class="d" cx="85.0" cy="390.1" r=".85"/>
<circle class="d" cx="84.5" cy="385.5" r=".85"/>
<circle class="d" cx="84.6" cy="384.4" r=".85"/>
<circle class="d" cx="84.2" cy="410.8" r=".85"/>
<circle class="d" cx="83.8" cy="414.9" r=".85"/>
<circle class="d" cx="85.0" cy="421.7" r=".85"/>
<circle class="d" cx="84.0" cy="425.9" r=".85"/>
<circle class="d" cx="84.5" cy="444.4" r=".85"/>
<circle class="d" cx="84.3" cy="433.6" r=".85"/>
<circle class="d" cx="85.2" cy="442.3" r=".85"/>
<circle class="d" cx="84.2" cy="387.2" r=".85"/>
<circle class="d" cx="83.9" cy="393.9" r=".85"/>
<circle class="d" cx="84.7" cy="411.7" r=".85"/>
<circle class="d" cx="85.5" cy="437.5" r=".85"/>
<circle class="d" cx="85.9" cy="415.7" r=".85"/>
<circle class="d" cx="84.6" cy="389.3" r=".85"/>
<circle class="d" cx="85.6" cy="429.2" r=".85"/>
<circle class="d" cx="85.3" cy="386.2" r=".85"/>
<circle class="d" cx="84.4" cy="441.5" r=".85"/>
<circle class="d" cx="84.0" cy="423.3" r=".85"/>
<circle class="d" cx="84.6" cy="440.0" r=".85"/>
<circle class="d" cx="85.5" cy="390.9" r=".85"/>
<circle class="d" cx="85.3" cy="382.4" r=".85"/>
<circle class="d" cx="84.5" cy="390.4" r=".85"/>
<circle class="d" cx="84.1" cy="424.0" r=".85"/>
<circle class="d" cx="85.2" cy="436.7" r=".85"/>
<circle class="d" cx="84.0" cy="432.1" r=".85"/>
<circle class="d" cx="85.6" cy="424.1" r=".85"/>
<circle class="d" cx="84.7" cy="428.2" r=".85"/>
<circle class="d" cx="85.8" cy="419.5" r=".85"/>
<circle class="d" cx="85.8" cy="396.3" r=".85"/>
<circle class="d" cx="84.8" cy="395.8" r=".85"/>
<circle class="d" cx="84.5" cy="416.7" r=".85"/>
<circle class="d" cx="84.7" cy="378.4" r=".85"/>
<circle class="d" cx="85.4" cy="379.4" r=".85"/>
<circle class="d" cx="84.3" cy="409.6" r=".85"/>
<circle class="d" cx="86.1" cy="414.8" r=".85"/>
<circle class="d" cx="85.8" cy="422.6" r=".85"/>
<circle class="d" cx="85.2" cy="429.9" r=".85"/>
<circle class="d" cx="85.7" cy="433.9" r=".85"/>
<circle class="d" cx="85.5" cy="423.6" r=".85"/>
<circle class="d" cx="85.2" cy="427.5" r=".85"/>
<circle class="d" cx="84.7" cy="401.5" r=".85"/>
<circle class="d" cx="84.7" cy="382.1" r=".85"/>
<circle class="d" cx="84.8" cy="444.2" r=".85"/>
<circle class="d" cx="83.9" cy="394.2" r=".85"/>
<circle class="d" cx="84.8" cy="436.4" r=".85"/>
<circle class="d" cx="84.1" cy="416.1" r=".85"/>
<circle class="d" cx="84.7" cy="382.4" r=".85"/>
<circle class="d" cx="85.9" cy="426.7" r=".85"/>
<circle class="d" cx="85.1" cy="400.8" r=".85"/>
<circle class="d" cx="84.6" cy="430.5" r=".85"/>
<circle class="d" cx="85.6" cy="429.9" r=".85"/>
<circle class="d" cx="85.4" cy="382.5" r=".85"/>
<circle class="d" cx="84.6" cy="384.3" r=".85"/>
<circle class="d" cx="85.1" cy="398.1" r=".85"/>
<circle class="d" cx="84.4" cy="435.9" r=".85"/>
<circle class="d" cx="85.1" cy="427.2" r=".85"/>
<circle class="d" cx="85.4" cy="383.3" r=".85"/>
<circle class="d" cx="85.8" cy="402.3" r=".85"/>
<circle class="d" cx="84.2" cy="420.9" r=".85"/>
<circle class="d" cx="85.3" cy="399.9" r=".85"/>
<circle class="d" cx="84.5" cy="405.2" r=".85"/>
<circle class="d" cx="84.4" cy="381.8" r=".85"/>
<circle class="d" cx="84.9" cy="420.0" r=".85"/>
<circle class="d" cx="85.8" cy="394.0" r=".85"/>
<circle class="d" cx="83.8" cy="415.8" r=".85"/>
<circle class="d" cx="84.5" cy="419.1" r=".85"/>
<circle class="d" cx="83.8" cy="408.5" r=".85"/>
<circle class="d" cx="85.0" cy="432.5" r=".85"/>
<circle class="d" cx="85.3" cy="417.4" r=".85"/>
<circle class="d" cx="85.5" cy="418.3" r=".85"/>
<circle class="d" cx="85.5" cy="395.3" r=".85"/>
<circle class="d" cx="85.4" cy="430.0" r=".85"/>
<circle class="d" cx="84.7" cy="443.5" r=".85"/>
<circle class="d" cx="83.9" cy="413.1" r=".85"/>
<circle class="d" cx="85.0" cy="378.6" r=".85"/>
<circle class="d" cx="85.9" cy="429.9" r=".85"/>
<circle class="d" cx="84.1" cy="393.3" r=".85"/>
<circle class="d" cx="85.0" cy="396.8" r=".85"/>
<circle class="d" cx="84.7" cy="390.2" r=".85"/>
<circle class="d" cx="84.3" cy="433.6" r=".85"/>
<circle class="d" cx="84.6" cy="379.9" r=".85"/>
<circle class="d" cx="85.0" cy="443.8" r=".85"/>
<circle class="d" cx="84.8" cy="401.1" r=".85"/>
<circle class="d" cx="84.0" cy="399.7" r=".85"/>
<circle class="d" cx="85.8" cy="413.1" r=".85"/>
<circle class="d" cx="84.8" cy="382.0" r=".85"/>
<circle class="d" cx="85.1" cy="439.6" r=".85"/>
<circle class="d" cx="84.3" cy="401.3" r=".85"/>
<circle class="d" cx="85.2" cy="391.6" r=".85"/>
<circle class="d" cx="84.3" cy="398.0" r=".85"/>
<circle class="d" cx="84.5" cy="436.0" r=".85"/>
<circle class="d" cx="84.4" cy="428.4" r=".85"/>
<circle class="d" cx="85.8" cy="400.2" r=".85"/>
<circle class="d" cx="85.1" cy="388.8" r=".85"/>
<circle class="d" cx="85.9" cy="408.4" r=".85"/>
<circle class="d" cx="84.6" cy="392.1" r=".85"/>
<circle class="d" cx="84.3" cy="430.2" r=".85"/>
<circle class="d" cx="84.6" cy="435.9" r=".85"/>
<circle class="d" cx="86.0" cy="411.0" r=".85"/>
<circle class="d" cx="84.2" cy="388.1" r=".85"/>
<circle class="d" cx="84.2" cy="389.3" r=".85"/>
<circle class="d" cx="85.4" cy="400.7" r=".85"/>
<circle class="d" cx="84.2" cy="437.1" r=".85"/>
<circle class="d" cx="85.3" cy="393.7" r=".85"/>
<circle class="d" cx="91.5" cy="377.5" r=".85"/>
<circle class="d" cx="93.2" cy="441.5" r=".85"/>
<circle class="d" cx="91.5" cy="398.2" r=".85"/>
<circle class="d" cx="92.7" cy="409.4" r=".85"/>
<circle class="d" cx="93.2" cy="409.7" r=".85"/>
<circle class="d" cx="92.4" cy="428.6" r=".85"/>
<circle class="d" cx="91.3" cy="400.0" r=".85"/>
<circle class="d" cx="92.2" cy="412.9" r=".85"/>
<circle class="d" cx="92.2" cy="419.0" r=".85"/>
<circle class="d" cx="93.3" cy="414.4" r=".85"/>
<circle class="d" cx="91.9" cy="426.7" r=".85"/>
<circle class="d" cx="93.2" cy="405.7" r=".85"/>
<circle class="d" cx="91.9" cy="408.3" r=".85"/>
<circle class="d" cx="91.3" cy="399.1" r=".85"/>
<circle class="d" cx="91.5" cy="416.6" r=".85"/>
<circle class="d" cx="91.5" cy="416.7" r=".85"/>
<circle class="d" cx="92.9" cy="424.4" r=".85"/>
<circle class="d" cx="91.9" cy="395.6" r=".85"/>
<circle class="d" cx="91.7" cy="418.1" r=".85"/>
<circle class="d" cx="92.1" cy="423.9" r=".85"/>
<circle class="d" cx="91.4" cy="416.0" r=".85"/>
<circle class="d" cx="91.8" cy="417.4" r=".85"/>
<circle class="d" cx="92.2" cy="420.5" r=".85"/>
<circle class="d" cx="91.7" cy="416.8" r=".85"/>
<circle class="d" cx="91.4" cy="417.4" r=".85"/>
<circle class="d" cx="92.6" cy="419.8" r=".85"/>
<circle class="d" cx="91.4" cy="413.4" r=".85"/>
<circle class="d" cx="92.1" cy="399.1" r=".85"/>
<circle class="d" cx="92.9" cy="413.5" r=".85"/>
<circle class="d" cx="92.4" cy="417.9" r=".85"/>
<circle class="d" cx="92.8" cy="424.9" r=".85"/>
<circle class="d" cx="92.5" cy="395.3" r=".85"/>
<circle class="d" cx="91.3" cy="401.3" r=".85"/>
<circle class="d" cx="92.2" cy="407.1" r=".85"/>
<circle class="d" cx="92.5" cy="419.9" r=".85"/>
<circle class="d" cx="92.9" cy="410.6" r=".85"/>
<circle class="d" cx="92.2" cy="413.4" r=".85"/>
<circle class="d" cx="91.8" cy="402.7" r=".85"/>
<circle class="d" cx="91.0" cy="408.2" r=".85"/>
<circle class="d" cx="91.7" cy="400.4" r=".85"/>
<circle class="d" cx="92.5" cy="411.1" r=".85"/>
<circle class="d" cx="92.4" cy="416.6" r=".85"/>
<circle class="d" cx="92.6" cy="409.0" r=".85"/>
<circle class="d" cx="92.4" cy="404.8" r=".85"/>
<circle class="d" cx="91.9" cy="424.3" r=".85"/>
<circle class="d" cx="91.3" cy="415.5" r=".85"/>
<circle class="d" cx="92.0" cy="430.3" r=".85"/>
<circle class="d" cx="91.1" cy="418.8" r=".85"/>
<circle class="d" cx="92.2" cy="422.2" r=".85"/>
<circle class="d" cx="92.8" cy="412.4" r=".85"/>
<circle class="d" cx="92.1" cy="394.7" r=".85"/>
<circle class="d" cx="91.9" cy="411.1" r=".85"/>
<circle class="d" cx="91.9" cy="411.6" r=".85"/>
<circle class="d" cx="92.9" cy="412.2" r=".85"/>
<circle class="d" cx="91.9" cy="419.0" r=".85"/>
<circle class="d" cx="92.2" cy="395.2" r=".85"/>
<circle class="d" cx="91.3" cy="422.7" r=".85"/>
<circle class="d" cx="91.0" cy="411.0" r=".85"/>
<circle class="d" cx="91.2" cy="422.1" r=".85"/>
<circle class="d" cx="92.1" cy="419.4" r=".85"/>
<circle class="d" cx="92.0" cy="395.8" r=".85"/>
<circle class="d" cx="92.9" cy="415.7" r=".85"/>
<circle class="d" cx="90.8" cy="409.8" r=".85"/>
<circle class="d" cx="91.6" cy="404.5" r=".85"/>
<circle class="d" cx="92.1" cy="426.1" r=".85"/>
<circle class="d" cx="92.9" cy="415.8" r=".85"/>
<circle class="d" cx="92.2" cy="398.5" r=".85"/>
<circle class="d" cx="92.1" cy="407.8" r=".85"/>
<circle class="d" cx="92.9" cy="415.7" r=".85"/>
<circle class="d" cx="92.2" cy="401.3" r=".85"/>
<circle class="d" cx="92.1" cy="395.6" r=".85"/>
<circle class="d" cx="91.7" cy="409.1" r=".85"/>
<circle class="d" cx="91.6" cy="404.0" r=".85"/>
<circle class="d" cx="92.3" cy="420.5" r=".85"/>
<circle class="d" cx="92.0" cy="410.8" r=".85"/>
<circle class="d" cx="90.9" cy="413.9" r=".85"/>
<circle class="d" cx="93.2" cy="408.3" r=".85"/>
<circle class="d" cx="92.1" cy="414.9" r=".85"/>
<circle class="d" cx="91.6" cy="419.1" r=".85"/>
<circle class="d" cx="91.4" cy="401.7" r=".85"/>
<circle class="d" cx="92.5" cy="397.4" r=".85"/>
<circle class="d" cx="92.3" cy="429.5" r=".85"/>
<circle class="d" cx="97.2" cy="449.6" r=".85"/>
<circle class="d" cx="97.6" cy="414.8" r=".85"/>
<circle class="d" cx="97.7" cy="426.3" r=".85"/>
<circle class="d" cx="99.0" cy="433.2" r=".85"/>
<circle class="d" cx="99.0" cy="418.0" r=".85"/>
<circle class="d" cx="97.5" cy="429.6" r=".85"/>
<circle class="d" cx="98.0" cy="432.4" r=".85"/>
<circle class="d" cx="99.3" cy="428.5" r=".85"/>
<circle class="d" cx="98.2" cy="445.5" r=".85"/>
<circle class="d" cx="98.8" cy="422.5" r=".85"/>
<circle class="d" cx="97.1" cy="429.2" r=".85"/>
<circle class="d" cx="98.5" cy="428.8" r=".85"/>
<circle class="d" cx="99.0" cy="419.7" r=".85"/>
<circle class="d" cx="98.5" cy="428.6" r=".85"/>
<circle class="d" cx="98.7" cy="444.5" r=".85"/>
<circle class="d" cx="97.6" cy="425.8" r=".85"/>
<circle class="d" cx="97.1" cy="430.7" r=".85"/>
<circle class="d" cx="98.4" cy="434.8" r=".85"/>
<circle class="d" cx="98.5" cy="423.0" r=".85"/>
<circle class="d" cx="98.0" cy="417.3" r=".85"/>
<circle class="d" cx="97.4" cy="425.2" r=".85"/>
<circle class="d" cx="97.9" cy="418.5" r=".85"/>
<circle class="d" cx="98.2" cy="440.5" r=".85"/>
<circle class="d" cx="98.2" cy="429.2" r=".85"/>
<circle class="d" cx="98.3" cy="423.3" r=".85"/>
<circle class="d" cx="97.4" cy="429.5" r=".85"/>
<circle class="d" cx="98.9" cy="419.0" r=".85"/>
<circle class="d" cx="96.9" cy="429.4" r=".85"/>
<circle class="d" cx="98.5" cy="443.8" r=".85"/>
<circle class="d" cx="97.5" cy="431.6" r=".85"/>
<circle class="d" cx="98.0" cy="417.8" r=".85"/>
<circle class="d" cx="98.4" cy="428.9" r=".85"/>
<circle class="d" cx="98.8" cy="420.6" r=".85"/>
<circle class="d" cx="99.4" cy="426.8" r=".85"/>
<circle class="d" cx="98.4" cy="414.3" r=".85"/>
<circle class="d" cx="98.8" cy="439.6" r=".85"/>
<circle class="d" cx="96.9" cy="428.1" r=".85"/>
<circle class="d" cx="98.1" cy="443.7" r=".85"/>
<circle class="d" cx="97.4" cy="436.0" r=".85"/>
<circle class="d" cx="97.9" cy="419.8" r=".85"/>
<circle class="d" cx="98.5" cy="444.8" r=".85"/>
<circle class="d" cx="98.9" cy="428.6" r=".85"/>
<circle class="d" cx="98.4" cy="442.6" r=".85"/>
<circle class="d" cx="98.9" cy="419.5" r=".85"/>
<circle class="d" cx="97.3" cy="430.4" r=".85"/>
<circle class="d" cx="98.5" cy="444.5" r=".85"/>
<circle class="d" cx="98.9" cy="417.4" r=".85"/>
<circle class="d" cx="98.7" cy="442.5" r=".85"/>
<circle class="d" cx="98.1" cy="439.2" r=".85"/>
<circle class="d" cx="98.9" cy="439.9" r=".85"/>
<circle class="d" cx="98.3" cy="422.7" r=".85"/>
<circle class="d" cx="97.8" cy="441.6" r=".85"/>
<circle class="d" cx="97.6" cy="423.7" r=".85"/>
<circle class="d" cx="98.7" cy="429.1" r=".85"/>
<circle class="d" cx="98.8" cy="436.2" r=".85"/>
<circle class="d" cx="99.1" cy="438.9" r=".85"/>
<circle class="d" cx="97.5" cy="439.9" r=".85"/>
<circle class="d" cx="97.8" cy="434.3" r=".85"/>
<circle class="d" cx="98.9" cy="432.4" r=".85"/>
<circle class="d" cx="97.8" cy="413.1" r=".85"/>
<circle class="d" cx="98.1" cy="416.6" r=".85"/>
<circle class="d" cx="97.8" cy="432.7" r=".85"/>
<circle class="d" cx="98.9" cy="420.0" r=".85"/>
<circle class="d" cx="98.6" cy="418.9" r=".85"/>
<circle class="d" cx="99.0" cy="427.4" r=".85"/>
<circle class="d" cx="97.5" cy="416.9" r=".85"/>
<circle class="d" cx="97.9" cy="433.0" r=".85"/>
<circle class="d" cx="98.4" cy="420.3" r=".85"/>
<circle class="d" cx="98.2" cy="442.1" r=".85"/>
<circle class="d" cx="98.8" cy="444.2" r=".85"/>
<circle class="d" cx="97.6" cy="419.2" r=".85"/>
<circle class="d" cx="98.1" cy="431.3" r=".85"/>
<circle class="d" cx="98.3" cy="420.4" r=".85"/>
<circle class="d" cx="98.0" cy="441.1" r=".85"/>
<circle class="d" cx="98.4" cy="443.3" r=".85"/>
<circle class="d" cx="98.1" cy="415.5" r=".85"/>
<circle class="d" cx="98.4" cy="444.2" r=".85"/>
<circle class="d" cx="98.3" cy="433.6" r=".85"/>
<circle class="d" cx="98.2" cy="435.1" r=".85"/>
<circle class="d" cx="97.1" cy="424.9" r=".85"/>
<circle class="d" cx="98.3" cy="440.2" r=".85"/>
<circle class="d" cx="104.1" cy="385.6" r=".85"/>
<circle class="d" cx="105.1" cy="445.6" r=".85"/>
<circle class="d" cx="104.7" cy="430.1" r=".85"/>
<circle class="d" cx="103.9" cy="391.6" r=".85"/>
<circle class="d" cx="103.9" cy="432.9" r=".85"/>
<circle class="d" cx="103.2" cy="416.4" r=".85"/>
<circle class="d" cx="104.7" cy="407.6" r=".85"/>
<circle class="d" cx="103.8" cy="402.6" r=".85"/>
<circle class="d" cx="105.5" cy="414.5" r=".85"/>
<circle class="d" cx="104.7" cy="419.2" r=".85"/>
<circle class="d" cx="104.8" cy="407.1" r=".85"/>
<circle class="d" cx="105.1" cy="406.6" r=".85"/>
<circle class="d" cx="103.6" cy="425.7" r=".85"/>
<circle class="d" cx="103.4" cy="413.2" r=".85"/>
<circle class="d" cx="103.9" cy="398.2" r=".85"/>
<circle class="d" cx="105.4" cy="407.2" r=".85"/>
<circle class="d" cx="105.1" cy="398.4" r=".85"/>
<circle class="d" cx="104.2" cy="398.9" r=".85"/>
<circle class="d" cx="105.5" cy="407.5" r=".85"/>
<circle class="d" cx="105.1" cy="420.6" r=".85"/>
<circle class="d" cx="103.8" cy="418.7" r=".85"/>
<circle class="d" cx="104.2" cy="396.8" r=".85"/>
<circle class="d" cx="104.9" cy="415.1" r=".85"/>
<circle class="d" cx="105.2" cy="402.4" r=".85"/>
<circle class="d" cx="105.0" cy="410.0" r=".85"/>
<circle class="d" cx="104.4" cy="391.9" r=".85"/>
<circle class="d" cx="103.7" cy="405.9" r=".85"/>
<circle class="d" cx="104.7" cy="419.3" r=".85"/>
<circle class="d" cx="103.3" cy="408.6" r=".85"/>
<circle class="d" cx="105.4" cy="403.8" r=".85"/>
<circle class="d" cx="105.0" cy="418.5" r=".85"/>
<circle class="d" cx="104.9" cy="407.8" r=".85"/>
<circle class="d" cx="105.0" cy="405.4" r=".85"/>
<circle class="d" cx="104.3" cy="421.6" r=".85"/>
<circle class="d" cx="103.4" cy="420.1" r=".85"/>
<circle class="d" cx="105.2" cy="410.6" r=".85"/>
<circle class="d" cx="104.1" cy="420.1" r=".85"/>
<circle class="d" cx="104.9" cy="426.7" r=".85"/>
<circle class="d" cx="104.7" cy="396.8" r=".85"/>
<circle class="d" cx="105.3" cy="412.5" r=".85"/>
<circle class="d" cx="104.6" cy="423.4" r=".85"/>
<circle class="d" cx="104.6" cy="421.7" r=".85"/>
<circle class="d" cx="103.8" cy="422.1" r=".85"/>
<circle class="d" cx="105.5" cy="407.3" r=".85"/>
<circle class="d" cx="104.7" cy="426.1" r=".85"/>
<circle class="d" cx="104.1" cy="393.2" r=".85"/>
<circle class="d" cx="104.0" cy="390.2" r=".85"/>
<circle class="d" cx="105.1" cy="412.5" r=".85"/>
<circle class="d" cx="103.9" cy="391.8" r=".85"/>
<circle class="d" cx="104.0" cy="400.1" r=".85"/>
<circle class="d" cx="103.6" cy="404.9" r=".85"/>
<circle class="d" cx="104.4" cy="427.1" r=".85"/>
<circle class="d" cx="103.8" cy="391.4" r=".85"/>
<circle class="d" cx="103.2" cy="412.7" r=".85"/>
<circle class="d" cx="104.5" cy="418.4" r=".85"/>
<circle class="d" cx="104.5" cy="408.0" r=".85"/>
<circle class="d" cx="105.3" cy="400.2" r=".85"/>
<circle class="d" cx="104.0" cy="426.2" r=".85"/>
<circle class="d" cx="104.2" cy="403.8" r=".85"/>
<circle class="d" cx="104.2" cy="420.7" r=".85"/>
<circle class="d" cx="103.6" cy="405.4" r=".85"/>
<circle class="d" cx="104.2" cy="423.1" r=".85"/>
<circle class="d" cx="103.7" cy="398.9" r=".85"/>
<circle class="d" cx="104.7" cy="402.0" r=".85"/>
<circle class="d" cx="104.8" cy="433.8" r=".85"/>
<circle class="d" cx="104.6" cy="431.4" r=".85"/>
<circle class="d" cx="104.9" cy="409.7" r=".85"/>
<circle class="d" cx="104.6" cy="401.7" r=".85"/>
<circle class="d" cx="103.9" cy="434.6" r=".85"/>
<circle class="d" cx="105.0" cy="397.9" r=".85"/>
<circle class="d" cx="103.6" cy="426.2" r=".85"/>
<circle class="d" cx="105.5" cy="418.1" r=".85"/>
<circle class="d" cx="104.3" cy="431.0" r=".85"/>
<circle class="d" cx="104.3" cy="405.1" r=".85"/>
<circle class="d" cx="104.8" cy="410.9" r=".85"/>
<circle class="d" cx="104.2" cy="432.5" r=".85"/>
<circle class="d" cx="105.0" cy="423.0" r=".85"/>
<circle class="d" cx="104.4" cy="395.1" r=".85"/>
<circle class="d" cx="104.2" cy="426.4" r=".85"/>
<circle class="d" cx="104.3" cy="391.9" r=".85"/>
<circle class="d" cx="104.5" cy="393.2" r=".85"/>
<circle class="d" cx="104.5" cy="429.8" r=".85"/>
<circle class="d" cx="112.0" cy="449.6" r=".85"/>
<circle class="d" cx="110.1" cy="413.4" r=".85"/>
<circle class="d" cx="111.2" cy="417.4" r=".85"/>
<circle class="d" cx="109.8" cy="427.6" r=".85"/>
<circle class="d" cx="111.2" cy="416.5" r=".85"/>
<circle class="d" cx="110.7" cy="426.1" r=".85"/>
<circle class="d" cx="111.0" cy="404.6" r=".85"/>
<circle class="d" cx="110.5" cy="423.5" r=".85"/>
<circle class="d" cx="111.1" cy="430.9" r=".85"/>
<circle class="d" cx="111.6" cy="420.6" r=".85"/>
<circle class="d" cx="110.1" cy="422.6" r=".85"/>
<circle class="d" cx="111.1" cy="426.1" r=".85"/>
<circle class="d" cx="111.1" cy="402.3" r=".85"/>
<circle class="d" cx="111.1" cy="403.0" r=".85"/>
<circle class="d" cx="110.2" cy="406.4" r=".85"/>
<circle class="d" cx="111.5" cy="432.9" r=".85"/>
<circle class="d" cx="110.9" cy="398.9" r=".85"/>
<circle class="d" cx="111.0" cy="432.2" r=".85"/>
<circle class="d" cx="109.7" cy="423.0" r=".85"/>
<circle class="d" cx="110.6" cy="401.0" r=".85"/>
<circle class="d" cx="111.6" cy="414.5" r=".85"/>
<circle class="d" cx="110.1" cy="431.8" r=".85"/>
<circle class="d" cx="111.8" cy="409.8" r=".85"/>
<circle class="d" cx="109.8" cy="421.0" r=".85"/>
<circle class="d" cx="111.6" cy="428.5" r=".85"/>
<circle class="d" cx="110.5" cy="402.9" r=".85"/>
<circle class="d" cx="111.3" cy="431.1" r=".85"/>
<circle class="d" cx="111.0" cy="415.2" r=".85"/>
<circle class="d" cx="110.6" cy="420.0" r=".85"/>
<circle class="d" cx="111.8" cy="423.7" r=".85"/>
<circle class="d" cx="111.7" cy="428.6" r=".85"/>
<circle class="d" cx="110.0" cy="432.9" r=".85"/>
<circle class="d" cx="110.6" cy="426.5" r=".85"/>
<circle class="d" cx="111.3" cy="427.0" r=".85"/>
<circle class="d" cx="110.5" cy="409.1" r=".85"/>
<circle class="d" cx="111.1" cy="427.8" r=".85"/>
<circle class="d" cx="111.2" cy="436.7" r=".85"/>
<circle class="d" cx="110.6" cy="439.3" r=".85"/>
<circle class="d" cx="109.8" cy="409.0" r=".85"/>
<circle class="d" cx="111.7" cy="408.2" r=".85"/>
<circle class="d" cx="111.4" cy="412.2" r=".85"/>
<circle class="d" cx="110.8" cy="435.0" r=".85"/>
<circle class="d" cx="110.5" cy="403.1" r=".85"/>
<circle class="d" cx="110.9" cy="424.3" r=".85"/>
<circle class="d" cx="110.9" cy="422.8" r=".85"/>
<circle class="d" cx="111.3" cy="437.0" r=".85"/>
<circle class="d" cx="109.9" cy="426.9" r=".85"/>
<circle class="d" cx="110.2" cy="417.5" r=".85"/>
<circle class="d" cx="110.1" cy="427.9" r=".85"/>
<circle class="d" cx="111.3" cy="416.6" r=".85"/>
<circle class="d" cx="110.3" cy="429.2" r=".85"/>
<circle class="d" cx="110.2" cy="417.1" r=".85"/>
<circle class="d" cx="110.9" cy="438.0" r=".85"/>
<circle class="d" cx="111.3" cy="425.5" r=".85"/>
<circle class="d" cx="110.6" cy="400.5" r=".85"/>
<circle class="d" cx="111.2" cy="428.6" r=".85"/>
<circle class="d" cx="110.1" cy="409.9" r=".85"/>
<circle class="d" cx="110.7" cy="402.9" r=".85"/>
<circle class="d" cx="111.3" cy="426.9" r=".85"/>
<circle class="d" cx="110.6" cy="402.7" r=".85"/>
<circle class="d" cx="111.7" cy="420.3" r=".85"/>
<circle class="d" cx="110.4" cy="431.5" r=".85"/>
<circle class="d" cx="111.2" cy="420.4" r=".85"/>
<circle class="d" cx="110.0" cy="422.7" r=".85"/>
<circle class="d" cx="111.2" cy="426.6" r=".85"/>
<circle class="d" cx="111.2" cy="400.4" r=".85"/>
<circle class="d" cx="110.6" cy="404.1" r=".85"/>
<circle class="d" cx="110.5" cy="420.0" r=".85"/>
<circle class="d" cx="110.2" cy="420.1" r=".85"/>
<circle class="d" cx="110.1" cy="414.3" r=".85"/>
<circle class="d" cx="111.1" cy="414.1" r=".85"/>
<circle class="d" cx="109.6" cy="418.0" r=".85"/>
<circle class="d" cx="110.2" cy="425.8" r=".85"/>
<circle class="d" cx="110.4" cy="400.0" r=".85"/>
<circle class="d" cx="109.7" cy="417.5" r=".85"/>
<circle class="d" cx="110.3" cy="403.6" r=".85"/>
<circle class="d" cx="110.0" cy="408.2" r=".85"/>
<circle class="d" cx="110.8" cy="401.6" r=".85"/>
<circle class="d" cx="110.3" cy="436.9" r=".85"/>
<circle class="d" cx="110.9" cy="407.9" r=".85"/>
<circle class="d" cx="111.4" cy="434.2" r=".85"/>
<circle class="d" cx="118.4" cy="396.8" r=".85"/>
<circle class="d" cx="117.2" cy="449.6" r=".85"/>
<circle class="d" cx="116.0" cy="431.5" r=".85"/>
<circle class="d" cx="117.0" cy="423.1" r=".85"/>
<circle class="d" cx="116.4" cy="426.8" r=".85"/>
<circle class="d" cx="116.2" cy="435.3" r=".85"/>
<circle class="d" cx="116.8" cy="445.1" r=".85"/>
<circle class="d" cx="117.1" cy="415.3" r=".85"/>
<circle class="d" cx="117.3" cy="415.7" r=".85"/>
<circle class="d" cx="117.5" cy="431.9" r=".85"/>
<circle class="d" cx="117.8" cy="419.4" r=".85"/>
<circle class="d" cx="116.8" cy="437.7" r=".85"/>
<circle class="d" cx="118.1" cy="427.6" r=".85"/>
<circle class="d" cx="116.4" cy="422.3" r=".85"/>
<circle class="d" cx="117.3" cy="420.9" r=".85"/>
<circle class="d" cx="117.3" cy="443.7" r=".85"/>
<circle class="d" cx="116.8" cy="415.4" r=".85"/>
<circle class="d" cx="118.3" cy="429.6" r=".85"/>
<circle class="d" cx="117.4" cy="430.1" r=".85"/>
<circle class="d" cx="116.5" cy="421.6" r=".85"/>
<circle class="d" cx="116.9" cy="445.6" r=".85"/>
<circle class="d" cx="117.0" cy="444.4" r=".85"/>
<circle class="d" cx="116.0" cy="425.5" r=".85"/>
<circle class="d" cx="117.4" cy="427.7" r=".85"/>
<circle class="d" cx="117.2" cy="422.9" r=".85"/>
<circle class="d" cx="117.9" cy="420.5" r=".85"/>
<circle class="d" cx="118.1" cy="431.9" r=".85"/>
<circle class="d" cx="117.0" cy="426.5" r=".85"/>
<circle class="d" cx="117.5" cy="427.5" r=".85"/>
<circle class="d" cx="116.7" cy="441.3" r=".85"/>
<circle class="d" cx="116.6" cy="443.8" r=".85"/>
<circle class="d" cx="116.7" cy="419.7" r=".85"/>
<circle class="d" cx="117.0" cy="444.6" r=".85"/>
<circle class="d" cx="117.9" cy="431.2" r=".85"/>
<circle class="d" cx="116.2" cy="435.0" r=".85"/>
<circle class="d" cx="117.3" cy="422.5" r=".85"/>
<circle class="d" cx="118.0" cy="439.5" r=".85"/>
<circle class="d" cx="116.4" cy="437.5" r=".85"/>
<circle class="d" cx="117.2" cy="424.2" r=".85"/>
<circle class="d" cx="117.0" cy="435.9" r=".85"/>
<circle class="d" cx="115.9" cy="435.6" r=".85"/>
<circle class="d" cx="117.6" cy="429.5" r=".85"/>
<circle class="d" cx="116.7" cy="441.7" r=".85"/>
<circle class="d" cx="116.4" cy="428.2" r=".85"/>
<circle class="d" cx="118.1" cy="427.5" r=".85"/>
<circle class="d" cx="116.8" cy="422.1" r=".85"/>
<circle class="d" cx="116.2" cy="435.3" r=".85"/>
<circle class="d" cx="116.5" cy="419.6" r=".85"/>
<circle class="d" cx="116.0" cy="427.4" r=".85"/>
<circle class="d" cx="117.3" cy="432.8" r=".85"/>
<circle class="d" cx="116.9" cy="425.9" r=".85"/>
<circle class="d" cx="116.2" cy="420.4" r=".85"/>
<circle class="d" cx="117.7" cy="435.4" r=".85"/>
<circle class="d" cx="117.3" cy="440.6" r=".85"/>
<circle class="d" cx="116.4" cy="436.6" r=".85"/>
<circle class="d" cx="116.6" cy="438.4" r=".85"/>
<circle class="d" cx="117.7" cy="440.1" r=".85"/>
<circle class="d" cx="116.6" cy="441.8" r=".85"/>
<circle class="d" cx="117.3" cy="415.5" r=".85"/>
<circle class="d" cx="117.4" cy="417.7" r=".85"/>
<circle class="d" cx="118.4" cy="429.9" r=".85"/>
<circle class="d" cx="116.7" cy="444.1" r=".85"/>
<circle class="d" cx="116.7" cy="425.3" r=".85"/>
<circle class="d" cx="116.5" cy="427.8" r=".85"/>
<circle class="d" cx="117.3" cy="418.9" r=".85"/>
<circle class="d" cx="116.8" cy="438.3" r=".85"/>
<circle class="d" cx="116.1" cy="437.8" r=".85"/>
<circle class="d" cx="116.9" cy="419.7" r=".85"/>
<circle class="d" cx="116.3" cy="439.5" r=".85"/>
<circle class="d" cx="117.7" cy="438.1" r=".85"/>
<circle class="d" cx="116.2" cy="433.8" r=".85"/>
<circle class="d" cx="116.4" cy="420.9" r=".85"/>
<circle class="d" cx="117.2" cy="425.4" r=".85"/>
<circle class="d" cx="116.6" cy="429.5" r=".85"/>
<circle class="d" cx="117.4" cy="434.6" r=".85"/>
<circle class="d" cx="116.5" cy="429.9" r=".85"/>
<circle class="d" cx="117.5" cy="439.5" r=".85"/>
<circle class="d" cx="116.9" cy="444.3" r=".85"/>
<circle class="d" cx="116.1" cy="424.7" r=".85"/>
<circle class="d" cx="116.3" cy="423.6" r=".85"/>
<circle class="d" cx="117.1" cy="443.5" r=".85"/>
<circle class="d" cx="116.7" cy="430.7" r=".85"/>
<circle class="d" cx="117.7" cy="436.9" r=".85"/>
<circle class="d" cx="116.5" cy="428.3" r=".85"/>
<circle class="d" cx="117.6" cy="427.2" r=".85"/>
<circle class="d" cx="117.0" cy="438.6" r=".85"/>
<circle class="d" cx="117.3" cy="443.4" r=".85"/>
<circle class="d" cx="117.3" cy="418.2" r=".85"/>
<circle class="d" cx="116.7" cy="443.9" r=".85"/>
<circle class="d" cx="116.6" cy="429.3" r=".85"/>
<circle class="d" cx="117.4" cy="417.1" r=".85"/>
<circle class="d" cx="118.1" cy="422.5" r=".85"/>
<circle class="d" cx="116.1" cy="428.8" r=".85"/>
<circle class="d" cx="116.3" cy="435.9" r=".85"/>
<circle class="d" cx="117.0" cy="420.3" r=".85"/>
<circle class="d" cx="116.1" cy="433.6" r=".85"/>
<circle class="d" cx="117.9" cy="422.9" r=".85"/>
<circle class="d" cx="117.7" cy="442.7" r=".85"/>
<circle class="d" cx="124.2" cy="412.7" r=".85"/>
<circle class="d" cx="124.4" cy="411.6" r=".85"/>
<circle class="d" cx="124.8" cy="408.5" r=".85"/>
<circle class="d" cx="123.3" cy="404.6" r=".85"/>
<circle class="d" cx="123.3" cy="405.1" r=".85"/>
<circle class="d" cx="124.2" cy="405.3" r=".85"/>
<circle class="d" cx="122.8" cy="417.7" r=".85"/>
<circle class="d" cx="124.4" cy="415.9" r=".85"/>
<circle class="d" cx="124.0" cy="419.3" r=".85"/>
<circle class="d" cx="123.2" cy="408.7" r=".85"/>
<circle class="d" cx="123.4" cy="412.3" r=".85"/>
<circle class="d" cx="124.2" cy="413.5" r=".85"/>
<circle class="d" cx="124.2" cy="406.4" r=".85"/>
<circle class="d" cx="123.8" cy="420.0" r=".85"/>
<circle class="d" cx="124.5" cy="411.4" r=".85"/>
<circle class="d" cx="123.3" cy="404.3" r=".85"/>
<circle class="d" cx="124.2" cy="416.9" r=".85"/>
<circle class="d" cx="123.0" cy="417.4" r=".85"/>
<circle class="d" cx="123.8" cy="419.1" r=".85"/>
<circle class="d" cx="123.5" cy="414.9" r=".85"/>
<circle class="d" cx="124.3" cy="408.1" r=".85"/>
<circle class="d" cx="122.7" cy="407.3" r=".85"/>
<circle class="d" cx="122.5" cy="411.3" r=".85"/>
<circle class="d" cx="123.2" cy="403.1" r=".85"/>
<circle class="d" cx="129.6" cy="370.3" r=".85"/>
<circle class="d" cx="129.4" cy="439.5" r=".85"/>
<circle class="d" cx="129.3" cy="425.8" r=".85"/>
<circle class="d" cx="129.6" cy="415.8" r=".85"/>
<circle class="d" cx="129.4" cy="431.6" r=".85"/>
<circle class="d" cx="129.1" cy="430.1" r=".85"/>
<circle class="d" cx="129.7" cy="413.2" r=".85"/>
<circle class="d" cx="130.7" cy="407.1" r=".85"/>
<circle class="d" cx="130.8" cy="399.9" r=".85"/>
<circle class="d" cx="129.9" cy="406.5" r=".85"/>
<circle class="d" cx="129.5" cy="404.0" r=".85"/>
<circle class="d" cx="130.1" cy="383.9" r=".85"/>
<circle class="d" cx="129.2" cy="425.0" r=".85"/>
<circle class="d" cx="129.1" cy="422.4" r=".85"/>
<circle class="d" cx="129.6" cy="430.6" r=".85"/>
<circle class="d" cx="130.8" cy="401.0" r=".85"/>
<circle class="d" cx="129.4" cy="390.4" r=".85"/>
<circle class="d" cx="130.1" cy="409.4" r=".85"/>
<circle class="d" cx="130.5" cy="387.0" r=".85"/>
<circle class="d" cx="128.9" cy="411.6" r=".85"/>
<circle class="d" cx="130.1" cy="432.2" r=".85"/>
<circle class="d" cx="130.4" cy="429.7" r=".85"/>
<circle class="d" cx="130.6" cy="419.8" r=".85"/>
<circle class="d" cx="130.2" cy="434.8" r=".85"/>
<circle class="d" cx="129.5" cy="420.8" r=".85"/>
<circle class="d" cx="129.7" cy="399.0" r=".85"/>
<circle class="d" cx="130.1" cy="388.7" r=".85"/>
<circle class="d" cx="128.9" cy="401.3" r=".85"/>
<circle class="d" cx="129.0" cy="414.1" r=".85"/>
<circle class="d" cx="130.3" cy="413.0" r=".85"/>
<circle class="d" cx="129.2" cy="420.5" r=".85"/>
<circle class="d" cx="128.9" cy="428.0" r=".85"/>
<circle class="d" cx="129.2" cy="434.2" r=".85"/>
<circle class="d" cx="129.9" cy="382.6" r=".85"/>
<circle class="d" cx="129.9" cy="386.9" r=".85"/>
<circle class="d" cx="129.9" cy="437.4" r=".85"/>
<circle class="d" cx="130.0" cy="395.4" r=".85"/>
<circle class="d" cx="129.2" cy="387.5" r=".85"/>
<circle class="d" cx="129.0" cy="397.1" r=".85"/>
<circle class="d" cx="130.9" cy="406.8" r=".85"/>
<circle class="d" cx="129.6" cy="407.2" r=".85"/>
<circle class="d" cx="129.0" cy="390.2" r=".85"/>
<circle class="d" cx="129.5" cy="427.7" r=".85"/>
<circle class="d" cx="129.3" cy="399.4" r=".85"/>
<circle class="d" cx="128.9" cy="419.3" r=".85"/>
<circle class="d" cx="128.9" cy="429.5" r=".85"/>
<circle class="d" cx="129.5" cy="428.6" r=".85"/>
<circle class="d" cx="129.5" cy="415.7" r=".85"/>
<circle class="d" cx="130.3" cy="414.4" r=".85"/>
<circle class="d" cx="130.4" cy="414.4" r=".85"/>
<circle class="d" cx="129.3" cy="413.3" r=".85"/>
<circle class="d" cx="129.6" cy="434.2" r=".85"/>
<circle class="d" cx="128.9" cy="428.6" r=".85"/>
<circle class="d" cx="129.7" cy="397.6" r=".85"/>
<circle class="d" cx="129.3" cy="399.9" r=".85"/>
<circle class="d" cx="130.1" cy="409.9" r=".85"/>
<circle class="d" cx="129.4" cy="406.6" r=".85"/>
<circle class="d" cx="129.1" cy="414.4" r=".85"/>
<circle class="d" cx="129.4" cy="400.4" r=".85"/>
<circle class="d" cx="129.4" cy="432.4" r=".85"/>
<circle class="d" cx="128.9" cy="398.1" r=".85"/>
<circle class="d" cx="130.2" cy="386.0" r=".85"/>
<circle class="d" cx="130.1" cy="388.0" r=".85"/>
<circle class="d" cx="130.7" cy="421.0" r=".85"/>
<circle class="d" cx="128.6" cy="411.0" r=".85"/>
<circle class="d" cx="129.3" cy="433.1" r=".85"/>
<circle class="d" cx="129.5" cy="422.6" r=".85"/>
<circle class="d" cx="130.1" cy="384.0" r=".85"/>
<circle class="d" cx="128.5" cy="413.7" r=".85"/>
<circle class="d" cx="130.0" cy="400.0" r=".85"/>
<circle class="d" cx="130.1" cy="401.8" r=".85"/>
<circle class="d" cx="130.2" cy="435.7" r=".85"/>
<circle class="d" cx="129.1" cy="404.1" r=".85"/>
<circle class="d" cx="130.7" cy="392.2" r=".85"/>
<circle class="d" cx="129.4" cy="388.3" r=".85"/>
<circle class="d" cx="128.5" cy="414.2" r=".85"/>
<circle class="d" cx="129.9" cy="404.4" r=".85"/>
<circle class="d" cx="130.0" cy="405.1" r=".85"/>
<circle class="d" cx="130.8" cy="398.4" r=".85"/>
<circle class="d" cx="129.8" cy="429.2" r=".85"/>
<circle class="d" cx="128.4" cy="410.2" r=".85"/>
<circle class="d" cx="129.7" cy="425.8" r=".85"/>
<circle class="d" cx="129.6" cy="378.8" r=".85"/>
<circle class="d" cx="130.2" cy="418.0" r=".85"/>
<circle class="d" cx="130.9" cy="402.6" r=".85"/>
<circle class="d" cx="129.5" cy="433.3" r=".85"/>
<circle class="d" cx="130.2" cy="428.5" r=".85"/>
<circle class="d" cx="130.0" cy="427.0" r=".85"/>
<circle class="d" cx="129.1" cy="397.3" r=".85"/>
<circle class="d" cx="129.2" cy="418.2" r=".85"/>
<circle class="d" cx="129.1" cy="428.3" r=".85"/>
<circle class="d" cx="130.5" cy="423.4" r=".85"/>
<circle class="d" cx="130.8" cy="413.1" r=".85"/>
<circle class="d" cx="129.2" cy="383.6" r=".85"/>
<circle class="d" cx="130.2" cy="417.2" r=".85"/>
<circle class="d" cx="130.0" cy="393.6" r=".85"/>
<circle class="d" cx="130.0" cy="384.3" r=".85"/>
<circle class="d" cx="129.3" cy="391.2" r=".85"/>
<circle class="d" cx="130.8" cy="400.4" r=".85"/>
<circle class="d" cx="129.8" cy="437.4" r=".85"/>
<circle class="d" cx="129.6" cy="426.2" r=".85"/>
<circle class="d" cx="130.4" cy="429.5" r=".85"/>
<circle class="d" cx="130.2" cy="404.9" r=".85"/>
<circle class="d" cx="129.7" cy="381.7" r=".85"/>
<circle class="d" cx="129.0" cy="408.4" r=".85"/>
<circle class="d" cx="130.5" cy="395.2" r=".85"/>
<circle class="d" cx="130.3" cy="406.0" r=".85"/>
<circle class="d" cx="130.6" cy="421.5" r=".85"/>
<circle class="d" cx="128.9" cy="406.1" r=".85"/>
<circle class="d" cx="128.8" cy="408.0" r=".85"/>
<circle class="d" cx="130.1" cy="433.4" r=".85"/>
<circle class="d" cx="129.1" cy="393.3" r=".85"/>
<circle class="d" cx="130.4" cy="432.0" r=".85"/>
<circle class="d" cx="129.8" cy="424.0" r=".85"/>
<circle class="d" cx="129.0" cy="428.9" r=".85"/>
<circle class="d" cx="129.9" cy="432.4" r=".85"/>
<circle class="d" cx="130.8" cy="416.4" r=".85"/>
<circle class="d" cx="129.5" cy="415.0" r=".85"/>
<circle class="d" cx="129.1" cy="406.9" r=".85"/>
<circle class="d" cx="130.3" cy="400.2" r=".85"/>
<circle class="d" cx="130.8" cy="415.5" r=".85"/>
<circle class="d" cx="129.5" cy="424.2" r=".85"/>
<circle class="d" cx="128.5" cy="410.8" r=".85"/>
<circle class="d" cx="129.9" cy="405.5" r=".85"/>
<circle class="d" cx="129.5" cy="434.4" r=".85"/>
<circle class="d" cx="129.8" cy="434.5" r=".85"/>
<circle class="d" cx="129.5" cy="429.4" r=".85"/>
<circle class="d" cx="130.9" cy="414.2" r=".85"/>
<circle class="d" cx="128.8" cy="392.9" r=".85"/>
<circle class="d" cx="129.4" cy="379.1" r=".85"/>
<circle class="d" cx="136.7" cy="443.3" r=".85"/>
<circle class="d" cx="137.5" cy="431.4" r=".85"/>
<circle class="d" cx="135.4" cy="432.7" r=".85"/>
<circle class="d" cx="136.7" cy="434.5" r=".85"/>
<circle class="d" cx="137.1" cy="430.6" r=".85"/>
<circle class="d" cx="136.2" cy="429.1" r=".85"/>
<circle class="d" cx="136.2" cy="442.5" r=".85"/>
<circle class="d" cx="136.7" cy="444.0" r=".85"/>
<circle class="d" cx="137.1" cy="428.5" r=".85"/>
<circle class="d" cx="136.2" cy="429.2" r=".85"/>
<circle class="d" cx="136.8" cy="429.9" r=".85"/>
<circle class="d" cx="137.1" cy="443.8" r=".85"/>
<circle class="d" cx="135.7" cy="438.1" r=".85"/>
<circle class="d" cx="136.2" cy="439.9" r=".85"/>
<circle class="d" cx="135.9" cy="429.9" r=".85"/>
<circle class="d" cx="135.6" cy="437.5" r=".85"/>
<circle class="d" cx="136.7" cy="436.0" r=".85"/>
<circle class="d" cx="135.3" cy="434.4" r=".85"/>
<circle class="d" cx="136.2" cy="428.3" r=".85"/>
<circle class="d" cx="135.4" cy="436.5" r=".85"/>
<circle class="d" cx="136.1" cy="435.6" r=".85"/>
<circle class="d" cx="136.4" cy="440.3" r=".85"/>
<circle class="d" cx="136.8" cy="436.0" r=".85"/>
<circle class="d" cx="135.7" cy="430.9" r=".85"/>
<circle class="d" cx="142.7" cy="436.3" r=".85"/>
<circle class="d" cx="142.5" cy="432.6" r=".85"/>
<circle class="d" cx="142.9" cy="423.1" r=".85"/>
<circle class="d" cx="143.1" cy="443.2" r=".85"/>
<circle class="d" cx="143.6" cy="431.9" r=".85"/>
<circle class="d" cx="142.4" cy="423.2" r=".85"/>
<circle class="d" cx="142.2" cy="432.5" r=".85"/>
<circle class="d" cx="143.2" cy="438.8" r=".85"/>
<circle class="d" cx="143.1" cy="423.5" r=".85"/>
<circle class="d" cx="142.5" cy="431.1" r=".85"/>
<circle class="d" cx="144.4" cy="429.3" r=".85"/>
<circle class="d" cx="142.9" cy="430.9" r=".85"/>
<circle class="d" cx="142.4" cy="437.3" r=".85"/>
<circle class="d" cx="143.8" cy="420.9" r=".85"/>
<circle class="d" cx="142.4" cy="432.2" r=".85"/>
<circle class="d" cx="143.9" cy="436.8" r=".85"/>
<circle class="d" cx="143.9" cy="426.8" r=".85"/>
<circle class="d" cx="143.6" cy="427.1" r=".85"/>
<circle class="d" cx="144.3" cy="437.6" r=".85"/>
<circle class="d" cx="143.5" cy="420.2" r=".85"/>
<circle class="d" cx="142.5" cy="422.0" r=".85"/>
<circle class="d" cx="142.8" cy="434.5" r=".85"/>
<circle class="d" cx="143.7" cy="437.5" r=".85"/>
<circle class="d" cx="143.1" cy="426.4" r=".85"/>
<circle class="d" cx="143.5" cy="440.2" r=".85"/>
<circle class="d" cx="143.6" cy="423.1" r=".85"/>
<circle class="d" cx="143.5" cy="422.1" r=".85"/>
<circle class="d" cx="144.4" cy="435.3" r=".85"/>
<circle class="d" cx="143.9" cy="427.5" r=".85"/>
<circle class="d" cx="144.0" cy="442.0" r=".85"/>
<circle class="d" cx="143.4" cy="436.1" r=".85"/>
<circle class="d" cx="143.2" cy="424.2" r=".85"/>
<circle class="d" cx="149.3" cy="449.6" r=".85"/>
<circle class="d" cx="149.3" cy="406.7" r=".85"/>
<circle class="d" cx="148.5" cy="408.0" r=".85"/>
<circle class="d" cx="149.9" cy="421.9" r=".85"/>
<circle class="d" cx="149.0" cy="421.1" r=".85"/>
<circle class="d" cx="149.8" cy="402.4" r=".85"/>
<circle class="d" cx="149.7" cy="425.5" r=".85"/>
<circle class="d" cx="149.0" cy="399.0" r=".85"/>
<circle class="d" cx="149.9" cy="403.1" r=".85"/>
<circle class="d" cx="149.7" cy="411.9" r=".85"/>
<circle class="d" cx="149.8" cy="419.2" r=".85"/>
<circle class="d" cx="150.2" cy="398.3" r=".85"/>
<circle class="d" cx="150.5" cy="412.6" r=".85"/>
<circle class="d" cx="149.9" cy="399.4" r=".85"/>
<circle class="d" cx="149.0" cy="421.9" r=".85"/>
<circle class="d" cx="149.8" cy="401.5" r=".85"/>
<circle class="d" cx="149.8" cy="428.8" r=".85"/>
<circle class="d" cx="148.8" cy="408.9" r=".85"/>
<circle class="d" cx="150.1" cy="399.3" r=".85"/>
<circle class="d" cx="149.9" cy="427.0" r=".85"/>
<circle class="d" cx="148.8" cy="428.6" r=".85"/>
<circle class="d" cx="148.5" cy="423.5" r=".85"/>
<circle class="d" cx="149.2" cy="429.2" r=".85"/>
<circle class="d" cx="149.1" cy="398.7" r=".85"/>
<circle class="d" cx="149.6" cy="390.2" r=".85"/>
<circle class="d" cx="149.6" cy="404.3" r=".85"/>
<circle class="d" cx="148.8" cy="417.8" r=".85"/>
<circle class="d" cx="150.1" cy="398.4" r=".85"/>
<circle class="d" cx="149.5" cy="399.9" r=".85"/>
<circle class="d" cx="149.6" cy="410.9" r=".85"/>
<circle class="d" cx="149.1" cy="401.2" r=".85"/>
<circle class="d" cx="148.4" cy="405.6" r=".85"/>
<circle class="d" cx="149.5" cy="413.7" r=".85"/>
<circle class="d" cx="148.9" cy="424.8" r=".85"/>
<circle class="d" cx="150.3" cy="423.6" r=".85"/>
<circle class="d" cx="149.0" cy="392.1" r=".85"/>
<circle class="d" cx="150.1" cy="417.0" r=".85"/>
<circle class="d" cx="150.1" cy="413.7" r=".85"/>
<circle class="d" cx="150.5" cy="415.8" r=".85"/>
<circle class="d" cx="148.9" cy="393.7" r=".85"/>
<circle class="d" cx="149.2" cy="399.7" r=".85"/>
<circle class="d" cx="150.5" cy="416.3" r=".85"/>
<circle class="d" cx="149.3" cy="397.1" r=".85"/>
<circle class="d" cx="148.6" cy="405.9" r=".85"/>
<circle class="d" cx="149.0" cy="428.1" r=".85"/>
<circle class="d" cx="148.8" cy="416.6" r=".85"/>
<circle class="d" cx="149.1" cy="393.4" r=".85"/>
<circle class="d" cx="149.3" cy="394.7" r=".85"/>
<circle class="d" cx="150.1" cy="404.0" r=".85"/>
<circle class="d" cx="150.4" cy="404.5" r=".85"/>
<circle class="d" cx="148.5" cy="405.5" r=".85"/>
<circle class="d" cx="149.2" cy="418.7" r=".85"/>
<circle class="d" cx="150.1" cy="417.0" r=".85"/>
<circle class="d" cx="148.1" cy="406.1" r=".85"/>
<circle class="d" cx="149.7" cy="399.3" r=".85"/>
<circle class="d" cx="149.2" cy="419.2" r=".85"/>
<circle class="d" cx="148.7" cy="419.0" r=".85"/>
<circle class="d" cx="149.3" cy="406.8" r=".85"/>
<circle class="d" cx="148.5" cy="403.4" r=".85"/>
<circle class="d" cx="148.4" cy="410.8" r=".85"/>
<circle class="d" cx="149.4" cy="403.2" r=".85"/>
<circle class="d" cx="149.5" cy="416.6" r=".85"/>
<circle class="d" cx="150.0" cy="399.4" r=".85"/>
<circle class="d" cx="149.0" cy="414.5" r=".85"/>
<circle class="d" cx="150.1" cy="409.3" r=".85"/>
<circle class="d" cx="150.3" cy="403.8" r=".85"/>
<circle class="d" cx="149.1" cy="432.2" r=".85"/>
<circle class="d" cx="148.2" cy="419.2" r=".85"/>
<circle class="d" cx="149.8" cy="428.6" r=".85"/>
<circle class="d" cx="150.1" cy="419.8" r=".85"/>
<circle class="d" cx="149.0" cy="398.6" r=".85"/>
<circle class="d" cx="148.8" cy="390.8" r=".85"/>
<circle class="d" cx="148.8" cy="392.9" r=".85"/>
<circle class="d" cx="150.3" cy="415.9" r=".85"/>
<circle class="d" cx="149.2" cy="427.7" r=".85"/>
<circle class="d" cx="149.7" cy="427.7" r=".85"/>
<circle class="d" cx="149.5" cy="422.0" r=".85"/>
<circle class="d" cx="150.0" cy="415.1" r=".85"/>
<circle class="d" cx="149.9" cy="416.7" r=".85"/>
<circle class="d" cx="148.6" cy="413.5" r=".85"/>
<circle class="d" cx="149.0" cy="399.2" r=".85"/>
<circle class="d" cx="148.1" cy="412.0" r=".85"/>
<circle class="d" cx="150.1" cy="422.6" r=".85"/>
<circle class="d" cx="149.7" cy="413.3" r=".85"/>
<circle class="d" cx="148.4" cy="407.4" r=".85"/>
<circle class="d" cx="149.3" cy="429.8" r=".85"/>
<circle class="d" cx="150.1" cy="413.2" r=".85"/>
<circle class="d" cx="149.0" cy="414.1" r=".85"/>
<circle class="d" cx="149.9" cy="399.3" r=".85"/>
<circle class="d" cx="149.4" cy="400.8" r=".85"/>
<circle class="d" cx="148.4" cy="416.0" r=".85"/>
<circle class="d" cx="149.6" cy="425.7" r=".85"/>
<circle class="d" cx="149.6" cy="425.3" r=".85"/>
<circle class="d" cx="149.3" cy="400.9" r=".85"/>
<circle class="d" cx="148.4" cy="417.1" r=".85"/>
<circle class="d" cx="148.7" cy="397.7" r=".85"/>
<circle class="d" cx="149.1" cy="410.5" r=".85"/>
<circle class="d" cx="148.0" cy="411.7" r=".85"/>
<circle class="d" cx="149.5" cy="407.3" r=".85"/>
<circle class="d" cx="149.9" cy="413.5" r=".85"/>
<circle class="d" cx="149.6" cy="399.7" r=".85"/>
<circle class="d" cx="148.2" cy="405.9" r=".85"/>
<circle class="d" cx="148.5" cy="417.8" r=".85"/>
<circle class="d" cx="148.3" cy="413.8" r=".85"/>
<circle class="d" cx="148.5" cy="426.4" r=".85"/>
<circle class="d" cx="149.3" cy="397.1" r=".85"/>
<circle class="d" cx="149.2" cy="400.6" r=".85"/>
<circle class="d" cx="149.8" cy="405.9" r=".85"/>
<circle class="d" cx="148.6" cy="397.1" r=".85"/>
<circle class="d" cx="150.4" cy="420.2" r=".85"/>
<circle class="d" cx="150.4" cy="415.2" r=".85"/>
<circle class="d" cx="148.2" cy="406.9" r=".85"/>
<circle class="d" cx="149.2" cy="431.1" r=".85"/>
<circle class="d" cx="155.5" cy="402.9" r=".85"/>
<circle class="d" cx="155.7" cy="436.7" r=".85"/>
<circle class="d" cx="154.9" cy="437.4" r=".85"/>
<circle class="d" cx="157.0" cy="432.5" r=".85"/>
<circle class="d" cx="155.9" cy="427.5" r=".85"/>
<circle class="d" cx="155.2" cy="439.3" r=".85"/>
<circle class="d" cx="156.3" cy="431.6" r=".85"/>
<circle class="d" cx="156.1" cy="430.2" r=".85"/>
<circle class="d" cx="156.0" cy="432.7" r=".85"/>
<circle class="d" cx="156.6" cy="434.1" r=".85"/>
<circle class="d" cx="156.5" cy="431.6" r=".85"/>
<circle class="d" cx="155.2" cy="428.9" r=".85"/>
<circle class="d" cx="155.0" cy="435.1" r=".85"/>
<circle class="d" cx="155.6" cy="432.9" r=".85"/>
<circle class="d" cx="155.5" cy="429.0" r=".85"/>
<circle class="d" cx="155.7" cy="441.0" r=".85"/>
<circle class="d" cx="155.4" cy="430.5" r=".85"/>
<circle class="d" cx="155.5" cy="436.5" r=".85"/>
<circle class="d" cx="155.7" cy="428.4" r=".85"/>
<circle class="d" cx="155.2" cy="435.8" r=".85"/>
<circle class="d" cx="155.7" cy="429.5" r=".85"/>
<circle class="d" cx="155.5" cy="440.6" r=".85"/>
<circle class="d" cx="154.6" cy="435.3" r=".85"/>
<circle class="d" cx="155.3" cy="433.6" r=".85"/>
<circle class="d" cx="154.7" cy="435.6" r=".85"/>
<circle class="d" cx="154.6" cy="434.5" r=".85"/>
<circle class="d" cx="155.1" cy="430.8" r=".85"/>
<circle class="d" cx="155.8" cy="429.3" r=".85"/>
<circle class="d" cx="155.7" cy="429.2" r=".85"/>
<circle class="d" cx="156.4" cy="433.6" r=".85"/>
<circle class="d" cx="155.7" cy="428.7" r=".85"/>
<circle class="d" cx="154.8" cy="435.8" r=".85"/>
<circle class="d" cx="155.9" cy="428.2" r=".85"/>
<circle class="d" cx="161.4" cy="393.7" r=".85"/>
<circle class="d" cx="162.1" cy="445.6" r=".85"/>
<circle class="d" cx="161.7" cy="410.7" r=".85"/>
<circle class="d" cx="161.0" cy="420.7" r=".85"/>
<circle class="d" cx="161.6" cy="433.2" r=".85"/>
<circle class="d" cx="162.1" cy="408.1" r=".85"/>
<circle class="d" cx="161.9" cy="430.2" r=".85"/>
<circle class="d" cx="162.7" cy="438.2" r=".85"/>
<circle class="d" cx="161.4" cy="430.0" r=".85"/>
<circle class="d" cx="162.4" cy="440.4" r=".85"/>
<circle class="d" cx="161.5" cy="422.9" r=".85"/>
<circle class="d" cx="161.1" cy="425.4" r=".85"/>
<circle class="d" cx="162.6" cy="424.5" r=".85"/>
<circle class="d" cx="161.9" cy="428.6" r=".85"/>
<circle class="d" cx="162.7" cy="417.6" r=".85"/>
<circle class="d" cx="162.3" cy="427.7" r=".85"/>
<circle class="d" cx="162.4" cy="438.9" r=".85"/>
<circle class="d" cx="162.4" cy="440.2" r=".85"/>
<circle class="d" cx="162.5" cy="412.7" r=".85"/>
<circle class="d" cx="162.6" cy="438.3" r=".85"/>
<circle class="d" cx="162.0" cy="413.7" r=".85"/>
<circle class="d" cx="162.8" cy="415.3" r=".85"/>
<circle class="d" cx="162.4" cy="434.7" r=".85"/>
<circle class="d" cx="161.7" cy="418.2" r=".85"/>
<circle class="d" cx="163.0" cy="421.1" r=".85"/>
<circle class="d" cx="161.6" cy="415.9" r=".85"/>
<circle class="d" cx="161.0" cy="413.7" r=".85"/>
<circle class="d" cx="160.8" cy="419.8" r=".85"/>
<circle class="d" cx="161.3" cy="435.4" r=".85"/>
<circle class="d" cx="161.5" cy="409.0" r=".85"/>
<circle class="d" cx="162.1" cy="429.9" r=".85"/>
<circle class="d" cx="163.3" cy="428.5" r=".85"/>
<circle class="d" cx="162.6" cy="419.8" r=".85"/>
<circle class="d" cx="162.2" cy="433.5" r=".85"/>
<circle class="d" cx="161.8" cy="418.6" r=".85"/>
<circle class="d" cx="162.2" cy="410.9" r=".85"/>
<circle class="d" cx="162.3" cy="432.4" r=".85"/>
<circle class="d" cx="162.2" cy="437.6" r=".85"/>
<circle class="d" cx="161.8" cy="415.8" r=".85"/>
<circle class="d" cx="162.4" cy="407.6" r=".85"/>
<circle class="d" cx="162.3" cy="438.0" r=".85"/>
<circle class="d" cx="162.0" cy="438.2" r=".85"/>
<circle class="d" cx="161.6" cy="420.8" r=".85"/>
<circle class="d" cx="162.6" cy="407.9" r=".85"/>
<circle class="d" cx="162.9" cy="413.0" r=".85"/>
<circle class="d" cx="163.2" cy="419.0" r=".85"/>
<circle class="d" cx="162.4" cy="440.4" r=".85"/>
<circle class="d" cx="161.0" cy="424.9" r=".85"/>
<circle class="d" cx="163.3" cy="420.2" r=".85"/>
<circle class="d" cx="162.8" cy="419.0" r=".85"/>
<circle class="d" cx="161.8" cy="418.5" r=".85"/>
<circle class="d" cx="161.7" cy="427.5" r=".85"/>
<circle class="d" cx="161.4" cy="426.1" r=".85"/>
<circle class="d" cx="162.0" cy="406.6" r=".85"/>
<circle class="d" cx="162.9" cy="434.5" r=".85"/>
<circle class="d" cx="162.2" cy="434.5" r=".85"/>
<circle class="d" cx="161.9" cy="404.4" r=".85"/>
<circle class="d" cx="162.1" cy="420.7" r=".85"/>
<circle class="d" cx="162.3" cy="431.9" r=".85"/>
<circle class="d" cx="162.7" cy="408.1" r=".85"/>
<circle class="d" cx="161.7" cy="440.0" r=".85"/>
<circle class="d" cx="161.8" cy="436.1" r=".85"/>
<circle class="d" cx="162.6" cy="437.6" r=".85"/>
<circle class="d" cx="161.8" cy="413.0" r=".85"/>
<circle class="d" cx="162.4" cy="414.7" r=".85"/>
<circle class="d" cx="163.1" cy="416.0" r=".85"/>
<circle class="d" cx="169.4" cy="449.6" r=".85"/>
<circle class="d" cx="167.0" cy="431.5" r=".85"/>
<circle class="d" cx="168.8" cy="428.0" r=".85"/>
<circle class="d" cx="168.2" cy="444.6" r=".85"/>
<circle class="d" cx="168.7" cy="433.7" r=".85"/>
<circle class="d" cx="167.1" cy="432.5" r=".85"/>
<circle class="d" cx="167.6" cy="436.6" r=".85"/>
<circle class="d" cx="168.5" cy="433.1" r=".85"/>
<circle class="d" cx="169.3" cy="423.6" r=".85"/>
<circle class="d" cx="167.7" cy="438.4" r=".85"/>
<circle class="d" cx="167.8" cy="429.8" r=".85"/>
<circle class="d" cx="169.2" cy="434.7" r=".85"/>
<circle class="d" cx="167.4" cy="436.3" r=".85"/>
<circle class="d" cx="168.3" cy="440.4" r=".85"/>
<circle class="d" cx="167.4" cy="420.9" r=".85"/>
<circle class="d" cx="168.4" cy="422.9" r=".85"/>
<circle class="d" cx="168.2" cy="417.0" r=".85"/>
<circle class="d" cx="168.7" cy="417.7" r=".85"/>
<circle class="d" cx="168.8" cy="420.1" r=".85"/>
<circle class="d" cx="167.5" cy="440.6" r=".85"/>
<circle class="d" cx="168.5" cy="438.0" r=".85"/>
<circle class="d" cx="167.9" cy="440.1" r=".85"/>
<circle class="d" cx="167.9" cy="440.2" r=".85"/>
<circle class="d" cx="169.0" cy="435.3" r=".85"/>
<circle class="d" cx="167.3" cy="425.9" r=".85"/>
<circle class="d" cx="167.8" cy="441.0" r=".85"/>
<circle class="d" cx="167.3" cy="435.7" r=".85"/>
<circle class="d" cx="167.8" cy="438.4" r=".85"/>
<circle class="d" cx="169.0" cy="433.2" r=".85"/>
<circle class="d" cx="167.4" cy="433.0" r=".85"/>
<circle class="d" cx="167.7" cy="415.4" r=".85"/>
<circle class="d" cx="169.2" cy="427.8" r=".85"/>
<circle class="d" cx="167.0" cy="426.3" r=".85"/>
<circle class="d" cx="168.8" cy="437.5" r=".85"/>
<circle class="d" cx="167.2" cy="430.3" r=".85"/>
<circle class="d" cx="167.5" cy="429.6" r=".85"/>
<circle class="d" cx="168.2" cy="437.5" r=".85"/>
<circle class="d" cx="169.3" cy="425.4" r=".85"/>
<circle class="d" cx="169.1" cy="427.7" r=".85"/>
<circle class="d" cx="168.8" cy="422.9" r=".85"/>
<circle class="d" cx="169.0" cy="418.1" r=".85"/>
<circle class="d" cx="169.1" cy="428.7" r=".85"/>
<circle class="d" cx="167.6" cy="442.1" r=".85"/>
<circle class="d" cx="169.2" cy="433.8" r=".85"/>
<circle class="d" cx="168.2" cy="434.5" r=".85"/>
<circle class="d" cx="168.1" cy="422.4" r=".85"/>
<circle class="d" cx="168.8" cy="442.7" r=".85"/>
<circle class="d" cx="167.3" cy="428.6" r=".85"/>
<circle class="d" cx="168.7" cy="443.0" r=".85"/>
<circle class="d" cx="167.0" cy="426.5" r=".85"/>
<circle class="d" cx="168.0" cy="440.6" r=".85"/>
<circle class="d" cx="168.0" cy="432.9" r=".85"/>
<circle class="d" cx="168.6" cy="419.4" r=".85"/>
<circle class="d" cx="167.8" cy="415.9" r=".85"/>
<circle class="d" cx="168.4" cy="425.2" r=".85"/>
<circle class="d" cx="168.4" cy="442.0" r=".85"/>
<circle class="d" cx="168.4" cy="422.6" r=".85"/>
<circle class="d" cx="168.0" cy="427.6" r=".85"/>
<circle class="d" cx="167.4" cy="424.4" r=".85"/>
<circle class="d" cx="168.3" cy="443.6" r=".85"/>
<circle class="d" cx="168.1" cy="426.2" r=".85"/>
<circle class="d" cx="167.9" cy="444.9" r=".85"/>
<circle class="d" cx="169.2" cy="431.4" r=".85"/>
<circle class="d" cx="168.1" cy="420.7" r=".85"/>
<circle class="d" cx="167.0" cy="430.5" r=".85"/>
<circle class="d" cx="173.4" cy="449.6" r=".85"/>
<circle class="d" cx="174.4" cy="438.2" r=".85"/>
<circle class="d" cx="174.4" cy="443.8" r=".85"/>
<circle class="d" cx="174.9" cy="424.7" r=".85"/>
<circle class="d" cx="175.2" cy="429.0" r=".85"/>
<circle class="d" cx="174.0" cy="430.8" r=".85"/>
<circle class="d" cx="174.6" cy="427.3" r=".85"/>
<circle class="d" cx="175.4" cy="439.2" r=".85"/>
<circle class="d" cx="174.4" cy="436.5" r=".85"/>
<circle class="d" cx="174.8" cy="441.6" r=".85"/>
<circle class="d" cx="175.5" cy="429.5" r=".85"/>
<circle class="d" cx="175.1" cy="423.5" r=".85"/>
<circle class="d" cx="174.3" cy="440.7" r=".85"/>
<circle class="d" cx="174.3" cy="428.4" r=".85"/>
<circle class="d" cx="175.3" cy="439.4" r=".85"/>
<circle class="d" cx="175.9" cy="436.0" r=".85"/>
<circle class="d" cx="173.5" cy="431.7" r=".85"/>
<circle class="d" cx="175.4" cy="433.7" r=".85"/>
<circle class="d" cx="175.3" cy="438.1" r=".85"/>
<circle class="d" cx="174.6" cy="434.3" r=".85"/>
<circle class="d" cx="175.0" cy="439.2" r=".85"/>
<circle class="d" cx="175.1" cy="433.1" r=".85"/>
<circle class="d" cx="174.9" cy="427.8" r=".85"/>
<circle class="d" cx="173.7" cy="430.5" r=".85"/>
<circle class="d" cx="174.9" cy="431.0" r=".85"/>
<circle class="d" cx="174.0" cy="427.1" r=".85"/>
<circle class="d" cx="174.7" cy="427.1" r=".85"/>
<circle class="d" cx="175.7" cy="429.2" r=".85"/>
<circle class="d" cx="175.1" cy="429.5" r=".85"/>
<circle class="d" cx="174.1" cy="444.5" r=".85"/>
<circle class="d" cx="174.0" cy="430.6" r=".85"/>
<circle class="d" cx="173.5" cy="432.8" r=".85"/>
<circle class="d" cx="173.9" cy="441.9" r=".85"/>
<circle class="d" cx="174.5" cy="426.9" r=".85"/>
<circle class="d" cx="174.6" cy="432.5" r=".85"/>
<circle class="d" cx="175.3" cy="430.0" r=".85"/>
<circle class="d" cx="175.6" cy="439.4" r=".85"/>
<circle class="d" cx="174.7" cy="440.9" r=".85"/>
<circle class="d" cx="173.9" cy="439.9" r=".85"/>
<circle class="d" cx="174.1" cy="443.9" r=".85"/>
<circle class="d" cx="174.4" cy="438.5" r=".85"/>
<circle class="d" cx="173.9" cy="434.4" r=".85"/>
<circle class="d" cx="175.9" cy="437.2" r=".85"/>
<circle class="d" cx="173.9" cy="427.4" r=".85"/>
<circle class="d" cx="173.9" cy="430.8" r=".85"/>
<circle class="d" cx="173.9" cy="439.8" r=".85"/>
<circle class="d" cx="174.6" cy="428.1" r=".85"/>
<circle class="d" cx="174.6" cy="444.1" r=".85"/>
<circle class="d" cx="175.2" cy="444.6" r=".85"/>
<circle class="d" cx="182.8" cy="406.0" r=".85"/>
<circle class="d" cx="180.7" cy="449.6" r=".85"/>
<circle class="d" cx="180.6" cy="428.0" r=".85"/>
<circle class="d" cx="182.0" cy="432.9" r=".85"/>
<circle class="d" cx="182.3" cy="427.7" r=".85"/>
<circle class="d" cx="182.0" cy="430.9" r=".85"/>
<circle class="d" cx="180.4" cy="425.7" r=".85"/>
<circle class="d" cx="182.0" cy="434.3" r=".85"/>
<circle class="d" cx="181.1" cy="426.7" r=".85"/>
<circle class="d" cx="182.4" cy="423.7" r=".85"/>
<circle class="d" cx="182.7" cy="430.1" r=".85"/>
<circle class="d" cx="181.1" cy="434.5" r=".85"/>
<circle class="d" cx="181.8" cy="430.5" r=".85"/>
<circle class="d" cx="181.5" cy="419.3" r=".85"/>
<circle class="d" cx="181.0" cy="428.8" r=".85"/>
<circle class="d" cx="181.4" cy="419.5" r=".85"/>
<circle class="d" cx="181.1" cy="433.2" r=".85"/>
<circle class="d" cx="181.9" cy="421.4" r=".85"/>
<circle class="d" cx="180.4" cy="430.2" r=".85"/>
<circle class="d" cx="182.8" cy="428.0" r=".85"/>
<circle class="d" cx="180.8" cy="432.8" r=".85"/>
<circle class="d" cx="181.6" cy="430.4" r=".85"/>
<circle class="d" cx="182.1" cy="421.4" r=".85"/>
<circle class="d" cx="181.5" cy="421.2" r=".85"/>
<circle class="d" cx="181.8" cy="428.1" r=".85"/>
<circle class="d" cx="181.6" cy="433.6" r=".85"/>
<circle class="d" cx="181.3" cy="421.8" r=".85"/>
<circle class="d" cx="180.9" cy="421.0" r=".85"/>
<circle class="d" cx="182.1" cy="434.1" r=".85"/>
<circle class="d" cx="182.2" cy="430.4" r=".85"/>
<circle class="d" cx="180.9" cy="423.9" r=".85"/>
<circle class="d" cx="182.3" cy="428.1" r=".85"/>
<circle class="d" cx="182.2" cy="421.8" r=".85"/>
<circle class="d" cx="180.9" cy="432.2" r=".85"/>
<circle class="d" cx="186.9" cy="378.5" r=".85"/>
<circle class="d" cx="188.8" cy="396.8" r=".85"/>
<circle class="d" cx="188.8" cy="449.6" r=".85"/>
<circle class="d" cx="188.1" cy="434.1" r=".85"/>
<circle class="d" cx="188.5" cy="431.3" r=".85"/>
<circle class="d" cx="188.1" cy="434.4" r=".85"/>
<circle class="d" cx="187.3" cy="437.7" r=".85"/>
<circle class="d" cx="187.9" cy="426.9" r=".85"/>
<circle class="d" cx="187.8" cy="431.3" r=".85"/>
<circle class="d" cx="189.3" cy="426.9" r=".85"/>
<circle class="d" cx="188.0" cy="431.2" r=".85"/>
<circle class="d" cx="187.4" cy="432.3" r=".85"/>
<circle class="d" cx="188.5" cy="413.5" r=".85"/>
<circle class="d" cx="187.7" cy="422.3" r=".85"/>
<circle class="d" cx="188.5" cy="414.9" r=".85"/>
<circle class="d" cx="188.0" cy="437.4" r=".85"/>
<circle class="d" cx="188.7" cy="440.1" r=".85"/>
<circle class="d" cx="188.8" cy="416.7" r=".85"/>
<circle class="d" cx="187.3" cy="436.3" r=".85"/>
<circle class="d" cx="187.6" cy="415.0" r=".85"/>
<circle class="d" cx="188.1" cy="439.4" r=".85"/>
<circle class="d" cx="188.3" cy="442.1" r=".85"/>
<circle class="d" cx="188.0" cy="416.2" r=".85"/>
<circle class="d" cx="188.6" cy="421.1" r=".85"/>
<circle class="d" cx="187.6" cy="427.9" r=".85"/>
<circle class="d" cx="187.3" cy="427.3" r=".85"/>
<circle class="d" cx="189.1" cy="436.5" r=".85"/>
<circle class="d" cx="188.2" cy="444.0" r=".85"/>
<circle class="d" cx="188.3" cy="416.6" r=".85"/>
<circle class="d" cx="187.0" cy="433.8" r=".85"/>
<circle class="d" cx="187.6" cy="417.0" r=".85"/>
<circle class="d" cx="189.0" cy="423.0" r=".85"/>
<circle class="d" cx="188.8" cy="427.0" r=".85"/>
<circle class="d" cx="187.3" cy="435.0" r=".85"/>
<circle class="d" cx="187.9" cy="421.9" r=".85"/>
<circle class="d" cx="188.0" cy="437.8" r=".85"/>
<circle class="d" cx="189.1" cy="425.9" r=".85"/>
<circle class="d" cx="187.5" cy="426.9" r=".85"/>
<circle class="d" cx="188.3" cy="444.9" r=".85"/>
<circle class="d" cx="187.7" cy="429.6" r=".85"/>
<circle class="d" cx="188.2" cy="435.8" r=".85"/>
<circle class="d" cx="188.2" cy="429.6" r=".85"/>
<circle class="d" cx="188.0" cy="413.1" r=".85"/>
<circle class="d" cx="188.2" cy="429.9" r=".85"/>
<circle class="d" cx="187.8" cy="422.3" r=".85"/>
<circle class="d" cx="188.5" cy="438.8" r=".85"/>
<circle class="d" cx="187.5" cy="441.8" r=".85"/>
<circle class="d" cx="188.9" cy="425.8" r=".85"/>
<circle class="d" cx="187.4" cy="432.1" r=".85"/>
<circle class="d" cx="187.9" cy="445.0" r=".85"/>
<circle class="d" cx="187.8" cy="414.5" r=".85"/>
<circle class="d" cx="189.1" cy="429.5" r=".85"/>
<circle class="d" cx="189.3" cy="429.4" r=".85"/>
<circle class="d" cx="187.6" cy="434.0" r=".85"/>
<circle class="d" cx="188.4" cy="429.8" r=".85"/>
<circle class="d" cx="187.5" cy="435.3" r=".85"/>
<circle class="d" cx="188.4" cy="418.4" r=".85"/>
<circle class="d" cx="187.3" cy="429.1" r=".85"/>
<circle class="d" cx="188.1" cy="420.9" r=".85"/>
<circle class="d" cx="194.9" cy="398.8" r=".85"/>
<circle class="d" cx="193.5" cy="432.8" r=".85"/>
<circle class="d" cx="194.4" cy="416.6" r=".85"/>
<circle class="d" cx="194.7" cy="425.0" r=".85"/>
<circle class="d" cx="194.6" cy="413.6" r=".85"/>
<circle class="d" cx="193.2" cy="422.9" r=".85"/>
<circle class="d" cx="193.6" cy="415.0" r=".85"/>
<circle class="d" cx="194.3" cy="420.4" r=".85"/>
<circle class="d" cx="193.2" cy="420.9" r=".85"/>
<circle class="d" cx="195.1" cy="419.0" r=".85"/>
<circle class="d" cx="194.2" cy="433.5" r=".85"/>
<circle class="d" cx="193.5" cy="430.2" r=".85"/>
<circle class="d" cx="194.0" cy="425.6" r=".85"/>
<circle class="d" cx="194.8" cy="429.3" r=".85"/>
<circle class="d" cx="193.7" cy="432.5" r=".85"/>
<circle class="d" cx="193.9" cy="429.6" r=".85"/>
<circle class="d" cx="195.0" cy="426.8" r=".85"/>
<circle class="d" cx="194.2" cy="419.3" r=".85"/>
<circle class="d" cx="193.9" cy="429.2" r=".85"/>
<circle class="d" cx="195.0" cy="427.9" r=".85"/>
<circle class="d" cx="193.9" cy="429.5" r=".85"/>
<circle class="d" cx="194.9" cy="417.7" r=".85"/>
<circle class="d" cx="193.0" cy="425.1" r=".85"/>
<circle class="d" cx="194.3" cy="430.8" r=".85"/>
<circle class="d" cx="194.3" cy="424.2" r=".85"/>
<circle class="d" cx="193.7" cy="413.2" r=".85"/>
<circle class="d" cx="194.4" cy="414.4" r=".85"/>
<circle class="d" cx="195.0" cy="430.7" r=".85"/>
<circle class="d" cx="193.3" cy="423.4" r=".85"/>
<circle class="d" cx="193.3" cy="424.0" r=".85"/>
<circle class="d" cx="194.8" cy="423.9" r=".85"/>
<circle class="d" cx="193.6" cy="420.7" r=".85"/>
<circle class="d" cx="194.4" cy="434.4" r=".85"/>
<circle class="d" cx="194.2" cy="418.4" r=".85"/>
<circle class="d" cx="194.9" cy="430.5" r=".85"/>
<circle class="d" cx="194.3" cy="427.7" r=".85"/>
<circle class="d" cx="195.1" cy="430.6" r=".85"/>
<circle class="d" cx="194.4" cy="411.2" r=".85"/>
<circle class="d" cx="193.3" cy="422.9" r=".85"/>
<circle class="d" cx="195.0" cy="419.2" r=".85"/>
<circle class="d" cx="194.6" cy="420.1" r=".85"/>
<circle class="d" cx="193.8" cy="418.9" r=".85"/>
<circle class="d" cx="193.3" cy="417.4" r=".85"/>
<circle class="d" cx="194.3" cy="433.2" r=".85"/>
<circle class="d" cx="194.5" cy="421.8" r=".85"/>
<circle class="d" cx="195.3" cy="419.5" r=".85"/>
<circle class="d" cx="193.3" cy="428.7" r=".85"/>
<circle class="d" cx="193.6" cy="414.0" r=".85"/>
<circle class="d" cx="195.1" cy="421.3" r=".85"/>
<circle class="d" cx="201.7" cy="396.8" r=".85"/>
<circle class="d" cx="199.6" cy="408.0" r=".85"/>
<circle class="d" cx="200.8" cy="421.2" r=".85"/>
<circle class="d" cx="199.8" cy="422.3" r=".85"/>
<circle class="d" cx="200.8" cy="428.3" r=".85"/>
<circle class="d" cx="199.7" cy="419.2" r=".85"/>
<circle class="d" cx="200.4" cy="404.3" r=".85"/>
<circle class="d" cx="201.0" cy="409.3" r=".85"/>
<circle class="d" cx="200.3" cy="432.4" r=".85"/>
<circle class="d" cx="199.7" cy="432.7" r=".85"/>
<circle class="d" cx="200.2" cy="403.1" r=".85"/>
<circle class="d" cx="201.3" cy="423.3" r=".85"/>
<circle class="d" cx="199.5" cy="414.3" r=".85"/>
<circle class="d" cx="200.7" cy="436.3" r=".85"/>
<circle class="d" cx="200.6" cy="405.1" r=".85"/>
<circle class="d" cx="199.9" cy="436.9" r=".85"/>
<circle class="d" cx="200.4" cy="415.8" r=".85"/>
<circle class="d" cx="199.7" cy="419.7" r=".85"/>
<circle class="d" cx="200.5" cy="422.3" r=".85"/>
<circle class="d" cx="200.8" cy="435.2" r=".85"/>
<circle class="d" cx="199.3" cy="411.8" r=".85"/>
<circle class="d" cx="199.7" cy="417.3" r=".85"/>
<circle class="d" cx="199.7" cy="415.6" r=".85"/>
<circle class="d" cx="199.4" cy="427.4" r=".85"/>
<circle class="d" cx="199.4" cy="421.0" r=".85"/>
<circle class="d" cx="200.7" cy="405.6" r=".85"/>
<circle class="d" cx="201.5" cy="418.8" r=".85"/>
<circle class="d" cx="200.0" cy="435.0" r=".85"/>
<circle class="d" cx="200.9" cy="420.8" r=".85"/>
<circle class="d" cx="200.1" cy="426.1" r=".85"/>
<circle class="d" cx="199.5" cy="422.2" r=".85"/>
<circle class="d" cx="199.4" cy="422.1" r=".85"/>
<circle class="d" cx="199.9" cy="434.8" r=".85"/>
<circle class="d" cx="200.1" cy="417.1" r=".85"/>
<circle class="d" cx="199.7" cy="417.5" r=".85"/>
<circle class="d" cx="201.0" cy="430.8" r=".85"/>
<circle class="d" cx="200.0" cy="426.3" r=".85"/>
<circle class="d" cx="200.0" cy="403.5" r=".85"/>
<circle class="d" cx="199.6" cy="423.2" r=".85"/>
<circle class="d" cx="199.8" cy="405.5" r=".85"/>
<circle class="d" cx="201.3" cy="410.6" r=".85"/>
<circle class="d" cx="200.2" cy="414.1" r=".85"/>
<circle class="d" cx="200.6" cy="408.5" r=".85"/>
<circle class="d" cx="199.6" cy="414.1" r=".85"/>
<circle class="d" cx="200.2" cy="406.4" r=".85"/>
<circle class="d" cx="200.0" cy="427.4" r=".85"/>
<circle class="d" cx="200.7" cy="407.3" r=".85"/>
<circle class="d" cx="200.8" cy="419.3" r=".85"/>
<circle class="d" cx="199.5" cy="424.0" r=".85"/>
<circle class="d" cx="201.3" cy="418.9" r=".85"/>
<circle class="d" cx="200.1" cy="437.3" r=".85"/>
<circle class="d" cx="200.8" cy="410.6" r=".85"/>
<circle class="d" cx="201.3" cy="411.5" r=".85"/>
<circle class="d" cx="200.1" cy="416.4" r=".85"/>
<circle class="d" cx="199.6" cy="425.5" r=".85"/>
<circle class="d" cx="199.3" cy="414.9" r=".85"/>
<circle class="d" cx="200.9" cy="413.5" r=".85"/>
<circle class="d" cx="200.7" cy="424.7" r=".85"/>
<circle class="d" cx="199.3" cy="411.0" r=".85"/>
<circle class="d" cx="199.5" cy="421.1" r=".85"/>
<circle class="d" cx="201.1" cy="432.5" r=".85"/>
<circle class="d" cx="200.4" cy="415.3" r=".85"/>
<circle class="d" cx="199.2" cy="412.0" r=".85"/>
<circle class="d" cx="201.1" cy="411.5" r=".85"/>
<circle class="d" cx="201.1" cy="418.6" r=".85"/>
<circle class="d" cx="200.1" cy="406.7" r=".85"/>
<circle class="d" cx="200.1" cy="421.0" r=".85"/>
<circle class="d" cx="200.7" cy="437.2" r=".85"/>
<circle class="d" cx="199.5" cy="428.4" r=".85"/>
<circle class="d" cx="200.5" cy="404.1" r=".85"/>
<circle class="d" cx="199.7" cy="424.7" r=".85"/>
<circle class="d" cx="199.7" cy="434.8" r=".85"/>
<circle class="d" cx="199.3" cy="414.7" r=".85"/>
<circle class="d" cx="208.4" cy="389.7" r=".85"/>
<circle class="d" cx="208.2" cy="445.6" r=".85"/>
<circle class="d" cx="207.5" cy="406.5" r=".85"/>
<circle class="d" cx="207.5" cy="426.4" r=".85"/>
<circle class="d" cx="207.9" cy="413.9" r=".85"/>
<circle class="d" cx="206.5" cy="414.7" r=".85"/>
<circle class="d" cx="206.9" cy="396.9" r=".85"/>
<circle class="d" cx="207.2" cy="425.0" r=".85"/>
<circle class="d" cx="207.4" cy="432.9" r=".85"/>
<circle class="d" cx="206.5" cy="414.7" r=".85"/>
<circle class="d" cx="205.9" cy="409.3" r=".85"/>
<circle class="d" cx="207.4" cy="424.1" r=".85"/>
<circle class="d" cx="206.6" cy="415.8" r=".85"/>
<circle class="d" cx="207.5" cy="411.9" r=".85"/>
<circle class="d" cx="207.5" cy="429.3" r=".85"/>
<circle class="d" cx="206.8" cy="423.8" r=".85"/>
<circle class="d" cx="206.3" cy="404.3" r=".85"/>
<circle class="d" cx="207.3" cy="398.6" r=".85"/>
<circle class="d" cx="207.2" cy="425.1" r=".85"/>
<circle class="d" cx="206.8" cy="405.1" r=".85"/>
<circle class="d" cx="207.9" cy="424.2" r=".85"/>
<circle class="d" cx="206.6" cy="407.2" r=".85"/>
<circle class="d" cx="208.1" cy="416.6" r=".85"/>
<circle class="d" cx="207.2" cy="417.9" r=".85"/>
<circle class="d" cx="206.0" cy="425.5" r=".85"/>
<circle class="d" cx="206.6" cy="432.7" r=".85"/>
<circle class="d" cx="205.8" cy="411.2" r=".85"/>
<circle class="d" cx="206.3" cy="408.5" r=".85"/>
<circle class="d" cx="206.8" cy="407.2" r=".85"/>
<circle class="d" cx="205.8" cy="410.0" r=".85"/>
<circle class="d" cx="207.0" cy="427.4" r=".85"/>
<circle class="d" cx="206.3" cy="421.6" r=".85"/>
<circle class="d" cx="206.3" cy="426.8" r=".85"/>
<circle class="d" cx="206.0" cy="415.1" r=".85"/>
<circle class="d" cx="207.4" cy="408.5" r=".85"/>
<circle class="d" cx="206.7" cy="419.8" r=".85"/>
<circle class="d" cx="207.7" cy="428.0" r=".85"/>
<circle class="d" cx="206.6" cy="399.6" r=".85"/>
<circle class="d" cx="207.6" cy="427.5" r=".85"/>
<circle class="d" cx="206.4" cy="410.8" r=".85"/>
<circle class="d" cx="206.3" cy="417.8" r=".85"/>
<circle class="d" cx="206.1" cy="414.8" r=".85"/>
<circle class="d" cx="207.3" cy="407.0" r=".85"/>
<circle class="d" cx="207.7" cy="416.0" r=".85"/>
<circle class="d" cx="206.4" cy="404.5" r=".85"/>
<circle class="d" cx="207.8" cy="404.6" r=".85"/>
<circle class="d" cx="207.1" cy="411.6" r=".85"/>
<circle class="d" cx="205.9" cy="418.2" r=".85"/>
<circle class="d" cx="206.6" cy="417.3" r=".85"/>
<circle class="d" cx="206.9" cy="431.4" r=".85"/>
<circle class="d" cx="208.3" cy="416.6" r=".85"/>
<circle class="d" cx="207.4" cy="425.0" r=".85"/>
<circle class="d" cx="208.1" cy="420.2" r=".85"/>
<circle class="d" cx="206.3" cy="415.2" r=".85"/>
<circle class="d" cx="206.8" cy="418.7" r=".85"/>
<circle class="d" cx="208.1" cy="422.7" r=".85"/>
<circle class="d" cx="206.8" cy="433.4" r=".85"/>
<circle class="d" cx="208.0" cy="421.3" r=".85"/>
<circle class="d" cx="205.8" cy="413.2" r=".85"/>
<circle class="d" cx="206.5" cy="414.0" r=".85"/>
<circle class="d" cx="206.4" cy="400.7" r=".85"/>
<circle class="d" cx="206.7" cy="403.1" r=".85"/>
<circle class="d" cx="206.7" cy="415.1" r=".85"/>
<circle class="d" cx="206.6" cy="424.8" r=".85"/>
<circle class="d" cx="207.6" cy="409.7" r=".85"/>
<circle class="d" cx="205.7" cy="414.9" r=".85"/>
<circle class="d" cx="213.3" cy="429.5" r=".85"/>
<circle class="d" cx="213.7" cy="438.9" r=".85"/>
<circle class="d" cx="213.7" cy="438.9" r=".85"/>
<circle class="d" cx="212.8" cy="436.7" r=".85"/>
<circle class="d" cx="213.7" cy="438.8" r=".85"/>
<circle class="d" cx="213.4" cy="424.3" r=".85"/>
<circle class="d" cx="213.1" cy="433.7" r=".85"/>
<circle class="d" cx="214.8" cy="429.4" r=".85"/>
<circle class="d" cx="213.4" cy="430.3" r=".85"/>
<circle class="d" cx="214.2" cy="436.0" r=".85"/>
<circle class="d" cx="213.4" cy="425.1" r=".85"/>
<circle class="d" cx="214.3" cy="436.5" r=".85"/>
<circle class="d" cx="212.5" cy="428.5" r=".85"/>
<circle class="d" cx="213.7" cy="425.9" r=".85"/>
<circle class="d" cx="212.6" cy="430.9" r=".85"/>
<circle class="d" cx="214.1" cy="427.5" r=".85"/>
<circle class="d" cx="214.5" cy="431.5" r=".85"/>
<circle class="d" cx="213.1" cy="438.7" r=".85"/>
<circle class="d" cx="213.6" cy="426.3" r=".85"/>
<circle class="d" cx="213.5" cy="432.7" r=".85"/>
<circle class="d" cx="213.7" cy="425.5" r=".85"/>
<circle class="d" cx="214.6" cy="428.2" r=".85"/>
<circle class="d" cx="213.0" cy="438.2" r=".85"/>
<circle class="d" cx="213.0" cy="429.5" r=".85"/>
<circle class="d" cx="212.8" cy="435.3" r=".85"/>
<circle class="d" cx="214.6" cy="431.5" r=".85"/>
<circle class="d" cx="214.3" cy="431.1" r=".85"/>
<circle class="d" cx="213.9" cy="431.3" r=".85"/>
<circle class="d" cx="213.5" cy="424.7" r=".85"/>
<circle class="d" cx="212.4" cy="432.2" r=".85"/>
<circle class="d" cx="213.3" cy="434.3" r=".85"/>
<circle class="d" cx="212.6" cy="431.8" r=".85"/>
<circle class="d" cx="220.2" cy="398.8" r=".85"/>
<circle class="d" cx="219.8" cy="449.6" r=".85"/>
<circle class="d" cx="220.5" cy="426.4" r=".85"/>
<circle class="d" cx="220.2" cy="421.5" r=".85"/>
<circle class="d" cx="220.4" cy="444.7" r=".85"/>
<circle class="d" cx="220.4" cy="420.6" r=".85"/>
<circle class="d" cx="220.3" cy="430.5" r=".85"/>
<circle class="d" cx="220.3" cy="427.6" r=".85"/>
<circle class="d" cx="219.4" cy="431.0" r=".85"/>
<circle class="d" cx="219.2" cy="424.6" r=".85"/>
<circle class="d" cx="220.1" cy="439.7" r=".85"/>
<circle class="d" cx="220.7" cy="434.5" r=".85"/>
<circle class="d" cx="218.9" cy="429.5" r=".85"/>
<circle class="d" cx="219.7" cy="436.2" r=".85"/>
<circle class="d" cx="219.7" cy="444.6" r=".85"/>
<circle class="d" cx="219.7" cy="433.2" r=".85"/>
<circle class="d" cx="221.2" cy="429.4" r=".85"/>
<circle class="d" cx="219.9" cy="429.9" r=".85"/>
<circle class="d" cx="220.3" cy="428.8" r=".85"/>
<circle class="d" cx="220.2" cy="440.5" r=".85"/>
<circle class="d" cx="219.3" cy="431.9" r=".85"/>
<circle class="d" cx="219.7" cy="438.9" r=".85"/>
<circle class="d" cx="220.9" cy="424.3" r=".85"/>
<circle class="d" cx="218.9" cy="427.0" r=".85"/>
<circle class="d" cx="219.7" cy="441.5" r=".85"/>
<circle class="d" cx="219.1" cy="429.6" r=".85"/>
<circle class="d" cx="220.4" cy="427.4" r=".85"/>
<circle class="d" cx="219.0" cy="423.8" r=".85"/>
<circle class="d" cx="221.0" cy="435.3" r=".85"/>
<circle class="d" cx="219.9" cy="432.9" r=".85"/>
<circle class="d" cx="220.0" cy="437.0" r=".85"/>
<circle class="d" cx="219.7" cy="417.1" r=".85"/>
<circle class="d" cx="219.9" cy="434.8" r=".85"/>
<circle class="d" cx="219.5" cy="443.5" r=".85"/>
<circle class="d" cx="220.1" cy="417.9" r=".85"/>
<circle class="d" cx="218.9" cy="435.7" r=".85"/>
<circle class="d" cx="220.3" cy="429.9" r=".85"/>
<circle class="d" cx="219.3" cy="437.7" r=".85"/>
<circle class="d" cx="220.8" cy="437.2" r=".85"/>
<circle class="d" cx="219.0" cy="435.5" r=".85"/>
<circle class="d" cx="219.6" cy="430.3" r=".85"/>
<circle class="d" cx="220.3" cy="421.1" r=".85"/>
<circle class="d" cx="220.2" cy="438.6" r=".85"/>
<circle class="d" cx="219.6" cy="427.8" r=".85"/>
<circle class="d" cx="219.2" cy="421.3" r=".85"/>
<circle class="d" cx="221.0" cy="435.8" r=".85"/>
<circle class="d" cx="221.0" cy="437.2" r=".85"/>
<circle class="d" cx="221.2" cy="429.5" r=".85"/>
<circle class="d" cx="220.0" cy="432.4" r=".85"/>
<circle class="d" cx="220.5" cy="426.3" r=".85"/>
<circle class="d" cx="219.3" cy="433.2" r=".85"/>
<circle class="d" cx="220.3" cy="421.5" r=".85"/>
<circle class="d" cx="220.7" cy="434.7" r=".85"/>
<circle class="d" cx="220.6" cy="436.4" r=".85"/>
<circle class="d" cx="220.1" cy="418.4" r=".85"/>
<circle class="d" cx="220.1" cy="430.8" r=".85"/>
<circle class="d" cx="219.3" cy="422.2" r=".85"/>
<circle class="d" cx="220.2" cy="425.9" r=".85"/>
<circle class="d" cx="226.8" cy="401.9" r=".85"/>
<circle class="d" cx="227.4" cy="449.6" r=".85"/>
<circle class="d" cx="226.9" cy="428.0" r=".85"/>
<circle class="d" cx="226.3" cy="411.8" r=".85"/>
<circle class="d" cx="226.9" cy="445.5" r=".85"/>
<circle class="d" cx="226.4" cy="416.5" r=".85"/>
<circle class="d" cx="227.0" cy="438.8" r=".85"/>
<circle class="d" cx="227.4" cy="434.8" r=".85"/>
<circle class="d" cx="225.7" cy="424.4" r=".85"/>
<circle class="d" cx="226.8" cy="441.3" r=".85"/>
<circle class="d" cx="225.7" cy="429.9" r=".85"/>
<circle class="d" cx="226.9" cy="423.4" r=".85"/>
<circle class="d" cx="226.4" cy="426.5" r=".85"/>
<circle class="d" cx="227.4" cy="443.4" r=".85"/>
<circle class="d" cx="225.9" cy="420.6" r=".85"/>
<circle class="d" cx="227.4" cy="436.2" r=".85"/>
<circle class="d" cx="227.7" cy="428.0" r=".85"/>
<circle class="d" cx="226.6" cy="438.6" r=".85"/>
<circle class="d" cx="226.9" cy="425.7" r=".85"/>
<circle class="d" cx="226.5" cy="441.0" r=".85"/>
<circle class="d" cx="226.9" cy="411.3" r=".85"/>
<circle class="d" cx="226.4" cy="427.9" r=".85"/>
<circle class="d" cx="226.0" cy="427.4" r=".85"/>
<circle class="d" cx="226.0" cy="433.5" r=".85"/>
<circle class="d" cx="227.5" cy="437.3" r=".85"/>
<circle class="d" cx="227.2" cy="438.4" r=".85"/>
<circle class="d" cx="227.6" cy="429.9" r=".85"/>
<circle class="d" cx="226.0" cy="432.8" r=".85"/>
<circle class="d" cx="227.7" cy="422.7" r=".85"/>
<circle class="d" cx="225.7" cy="429.2" r=".85"/>
<circle class="d" cx="226.5" cy="433.6" r=".85"/>
<circle class="d" cx="227.0" cy="440.6" r=".85"/>
<circle class="d" cx="228.0" cy="426.2" r=".85"/>
<circle class="d" cx="226.8" cy="420.6" r=".85"/>
<circle class="d" cx="226.6" cy="433.6" r=".85"/>
<circle class="d" cx="226.4" cy="413.0" r=".85"/>
<circle class="d" cx="226.2" cy="424.8" r=".85"/>
<circle class="d" cx="226.6" cy="425.6" r=".85"/>
<circle class="d" cx="226.9" cy="425.5" r=".85"/>
<circle class="d" cx="226.1" cy="420.7" r=".85"/>
<circle class="d" cx="226.6" cy="415.6" r=".85"/>
<circle class="d" cx="227.9" cy="429.0" r=".85"/>
<circle class="d" cx="226.4" cy="421.4" r=".85"/>
<circle class="d" cx="227.3" cy="429.7" r=".85"/>
<circle class="d" cx="226.9" cy="421.1" r=".85"/>
<circle class="d" cx="226.6" cy="435.9" r=".85"/>
<circle class="d" cx="226.2" cy="416.7" r=".85"/>
<circle class="d" cx="227.8" cy="433.9" r=".85"/>
<circle class="d" cx="227.1" cy="416.7" r=".85"/>
<circle class="d" cx="226.6" cy="436.7" r=".85"/>
<circle class="d" cx="226.7" cy="432.0" r=".85"/>
<circle class="d" cx="227.4" cy="414.2" r=".85"/>
<circle class="d" cx="225.8" cy="423.9" r=".85"/>
<circle class="d" cx="226.5" cy="437.8" r=".85"/>
<circle class="d" cx="226.2" cy="423.9" r=".85"/>
<circle class="d" cx="227.9" cy="431.7" r=".85"/>
<circle class="d" cx="227.3" cy="444.3" r=".85"/>
<circle class="d" cx="227.8" cy="430.1" r=".85"/>
<circle class="d" cx="226.6" cy="432.3" r=".85"/>
<circle class="d" cx="225.8" cy="425.2" r=".85"/>
<circle class="d" cx="227.4" cy="441.1" r=".85"/>
<circle class="d" cx="226.3" cy="421.2" r=".85"/>
<circle class="d" cx="226.4" cy="431.8" r=".85"/>
<circle class="d" cx="226.8" cy="413.8" r=".85"/>
<circle class="d" cx="227.4" cy="419.5" r=".85"/>
<circle class="d" cx="225.8" cy="419.0" r=".85"/>
<circle class="d" cx="226.8" cy="413.8" r=".85"/>
<circle class="d" cx="227.5" cy="414.9" r=".85"/>
<circle class="d" cx="226.6" cy="424.5" r=".85"/>
<circle class="d" cx="226.5" cy="436.3" r=".85"/>
<circle class="d" cx="226.6" cy="441.7" r=".85"/>
<circle class="d" cx="226.0" cy="431.9" r=".85"/>
<circle class="d" cx="226.4" cy="412.1" r=".85"/>
<circle class="d" cx="227.0" cy="414.2" r=".85"/>
<circle cx="47.6" cy="386.0" r="1.0" fill="#6a6a78"/>
<circle cx="47.2" cy="397.0" r="1.0" fill="#5db333"/>
<circle cx="46.9" cy="402.0" r="1.0" fill="#5db333"/>
<circle cx="47.5" cy="413.0" r="1.0" fill="#5db333"/>
<circle cx="54.3" cy="380.0" r="1.0" fill="#5db333"/>
<circle cx="60.4" cy="415.0" r="1.0" fill="#5db333"/>
<circle cx="65.4" cy="426.0" r="1.0" fill="#5db333"/>
<circle cx="70.8" cy="373.4" r="1.0" fill="#5db333"/>
<circle cx="71.8" cy="375.0" r="1.0" fill="#5db333"/>
<circle cx="71.8" cy="377.0" r="1.0" fill="#5db333"/>
<circle cx="72.7" cy="378.5" r="1.0" fill="#e8955a"/>
<circle cx="71.4" cy="392.0" r="1.0" fill="#5db333"/>
<circle cx="72.5" cy="394.0" r="1.0" fill="#5db333"/>
<circle cx="73.4" cy="405.0" r="1.0" fill="#5db333"/>
<circle cx="78.4" cy="365.3" r="1.0" fill="#e8955a"/>
<circle cx="78.0" cy="371.0" r="1.0" fill="#5db333"/>
<circle cx="77.7" cy="373.0" r="1.0" fill="#5db333"/>
<circle cx="77.4" cy="375.0" r="1.0" fill="#6a6a78"/>
<circle cx="78.0" cy="377.0" r="1.0" fill="#5db333"/>
<circle cx="78.3" cy="379.0" r="1.0" fill="#5db333"/>
<circle cx="79.5" cy="381.0" r="1.0" fill="#6a6a78"/>
<circle cx="79.4" cy="384.0" r="1.0" fill="#5db333"/>
<circle cx="79.3" cy="386.0" r="1.0" fill="#6a6a78"/>
<circle cx="79.5" cy="389.0" r="1.0" fill="#6a6a78"/>
<circle cx="79.5" cy="392.0" r="1.0" fill="#6a6a78"/>
<circle cx="78.7" cy="397.0" r="1.0" fill="#5db333"/>
<circle cx="79.1" cy="401.0" r="1.0" fill="#6a6a78"/>
<circle cx="77.3" cy="404.0" r="1.0" fill="#6a6a78"/>
<circle cx="78.8" cy="409.0" r="1.0" fill="#5db333"/>
<circle cx="78.7" cy="418.0" r="1.0" fill="#5db333"/>
<circle cx="77.9" cy="421.0" r="1.0" fill="#6a6a78"/>
<circle cx="83.8" cy="389.5" r="1.0" fill="#e8955a"/>
<circle cx="84.9" cy="392.0" r="1.0" fill="#5db333"/>
<circle cx="84.3" cy="395.0" r="1.0" fill="#6a6a78"/>
<circle cx="84.7" cy="398.0" r="1.0" fill="#6a6a78"/>
<circle cx="84.0" cy="401.0" r="1.0" fill="#6a6a78"/>
<circle cx="83.7" cy="412.0" r="1.0" fill="#5db333"/>
<circle cx="93.6" cy="372.4" r="1.0" fill="#6a6a78"/>
<circle cx="91.5" cy="417.0" r="1.0" fill="#5db333"/>
<circle cx="93.1" cy="422.0" r="1.0" fill="#5db333"/>
<circle cx="98.8" cy="373.4" r="1.0" fill="#5db333"/>
<circle cx="103.6" cy="409.0" r="1.0" fill="#5db333"/>
<circle cx="110.0" cy="393.7" r="1.0" fill="#5db333"/>
<circle cx="109.9" cy="412.0" r="1.0" fill="#6a6a78"/>
<circle cx="129.7" cy="385.0" r="1.0" fill="#5db333"/>
<circle cx="128.8" cy="389.0" r="1.0" fill="#5db333"/>
<circle cx="130.5" cy="393.0" r="1.0" fill="#e8955a"/>
<circle cx="130.1" cy="396.0" r="1.0" fill="#5db333"/>
<circle cx="130.1" cy="400.0" r="1.0" fill="#5db333"/>
<circle cx="142.8" cy="433.4" r="1.0" fill="#5db333"/>
<circle cx="148.9" cy="387.6" r="1.0" fill="#5db333"/>
<circle cx="149.1" cy="391.0" r="1.0" fill="#5db333"/>
<circle cx="149.9" cy="395.0" r="1.0" fill="#5db333"/>
<circle cx="150.1" cy="398.0" r="1.0" fill="#6a6a78"/>
<circle cx="149.2" cy="402.0" r="1.0" fill="#5db333"/>
<circle cx="148.5" cy="406.0" r="1.0" fill="#6a6a78"/>
<circle cx="149.1" cy="410.0" r="1.0" fill="#5db333"/>
<circle cx="150.2" cy="414.0" r="1.0" fill="#5db333"/>
<circle cx="162.8" cy="388.6" r="1.0" fill="#5db333"/>
<circle cx="168.4" cy="370.3" r="1.0" fill="#5db333"/>
<circle cx="180.9" cy="427.0" r="1.0" fill="#6a6a78"/>
<circle cx="188.2" cy="424.8" r="1.0" fill="#5db333"/>
<circle cx="227.1" cy="439.5" r="1.0" fill="#5db333"/>
<text transform="translate(38.4,463.6) rotate(49.6)" font-family="Liberation Sans, Arial, sans-serif" font-weight="bold" font-size="4.8" fill="#333" stroke="#333" stroke-width="0.18">Adrenocortical Carcinoma</text>
<text transform="translate(45.5,463.6) rotate(49.6)" font-family="Liberation Sans, Arial, sans-serif" font-weight="bold" font-size="4.8" fill="#333" stroke="#333" stroke-width="0.18">Bladder Cancer</text>
<text transform="translate(52.2,463.6) rotate(49.6)" font-family="Liberation Sans, Arial, sans-serif" font-weight="bold" font-size="4.8" fill="#333" stroke="#333" stroke-width="0.18">Breast Cancer</text>
<text transform="translate(58.7,463.6) rotate(49.6)" font-family="Liberation Sans, Arial, sans-serif" font-weight="bold" font-size="4.8" fill="#333" stroke="#333" stroke-width="0.18">Cervical Cancer</text>
<text transform="translate(65.4,463.6) rotate(49.6)" font-family="Liberation Sans, Arial, sans-serif" font-weight="bold" font-size="4.8" fill="#333" stroke="#333" stroke-width="0.18">Cholangiocarcinoma</text>
<text transform="translate(71.5,463.6) rotate(49.6)" font-family="Liberation Sans, Arial, sans-serif" font-weight="bold" font-size="4.8" fill="#333" stroke="#333" stroke-width="0.18">Colorectal Cancer</text>
<text transform="translate(77.6,463.6) rotate(49.6)" font-family="Liberation Sans, Arial, sans-serif" font-weight="bold" font-size="4.8" fill="#333" stroke="#333" stroke-width="0.18">Endometrial Carcinoma</text>
<text transform="translate(84.1,463.6) rotate(49.6)" font-family="Liberation Sans, Arial, sans-serif" font-weight="bold" font-size="4.8" fill="#333" stroke="#333" stroke-width="0.18">Esophagogastric Cancer</text>
<text transform="translate(91.3,463.6) rotate(49.6)" font-family="Liberation Sans, Arial, sans-serif" font-weight="bold" font-size="4.8" fill="#333" stroke="#333" stroke-width="0.18">Glioblastoma</text>
<text transform="translate(97.4,463.6) rotate(49.6)" font-family="Liberation Sans, Arial, sans-serif" font-weight="bold" font-size="4.8" fill="#333" stroke="#333" stroke-width="0.18">Glioma</text>
<text transform="translate(103.5,463.6) rotate(49.6)" font-family="Liberation Sans, Arial, sans-serif" font-weight="bold" font-size="4.8" fill="#333" stroke="#333" stroke-width="0.18">Head and Neck Cancer</text>
<text transform="translate(110.0,463.6) rotate(49.6)" font-family="Liberation Sans, Arial, sans-serif" font-weight="bold" font-size="4.8" fill="#333" stroke="#333" stroke-width="0.18">Hepatobiliary Cancer</text>
<text transform="translate(116.3,463.6) rotate(49.6)" font-family="Liberation Sans, Arial, sans-serif" font-weight="bold" font-size="4.8" fill="#333" stroke="#333" stroke-width="0.18">Leukemia</text>
<text transform="translate(122.8,463.6) rotate(49.6)" font-family="Liberation Sans, Arial, sans-serif" font-weight="bold" font-size="4.8" fill="#333" stroke="#333" stroke-width="0.18">Mature B-Cell Neoplasms</text>
<text transform="translate(128.9,463.6) rotate(49.6)" font-family="Liberation Sans, Arial, sans-serif" font-weight="bold" font-size="4.8" fill="#333" stroke="#333" stroke-width="0.18">Melanoma</text>
<text transform="translate(135.7,463.6) rotate(49.6)" font-family="Liberation Sans, Arial, sans-serif" font-weight="bold" font-size="4.8" fill="#333" stroke="#333" stroke-width="0.18">Miscellaneous Neuroepithelial Tumor</text>
<text transform="translate(142.4,463.6) rotate(49.6)" font-family="Liberation Sans, Arial, sans-serif" font-weight="bold" font-size="4.8" fill="#333" stroke="#333" stroke-width="0.18">Non-Seminomatous Germ Cell Tumor</text>
<text transform="translate(148.5,463.6) rotate(49.6)" font-family="Liberation Sans, Arial, sans-serif" font-weight="bold" font-size="4.8" fill="#333" stroke="#333" stroke-width="0.18">Non-Small Cell Lung Cancer</text>
<text transform="translate(155.0,463.6) rotate(49.6)" font-family="Liberation Sans, Arial, sans-serif" font-weight="bold" font-size="4.8" fill="#333" stroke="#333" stroke-width="0.18">Ocular Melanoma</text>
<text transform="translate(161.3,463.6) rotate(49.6)" font-family="Liberation Sans, Arial, sans-serif" font-weight="bold" font-size="4.8" fill="#333" stroke="#333" stroke-width="0.18">Ovarian Epithelial Tumor</text>
<text transform="translate(167.4,463.6) rotate(49.6)" font-family="Liberation Sans, Arial, sans-serif" font-weight="bold" font-size="4.8" fill="#333" stroke="#333" stroke-width="0.18">Pancreatic Cancer</text>
<text transform="translate(173.9,463.6) rotate(49.6)" font-family="Liberation Sans, Arial, sans-serif" font-weight="bold" font-size="4.8" fill="#333" stroke="#333" stroke-width="0.18">Pheochromocytoma</text>
<text transform="translate(180.8,463.6) rotate(49.6)" font-family="Liberation Sans, Arial, sans-serif" font-weight="bold" font-size="4.8" fill="#333" stroke="#333" stroke-width="0.18">Pleural Mesothelioma</text>
<text transform="translate(187.3,463.6) rotate(49.6)" font-family="Liberation Sans, Arial, sans-serif" font-weight="bold" font-size="4.8" fill="#333" stroke="#333" stroke-width="0.18">Prostate Cancer</text>
<text transform="translate(193.4,463.6) rotate(49.6)" font-family="Liberation Sans, Arial, sans-serif" font-weight="bold" font-size="4.8" fill="#333" stroke="#333" stroke-width="0.18">Renal Clear Cell Carcinoma</text>
<text transform="translate(199.5,463.6) rotate(49.6)" font-family="Liberation Sans, Arial, sans-serif" font-weight="bold" font-size="4.8" fill="#333" stroke="#333" stroke-width="0.18">Renal Non-Clear Cell Carcinoma</text>
<text transform="translate(206.2,463.6) rotate(49.6)" font-family="Liberation Sans, Arial, sans-serif" font-weight="bold" font-size="4.8" fill="#333" stroke="#333" stroke-width="0.18">Sarcoma</text>
<text transform="translate(212.8,463.6) rotate(49.6)" font-family="Liberation Sans, Arial, sans-serif" font-weight="bold" font-size="4.8" fill="#333" stroke="#333" stroke-width="0.18">Seminoma</text>
<text transform="translate(219.2,463.6) rotate(49.6)" font-family="Liberation Sans, Arial, sans-serif" font-weight="bold" font-size="4.8" fill="#333" stroke="#333" stroke-width="0.18">Thymic Epithelial Tumor</text>
<text transform="translate(226.0,463.6) rotate(49.6)" font-family="Liberation Sans, Arial, sans-serif" font-weight="bold" font-size="4.8" fill="#333" stroke="#333" stroke-width="0.18">Thyroid Cancer</text>
<text x="142" y="531.8" font-family="Liberation Sans, Arial, sans-serif" font-weight="bold" font-size="4.8" text-anchor="middle" fill="#333" stroke="#333" stroke-width="0.16">Cancer Type</text>
<text x="6.4" y="542.6" font-family="Liberation Sans, Arial, sans-serif" font-weight="bold" font-size="4.8" fill="#333" stroke="#333" stroke-width="0.16">NEIL3</text>
<circle cx="33.9" cy="540.8" r="2.5" fill="#e8955a"/>
<text x="38.3" y="542.6" font-family="Liberation Sans, Arial, sans-serif" font-weight="bold" font-size="4.9" fill="#333" stroke="#333" stroke-width="0.16">Splice (VUS)</text>
<circle cx="88.8" cy="540.8" r="2.5" fill="#6a6a78"/>
<text x="94.4" y="542.6" font-family="Liberation Sans, Arial, sans-serif" font-weight="bold" font-size="4.9" fill="#333" stroke="#333" stroke-width="0.16">Truncating (VUS)</text>
<circle cx="154.9" cy="540.8" r="2.5" fill="#5db333"/>
<text x="161.4" y="542.6" font-family="Liberation Sans, Arial, sans-serif" font-weight="bold" font-size="4.9" fill="#333" stroke="#333" stroke-width="0.16">Missense (VUS)</text>
<circle cx="220" cy="540.8" r="2.5" fill="#c4dcea"/>
<text x="225.7" y="542.6" font-family="Liberation Sans, Arial, sans-serif" font-weight="bold" font-size="4.9" fill="#333" stroke="#333" stroke-width="0.16">Not mutated</text>
<text transform="translate(258.2,340.8) scale(0.88,1)" font-family="Liberation Sans, Arial, sans-serif" font-weight="bold" font-size="11.3" fill="#111">E</text>
<line x1="285" x2="467" y1="454.2" y2="454.2" stroke="#f0f0f0" stroke-width="0.5" stroke-dasharray="1,1"/>
<line x1="285" x2="467" y1="435.9" y2="435.9" stroke="#f0f0f0" stroke-width="0.5" stroke-dasharray="1,1"/>
<line x1="285" x2="467" y1="417.6" y2="417.6" stroke="#f0f0f0" stroke-width="0.5" stroke-dasharray="1,1"/>
<line x1="285" x2="467" y1="399.3" y2="399.3" stroke="#f0f0f0" stroke-width="0.5" stroke-dasharray="1,1"/>
<line x1="285" x2="467" y1="381.0" y2="381.0" stroke="#f0f0f0" stroke-width="0.5" stroke-dasharray="1,1"/>
<line x1="285" x2="467" y1="362.7" y2="362.7" stroke="#f0f0f0" stroke-width="0.5" stroke-dasharray="1,1"/>
<line x1="285" x2="467" y1="344.4" y2="344.4" stroke="#f0f0f0" stroke-width="0.5" stroke-dasharray="1,1"/>
<line x1="302.4" x2="302.4" y1="343" y2="467.8" stroke="#f0f0f0" stroke-width="0.5" stroke-dasharray="1,1"/>
<line x1="332.5" x2="332.5" y1="343" y2="467.8" stroke="#f0f0f0" stroke-width="0.5" stroke-dasharray="1,1"/>
<line x1="361.4" x2="361.4" y1="343" y2="467.8" stroke="#f0f0f0" stroke-width="0.5" stroke-dasharray="1,1"/>
<line x1="390.5" x2="390.5" y1="343" y2="467.8" stroke="#f0f0f0" stroke-width="0.5" stroke-dasharray="1,1"/>
<line x1="420.2" x2="420.2" y1="343" y2="467.8" stroke="#f0f0f0" stroke-width="0.5" stroke-dasharray="1,1"/>
<line x1="449.3" x2="449.3" y1="343" y2="467.8" stroke="#f0f0f0" stroke-width="0.5" stroke-dasharray="1,1"/>
<line x1="284.9" x2="284.9" y1="343.5" y2="467.8" stroke="#aaa" stroke-width="0.6"/>
<line x1="284.9" x2="467" y1="467.8" y2="467.8" stroke="#aaa" stroke-width="0.6"/>
<line x1="283.3" x2="284.9" y1="454.2" y2="454.2" stroke="#aaa" stroke-width="0.5"/>
<text x="282.6" y="455.7" font-family="Liberation Sans, Arial, sans-serif" font-weight="bold" font-size="4.0" text-anchor="end" fill="#333" stroke="#333" stroke-width="0.16">0</text>
<line x1="283.3" x2="284.9" y1="435.9" y2="435.9" stroke="#aaa" stroke-width="0.5"/>
<text x="282.6" y="437.4" font-family="Liberation Sans, Arial, sans-serif" font-weight="bold" font-size="4.0" text-anchor="end" fill="#333" stroke="#333" stroke-width="0.16">2</text>
<line x1="283.3" x2="284.9" y1="417.6" y2="417.6" stroke="#aaa" stroke-width="0.5"/>
<text x="282.6" y="419.1" font-family="Liberation Sans, Arial, sans-serif" font-weight="bold" font-size="4.0" text-anchor="end" fill="#333" stroke="#333" stroke-width="0.16">4</text>
<line x1="283.3" x2="284.9" y1="399.3" y2="399.3" stroke="#aaa" stroke-width="0.5"/>
<text x="282.6" y="400.8" font-family="Liberation Sans, Arial, sans-serif" font-weight="bold" font-size="4.0" text-anchor="end" fill="#333" stroke="#333" stroke-width="0.16">6</text>
<line x1="283.3" x2="284.9" y1="381.0" y2="381.0" stroke="#aaa" stroke-width="0.5"/>
<text x="282.6" y="382.5" font-family="Liberation Sans, Arial, sans-serif" font-weight="bold" font-size="4.0" text-anchor="end" fill="#333" stroke="#333" stroke-width="0.16">8</text>
<line x1="283.3" x2="284.9" y1="362.7" y2="362.7" stroke="#aaa" stroke-width="0.5"/>
<text x="282.6" y="364.2" font-family="Liberation Sans, Arial, sans-serif" font-weight="bold" font-size="4.0" text-anchor="end" fill="#333" stroke="#333" stroke-width="0.16">10</text>
<line x1="283.3" x2="284.9" y1="344.4" y2="344.4" stroke="#aaa" stroke-width="0.5"/>
<text x="282.6" y="345.9" font-family="Liberation Sans, Arial, sans-serif" font-weight="bold" font-size="4.0" text-anchor="end" fill="#333" stroke="#333" stroke-width="0.16">12</text>
<line x1="302.4" x2="302.4" y1="467.8" y2="469.4" stroke="#aaa" stroke-width="0.5"/>
<line x1="332.5" x2="332.5" y1="467.8" y2="469.4" stroke="#aaa" stroke-width="0.5"/>
<line x1="361.4" x2="361.4" y1="467.8" y2="469.4" stroke="#aaa" stroke-width="0.5"/>
<line x1="390.5" x2="390.5" y1="467.8" y2="469.4" stroke="#aaa" stroke-width="0.5"/>
<line x1="420.2" x2="420.2" y1="467.8" y2="469.4" stroke="#aaa" stroke-width="0.5"/>
<line x1="449.3" x2="449.3" y1="467.8" y2="469.4" stroke="#aaa" stroke-width="0.5"/>
<text transform="translate(276,401.5) rotate(-90)" font-family="Liberation Sans, Arial, sans-serif" font-weight="bold" font-size="5.1" text-anchor="middle" fill="#333" stroke="#333" stroke-width="0.16">NEIL3 Expression</text>
<line x1="302.4" x2="302.4" y1="370.1" y2="426.3" stroke="#d6d6d6" stroke-width="0.5"/>
<rect x="293.2" y="388.6" width="18.8" height="14.8" fill="#e9e9e9"/>
<line x1="293.2" x2="312" y1="393.5" y2="393.5" stroke="#d0d0d0" stroke-width="0.6"/>
<line x1="293.7" x2="311.5" y1="370.1" y2="370.1" stroke="#cfcfcf" stroke-width="0.6"/>
<line x1="293.7" x2="311.5" y1="426.3" y2="426.3" stroke="#cfcfcf" stroke-width="0.6"/>
<line x1="332.5" x2="332.5" y1="376.3" y2="430" stroke="#d6d6d6" stroke-width="0.5"/>
<rect x="322.3" y="392.7" width="19.5" height="14.8" fill="#e9e9e9"/>
<line x1="322.3" x2="341.8" y1="397.3" y2="397.3" stroke="#d0d0d0" stroke-width="0.6"/>
<line x1="322.8" x2="341.3" y1="376.3" y2="376.3" stroke="#cfcfcf" stroke-width="0.6"/>
<line x1="322.8" x2="341.3" y1="430" y2="430" stroke="#cfcfcf" stroke-width="0.6"/>
<line x1="361.4" x2="361.4" y1="391.5" y2="391.5" stroke="#d6d6d6" stroke-width="0.5"/>
<rect x="352.2" y="390.8" width="19.3" height="1.0" fill="#e9e9e9"/>
<line x1="352.2" x2="371.5" y1="391.5" y2="391.5" stroke="#d0d0d0" stroke-width="0.6"/>
<line x1="352.7" x2="371.0" y1="391.5" y2="391.5" stroke="#cfcfcf" stroke-width="0.6"/>
<line x1="352.7" x2="371.0" y1="391.5" y2="391.5" stroke="#cfcfcf" stroke-width="0.6"/>
<line x1="390.5" x2="390.5" y1="392.4" y2="411.7" stroke="#d6d6d6" stroke-width="0.5"/>
<rect x="381.3" y="392.4" width="19.0" height="19.3" fill="#e9e9e9"/>
<line x1="381.3" x2="400.3" y1="402" y2="402" stroke="#d0d0d0" stroke-width="0.6"/>
<line x1="381.8" x2="399.8" y1="392.4" y2="392.4" stroke="#cfcfcf" stroke-width="0.6"/>
<line x1="381.8" x2="399.8" y1="411.7" y2="411.7" stroke="#cfcfcf" stroke-width="0.6"/>
<line x1="420.2" x2="420.2" y1="357.4" y2="453.9" stroke="#d6d6d6" stroke-width="0.5"/>
<rect x="410.5" y="392.5" width="19.0" height="27.3" fill="#e9e9e9"/>
<line x1="410.5" x2="429.5" y1="404" y2="404" stroke="#d0d0d0" stroke-width="0.6"/>
<line x1="411.0" x2="429.0" y1="357.4" y2="357.4" stroke="#cfcfcf" stroke-width="0.6"/>
<line x1="411.0" x2="429.0" y1="453.9" y2="453.9" stroke="#cfcfcf" stroke-width="0.6"/>
<line x1="449.3" x2="449.3" y1="378.4" y2="454.3" stroke="#d6d6d6" stroke-width="0.5"/>
<rect x="440" y="396.9" width="19.3" height="26.2" fill="#e9e9e9"/>
<line x1="440" x2="459.3" y1="410" y2="410" stroke="#d0d0d0" stroke-width="0.6"/>
<line x1="440.5" x2="458.8" y1="378.4" y2="378.4" stroke="#cfcfcf" stroke-width="0.6"/>
<line x1="440.5" x2="458.8" y1="454.3" y2="454.3" stroke="#cfcfcf" stroke-width="0.6"/>
<circle class="q" cx="453.4" cy="421.0" r="1.1"/>
<circle class="q" cx="450.2" cy="417.1" r="1.1"/>
<circle class="q" cx="450.7" cy="417.4" r="1.1"/>
<circle class="q" cx="445.5" cy="393.9" r="1.1"/>
<circle class="q" cx="454.9" cy="406.6" r="1.1"/>
<circle class="q" cx="446.6" cy="426.6" r="1.1"/>
<circle class="q" cx="444.8" cy="418.6" r="1.1"/>
<circle class="q" cx="444.5" cy="397.1" r="1.1"/>
<circle class="q" cx="453.2" cy="412.0" r="1.1"/>
<circle class="q" cx="449.3" cy="427.0" r="1.1"/>
<circle class="q" cx="455.1" cy="406.6" r="1.1"/>
<circle class="q" cx="448.4" cy="437.1" r="1.1"/>
<circle class="q" cx="444.6" cy="400.7" r="1.1"/>
<circle class="q" cx="448.4" cy="425.8" r="1.1"/>
<circle class="q" cx="446.0" cy="410.8" r="1.1"/>
<circle class="q" cx="448.7" cy="433.4" r="1.1"/>
<circle class="q" cx="451.5" cy="426.2" r="1.1"/>
<circle class="q" cx="448.2" cy="385.5" r="1.1"/>
<circle class="q" cx="446.4" cy="411.9" r="1.1"/>
<circle class="q" cx="451.1" cy="383.5" r="1.1"/>
<circle class="q" cx="448.8" cy="420.9" r="1.1"/>
<circle class="q" cx="447.2" cy="433.9" r="1.1"/>
<circle class="q" cx="446.3" cy="399.1" r="1.1"/>
<circle class="q" cx="450.2" cy="451.8" r="1.1"/>
<circle class="q" cx="448.3" cy="445.4" r="1.1"/>
<circle class="q" cx="449.9" cy="443.1" r="1.1"/>
<circle class="q" cx="448.5" cy="453.2" r="1.1"/>
<circle class="q" cx="448.4" cy="437.0" r="1.1"/>
<circle class="q" cx="446.6" cy="384.5" r="1.1"/>
<circle class="q" cx="450.3" cy="397.2" r="1.1"/>
<circle class="q" cx="454.5" cy="413.0" r="1.1"/>
<circle class="q" cx="452.7" cy="422.1" r="1.1"/>
<circle class="q" cx="452.7" cy="390.6" r="1.1"/>
<circle class="q" cx="451.6" cy="395.5" r="1.1"/>
<circle class="q" cx="452.8" cy="422.0" r="1.1"/>
<circle class="q" cx="444.5" cy="398.7" r="1.1"/>
<circle class="q" cx="446.6" cy="414.4" r="1.1"/>
<circle class="q" cx="445.6" cy="412.4" r="1.1"/>
<circle class="q" cx="449.8" cy="390.1" r="1.1"/>
<circle class="q" cx="454.0" cy="412.5" r="1.1"/>
<circle class="q" cx="448.1" cy="380.2" r="1.1"/>
<circle class="q" cx="447.3" cy="383.5" r="1.1"/>
<circle class="q" cx="445.9" cy="421.9" r="1.1"/>
<circle class="q" cx="451.0" cy="445.8" r="1.1"/>
<circle class="q" cx="446.5" cy="426.8" r="1.1"/>
<circle class="q" cx="451.5" cy="380.3" r="1.1"/>
<circle class="q" cx="450.8" cy="415.9" r="1.1"/>
<circle class="q" cx="448.2" cy="433.8" r="1.1"/>
<circle class="q" cx="451.9" cy="402.3" r="1.1"/>
<circle class="q" cx="451.1" cy="433.0" r="1.1"/>
<circle class="q" cx="453.5" cy="417.9" r="1.1"/>
<circle class="q" cx="452.4" cy="424.3" r="1.1"/>
<circle class="q" cx="448.3" cy="425.9" r="1.1"/>
<circle class="q" cx="445.7" cy="424.7" r="1.1"/>
<circle class="q" cx="450.0" cy="449.2" r="1.1"/>
<circle class="q" cx="449.8" cy="434.1" r="1.1"/>
<circle class="q" cx="447.6" cy="441.9" r="1.1"/>
<circle class="q" cx="449.1" cy="402.7" r="1.1"/>
<circle class="q" cx="449.3" cy="431.4" r="1.1"/>
<circle class="q" cx="444.9" cy="423.1" r="1.1"/>
<circle class="q" cx="447.2" cy="429.9" r="1.1"/>
<circle class="q" cx="449.8" cy="446.9" r="1.1"/>
<circle class="q" cx="448.7" cy="445.9" r="1.1"/>
<circle class="q" cx="452.7" cy="402.6" r="1.1"/>
<circle class="q" cx="450.0" cy="426.4" r="1.1"/>
<circle class="q" cx="449.3" cy="389.2" r="1.1"/>
<circle class="q" cx="451.5" cy="437.5" r="1.1"/>
<circle class="q" cx="448.9" cy="391.7" r="1.1"/>
<circle class="q" cx="448.5" cy="395.1" r="1.1"/>
<circle class="q" cx="453.2" cy="409.3" r="1.1"/>
<circle class="q" cx="444.4" cy="398.8" r="1.1"/>
<circle class="q" cx="450.1" cy="407.1" r="1.1"/>
<circle class="q" cx="447.0" cy="438.4" r="1.1"/>
<circle class="q" cx="444.0" cy="413.1" r="1.1"/>
<circle class="q" cx="445.2" cy="393.2" r="1.1"/>
<circle class="q" cx="450.9" cy="419.4" r="1.1"/>
<circle class="q" cx="448.0" cy="440.6" r="1.1"/>
<circle class="q" cx="445.0" cy="392.4" r="1.1"/>
<circle class="q" cx="447.3" cy="432.6" r="1.1"/>
<circle class="q" cx="451.6" cy="404.9" r="1.1"/>
<circle class="q" cx="451.4" cy="425.1" r="1.1"/>
<circle class="q" cx="451.2" cy="438.4" r="1.1"/>
<circle class="q" cx="450.0" cy="448.9" r="1.1"/>
<circle class="q" cx="450.7" cy="413.0" r="1.1"/>
<circle class="q" cx="453.5" cy="414.5" r="1.1"/>
<circle class="q" cx="450.3" cy="431.8" r="1.1"/>
<circle class="q" cx="451.2" cy="433.1" r="1.1"/>
<circle class="q" cx="453.8" cy="413.9" r="1.1"/>
<circle class="q" cx="450.9" cy="435.8" r="1.1"/>
<circle class="q" cx="450.5" cy="447.2" r="1.1"/>
<circle class="q" cx="448.9" cy="385.2" r="1.1"/>
<circle class="q" cx="449.2" cy="436.6" r="1.1"/>
<circle class="q" cx="447.3" cy="439.7" r="1.1"/>
<circle class="q" cx="452.3" cy="398.0" r="1.1"/>
<circle class="q" cx="449.4" cy="390.2" r="1.1"/>
<circle class="q" cx="451.6" cy="436.4" r="1.1"/>
<circle class="q" cx="448.0" cy="450.2" r="1.1"/>
<circle class="q" cx="447.2" cy="418.5" r="1.1"/>
<circle class="q" cx="452.4" cy="422.6" r="1.1"/>
<circle class="q" cx="448.0" cy="402.4" r="1.1"/>
<circle class="q" cx="452.7" cy="420.6" r="1.1"/>
<circle class="q" cx="446.4" cy="420.1" r="1.1"/>
<circle class="q" cx="450.4" cy="416.7" r="1.1"/>
<circle class="q" cx="449.3" cy="451.7" r="1.1"/>
<circle class="q" cx="449.6" cy="439.1" r="1.1"/>
<circle class="q" cx="446.4" cy="430.8" r="1.1"/>
<circle class="q" cx="454.6" cy="410.0" r="1.1"/>
<circle class="q" cx="445.0" cy="406.8" r="1.1"/>
<circle class="q" cx="451.1" cy="440.2" r="1.1"/>
<circle class="q" cx="445.8" cy="402.8" r="1.1"/>
<circle class="q" cx="452.1" cy="418.6" r="1.1"/>
<circle class="q" cx="446.8" cy="393.6" r="1.1"/>
<circle class="q" cx="450.7" cy="404.4" r="1.1"/>
<circle class="q" cx="447.1" cy="433.8" r="1.1"/>
<circle class="q" cx="446.2" cy="397.8" r="1.1"/>
<circle class="q" cx="447.9" cy="411.8" r="1.1"/>
<circle class="q" cx="445.8" cy="418.7" r="1.1"/>
<circle class="q" cx="450.4" cy="426.3" r="1.1"/>
<circle class="q" cx="449.7" cy="442.8" r="1.1"/>
<circle class="q" cx="452.7" cy="415.5" r="1.1"/>
<circle class="q" cx="454.0" cy="402.7" r="1.1"/>
<circle class="q" cx="450.4" cy="453.9" r="1.1"/>
<circle class="q" cx="451.6" cy="397.0" r="1.1"/>
<circle class="q" cx="451.6" cy="386.3" r="1.1"/>
<circle class="q" cx="447.5" cy="438.2" r="1.1"/>
<circle class="q" cx="446.0" cy="430.4" r="1.1"/>
<circle class="q" cx="452.1" cy="430.2" r="1.1"/>
<circle class="q" cx="452.2" cy="402.3" r="1.1"/>
<circle class="q" cx="447.2" cy="430.4" r="1.1"/>
<circle class="q" cx="446.0" cy="387.0" r="1.1"/>
<circle class="q" cx="450.0" cy="417.6" r="1.1"/>
<circle class="q" cx="446.7" cy="392.8" r="1.1"/>
<circle class="q" cx="448.1" cy="450.9" r="1.1"/>
<circle class="q" cx="449.2" cy="450.4" r="1.1"/>
<circle class="q" cx="449.5" cy="408.8" r="1.1"/>
<circle class="q" cx="445.1" cy="424.1" r="1.1"/>
<circle class="q" cx="448.8" cy="417.5" r="1.1"/>
<circle class="q" cx="445.6" cy="401.5" r="1.1"/>
<circle class="q" cx="451.4" cy="380.2" r="1.1"/>
<circle class="q" cx="449.9" cy="437.7" r="1.1"/>
<circle class="q" cx="449.3" cy="424.0" r="1.1"/>
<circle class="q" cx="453.5" cy="418.9" r="1.1"/>
<circle class="q" cx="448.9" cy="438.7" r="1.1"/>
<circle class="q" cx="450.6" cy="438.0" r="1.1"/>
<circle class="q" cx="445.2" cy="421.3" r="1.1"/>
<circle class="q" cx="443.9" cy="414.2" r="1.1"/>
<circle class="q" cx="450.3" cy="426.9" r="1.1"/>
<circle class="q" cx="449.8" cy="449.9" r="1.1"/>
<circle class="q" cx="449.8" cy="428.5" r="1.1"/>
<circle class="q" cx="455.1" cy="408.2" r="1.1"/>
<circle class="q" cx="452.1" cy="433.9" r="1.1"/>
<circle class="q" cx="451.3" cy="425.2" r="1.1"/>
<circle class="q" cx="444.1" cy="409.1" r="1.1"/>
<circle class="q" cx="444.6" cy="407.2" r="1.1"/>
<circle class="q" cx="449.5" cy="446.9" r="1.1"/>
<circle class="q" cx="449.5" cy="451.5" r="1.1"/>
<circle class="q" cx="446.8" cy="433.3" r="1.1"/>
<circle class="q" cx="446.9" cy="435.9" r="1.1"/>
<circle class="q" cx="445.6" cy="402.7" r="1.1"/>
<circle class="q" cx="445.6" cy="424.8" r="1.1"/>
<circle class="q" cx="450.4" cy="414.5" r="1.1"/>
<circle class="q" cx="451.0" cy="400.4" r="1.1"/>
<circle class="q" cx="451.6" cy="400.3" r="1.1"/>
<circle class="q" cx="447.9" cy="380.1" r="1.1"/>
<circle class="q" cx="451.4" cy="390.7" r="1.1"/>
<circle class="q" cx="450.2" cy="446.3" r="1.1"/>
<circle class="q" cx="450.6" cy="453.2" r="1.1"/>
<circle class="q" cx="449.1" cy="446.9" r="1.1"/>
<circle class="q" cx="448.6" cy="452.0" r="1.1"/>
<circle class="q" cx="450.0" cy="449.3" r="1.1"/>
<circle class="q" cx="450.2" cy="452.4" r="1.1"/>
<circle class="q" cx="448.8" cy="406.7" r="1.1"/>
<circle class="q" cx="449.5" cy="382.9" r="1.1"/>
<circle class="q" cx="451.2" cy="412.2" r="1.1"/>
<circle class="q" cx="450.2" cy="398.7" r="1.1"/>
<circle class="q" cx="449.5" cy="437.3" r="1.1"/>
<circle class="q" cx="448.2" cy="442.3" r="1.1"/>
<circle class="q" cx="450.3" cy="446.0" r="1.1"/>
<circle class="q" cx="451.4" cy="402.7" r="1.1"/>
<circle class="q" cx="450.5" cy="423.4" r="1.1"/>
<circle class="q" cx="453.9" cy="395.5" r="1.1"/>
<circle class="q" cx="444.4" cy="413.4" r="1.1"/>
<circle class="q" cx="450.7" cy="410.9" r="1.1"/>
<circle class="q" cx="445.1" cy="419.6" r="1.1"/>
<circle class="q" cx="449.7" cy="429.7" r="1.1"/>
<circle class="q" cx="446.0" cy="410.9" r="1.1"/>
<circle class="q" cx="451.2" cy="434.9" r="1.1"/>
<circle class="q" cx="451.6" cy="388.0" r="1.1"/>
<circle class="q" cx="448.5" cy="415.8" r="1.1"/>
<circle class="q" cx="448.7" cy="439.7" r="1.1"/>
<circle class="q" cx="449.7" cy="428.3" r="1.1"/>
<circle class="q" cx="448.4" cy="429.6" r="1.1"/>
<circle class="q" cx="447.8" cy="444.6" r="1.1"/>
<circle class="q" cx="449.2" cy="421.3" r="1.1"/>
<circle class="q" cx="445.1" cy="419.3" r="1.1"/>
<circle class="q" cx="446.2" cy="428.7" r="1.1"/>
<circle class="q" cx="450.5" cy="433.4" r="1.1"/>
<circle class="q" cx="448.2" cy="389.7" r="1.1"/>
<circle class="q" cx="451.4" cy="397.1" r="1.1"/>
<circle class="q" cx="450.7" cy="447.9" r="1.1"/>
<circle class="q" cx="447.7" cy="425.5" r="1.1"/>
<circle class="q" cx="454.3" cy="409.0" r="1.1"/>
<circle class="q" cx="447.8" cy="401.9" r="1.1"/>
<circle class="q" cx="448.0" cy="408.7" r="1.1"/>
<circle class="q" cx="452.1" cy="421.3" r="1.1"/>
<circle class="q" cx="449.6" cy="441.7" r="1.1"/>
<circle class="q" cx="451.3" cy="435.9" r="1.1"/>
<circle class="q" cx="449.4" cy="380.7" r="1.1"/>
<circle class="q" cx="453.7" cy="421.6" r="1.1"/>
<circle class="q" cx="449.8" cy="411.6" r="1.1"/>
<circle class="q" cx="450.9" cy="385.2" r="1.1"/>
<circle class="q" cx="445.2" cy="406.0" r="1.1"/>
<circle class="q" cx="446.1" cy="412.5" r="1.1"/>
<circle class="q" cx="448.5" cy="427.2" r="1.1"/>
<circle class="q" cx="449.8" cy="451.6" r="1.1"/>
<circle class="q" cx="451.5" cy="419.3" r="1.1"/>
<circle class="q" cx="451.7" cy="428.7" r="1.1"/>
<circle class="q" cx="450.7" cy="441.2" r="1.1"/>
<circle class="q" cx="449.4" cy="438.9" r="1.1"/>
<circle class="q" cx="448.6" cy="424.9" r="1.1"/>
<circle class="q" cx="452.1" cy="434.6" r="1.1"/>
<circle class="q" cx="446.8" cy="391.6" r="1.1"/>
<circle class="q" cx="454.4" cy="400.9" r="1.1"/>
<circle class="q" cx="445.0" cy="402.1" r="1.1"/>
<circle class="q" cx="444.5" cy="414.8" r="1.1"/>
<circle class="q" cx="453.0" cy="422.8" r="1.1"/>
<circle class="q" cx="447.0" cy="387.2" r="1.1"/>
<circle class="q" cx="451.5" cy="396.7" r="1.1"/>
<circle class="q" cx="446.2" cy="395.8" r="1.1"/>
<circle class="q" cx="451.5" cy="391.9" r="1.1"/>
<circle class="q" cx="452.4" cy="420.1" r="1.1"/>
<circle class="q" cx="453.4" cy="398.5" r="1.1"/>
<circle class="q" cx="454.5" cy="412.4" r="1.1"/>
<circle class="q" cx="444.9" cy="395.6" r="1.1"/>
<circle class="q" cx="449.5" cy="423.5" r="1.1"/>
<circle class="q" cx="454.5" cy="399.6" r="1.1"/>
<circle class="q" cx="449.1" cy="388.3" r="1.1"/>
<circle class="q" cx="450.3" cy="438.8" r="1.1"/>
<circle class="q" cx="447.8" cy="390.8" r="1.1"/>
<circle class="q" cx="449.4" cy="444.2" r="1.1"/>
<circle class="q" cx="449.6" cy="426.2" r="1.1"/>
<circle class="q" cx="446.8" cy="436.8" r="1.1"/>
<circle class="q" cx="447.6" cy="441.6" r="1.1"/>
<circle class="q" cx="446.8" cy="432.7" r="1.1"/>
<circle class="q" cx="454.4" cy="414.1" r="1.1"/>
<circle class="q" cx="448.5" cy="443.3" r="1.1"/>
<circle class="q" cx="446.4" cy="429.0" r="1.1"/>
<circle class="q" cx="449.6" cy="407.2" r="1.1"/>
<circle class="q" cx="448.5" cy="441.4" r="1.1"/>
<circle class="q" cx="448.0" cy="384.7" r="1.1"/>
<circle class="q" cx="448.4" cy="432.6" r="1.1"/>
<circle class="q" cx="448.9" cy="397.7" r="1.1"/>
<circle class="q" cx="446.6" cy="434.6" r="1.1"/>
<circle class="q" cx="447.7" cy="432.3" r="1.1"/>
<circle class="q" cx="443.8" cy="413.4" r="1.1"/>
<circle class="q" cx="450.5" cy="416.7" r="1.1"/>
<circle class="q" cx="449.8" cy="407.2" r="1.1"/>
<circle class="q" cx="448.1" cy="404.3" r="1.1"/>
<circle class="q" cx="451.6" cy="396.1" r="1.1"/>
<circle class="q" cx="449.5" cy="449.9" r="1.1"/>
<circle class="q" cx="445.6" cy="422.4" r="1.1"/>
<circle class="q" cx="450.5" cy="386.1" r="1.1"/>
<circle class="q" cx="453.0" cy="400.8" r="1.1"/>
<circle class="q" cx="447.4" cy="385.8" r="1.1"/>
<circle class="q" cx="448.6" cy="388.3" r="1.1"/>
<circle class="q" cx="449.1" cy="448.0" r="1.1"/>
<circle class="q" cx="451.3" cy="427.5" r="1.1"/>
<circle class="q" cx="448.3" cy="405.9" r="1.1"/>
<circle class="q" cx="451.6" cy="409.1" r="1.1"/>
<circle class="q" cx="449.9" cy="433.4" r="1.1"/>
<circle class="q" cx="447.5" cy="403.8" r="1.1"/>
<circle class="q" cx="449.4" cy="397.1" r="1.1"/>
<circle class="q" cx="447.2" cy="432.9" r="1.1"/>
<circle class="q" cx="448.4" cy="433.4" r="1.1"/>
<circle class="q" cx="451.0" cy="389.6" r="1.1"/>
<circle class="q" cx="452.1" cy="425.2" r="1.1"/>
<circle class="q" cx="449.7" cy="449.9" r="1.1"/>
<circle class="q" cx="447.6" cy="385.2" r="1.1"/>
<circle class="q" cx="448.2" cy="431.3" r="1.1"/>
<circle class="q" cx="445.0" cy="409.9" r="1.1"/>
<circle class="q" cx="449.7" cy="418.0" r="1.1"/>
<circle class="q" cx="447.0" cy="421.0" r="1.1"/>
<circle class="q" cx="449.6" cy="446.9" r="1.1"/>
<circle class="q" cx="448.4" cy="440.8" r="1.1"/>
<circle class="q" cx="453.1" cy="409.5" r="1.1"/>
<circle class="q" cx="445.1" cy="420.1" r="1.1"/>
<circle class="q" cx="453.6" cy="392.5" r="1.1"/>
<circle class="q" cx="451.2" cy="415.2" r="1.1"/>
<circle class="q" cx="452.6" cy="415.5" r="1.1"/>
<circle class="q" cx="449.0" cy="394.0" r="1.1"/>
<circle class="q" cx="450.1" cy="408.0" r="1.1"/>
<circle class="q" cx="446.9" cy="418.0" r="1.1"/>
<circle class="q" cx="450.9" cy="403.9" r="1.1"/>
<circle class="q" cx="446.8" cy="429.3" r="1.1"/>
<circle class="q" cx="448.4" cy="419.1" r="1.1"/>
<circle class="q" cx="450.8" cy="433.3" r="1.1"/>
<circle class="q" cx="450.3" cy="453.6" r="1.1"/>
<circle class="q" cx="450.1" cy="410.6" r="1.1"/>
<circle class="q" cx="448.6" cy="418.4" r="1.1"/>
<circle class="q" cx="451.3" cy="393.1" r="1.1"/>
<path d="M416.5 360 Q420.2 355.5 424 360 L426.2 366 L426.2 452 L414.8 452 L414.8 366 Z" fill="#a9c7d9"/>
<rect x="415" y="366" width="2.2" height="86" fill="#93b3c7"/>
<circle class="n" cx="422.6" cy="442.7" r="1"/>
<circle class="n" cx="422.8" cy="414.6" r="1"/>
<circle class="n" cx="421.2" cy="387.3" r="1"/>
<circle class="n" cx="416.5" cy="365.5" r="1"/>
<circle class="n" cx="420.2" cy="400.6" r="1"/>
<circle class="n" cx="415.5" cy="395.9" r="1"/>
<circle class="n" cx="420.5" cy="423.6" r="1"/>
<circle class="n" cx="418.2" cy="381.2" r="1"/>
<circle class="n" cx="417.5" cy="395.8" r="1"/>
<circle class="n" cx="424.2" cy="365.4" r="1"/>
<circle class="n" cx="421.9" cy="448.9" r="1"/>
<circle class="n" cx="419.4" cy="439.6" r="1"/>
<circle class="n" cx="417.3" cy="433.9" r="1"/>
<circle class="n" cx="420.9" cy="428.4" r="1"/>
<circle class="n" cx="416.0" cy="443.0" r="1"/>
<circle class="n" cx="416.3" cy="432.7" r="1"/>
<circle class="n" cx="424.9" cy="409.0" r="1"/>
<circle class="n" cx="419.2" cy="359.1" r="1"/>
<circle class="n" cx="418.4" cy="386.8" r="1"/>
<circle class="n" cx="423.9" cy="364.8" r="1"/>
<circle class="n" cx="419.1" cy="434.8" r="1"/>
<circle class="n" cx="421.1" cy="392.2" r="1"/>
<circle class="n" cx="416.5" cy="363.3" r="1"/>
<circle class="n" cx="418.2" cy="442.6" r="1"/>
<circle class="n" cx="424.7" cy="405.4" r="1"/>
<circle class="n" cx="419.9" cy="449.9" r="1"/>
<circle class="n" cx="418.1" cy="378.2" r="1"/>
<circle class="n" cx="424.3" cy="444.8" r="1"/>
<circle class="n" cx="423.7" cy="377.2" r="1"/>
<circle class="n" cx="419.9" cy="391.9" r="1"/>
<circle class="n" cx="424.1" cy="375.0" r="1"/>
<circle class="n" cx="417.1" cy="451.6" r="1"/>
<circle class="n" cx="417.0" cy="417.8" r="1"/>
<circle class="n" cx="415.5" cy="440.9" r="1"/>
<circle class="n" cx="422.5" cy="368.9" r="1"/>
<circle class="n" cx="424.4" cy="388.1" r="1"/>
<circle class="n" cx="422.4" cy="439.9" r="1"/>
<circle class="n" cx="422.2" cy="371.5" r="1"/>
<circle class="n" cx="419.6" cy="446.2" r="1"/>
<circle class="n" cx="417.3" cy="366.3" r="1"/>
<circle class="n" cx="422.4" cy="387.6" r="1"/>
<circle class="n" cx="416.9" cy="377.3" r="1"/>
<circle class="n" cx="421.9" cy="380.9" r="1"/>
<circle class="n" cx="418.9" cy="432.5" r="1"/>
<circle class="n" cx="424.2" cy="420.6" r="1"/>
<circle class="n" cx="417.4" cy="413.9" r="1"/>
<circle class="n" cx="424.6" cy="387.0" r="1"/>
<circle class="n" cx="417.9" cy="421.0" r="1"/>
<circle class="n" cx="415.9" cy="418.5" r="1"/>
<circle class="n" cx="419.6" cy="450.4" r="1"/>
<circle class="n" cx="420.5" cy="408.1" r="1"/>
<circle class="n" cx="421.0" cy="363.2" r="1"/>
<circle class="n" cx="417.6" cy="385.5" r="1"/>
<circle class="n" cx="415.9" cy="433.7" r="1"/>
<circle class="n" cx="422.9" cy="385.5" r="1"/>
<circle class="n" cx="417.9" cy="381.9" r="1"/>
<circle class="n" cx="416.9" cy="410.0" r="1"/>
<circle class="n" cx="425.3" cy="442.4" r="1"/>
<circle class="n" cx="419.9" cy="362.1" r="1"/>
<circle class="n" cx="419.0" cy="428.8" r="1"/>
<circle class="n" cx="420.2" cy="445.4" r="1"/>
<circle class="n" cx="420.8" cy="375.7" r="1"/>
<circle class="n" cx="418.7" cy="419.0" r="1"/>
<circle class="n" cx="423.1" cy="420.2" r="1"/>
<circle class="n" cx="420.3" cy="407.1" r="1"/>
<circle class="n" cx="422.1" cy="437.6" r="1"/>
<circle class="n" cx="424.9" cy="407.4" r="1"/>
<circle class="n" cx="423.1" cy="375.2" r="1"/>
<circle class="n" cx="421.3" cy="374.4" r="1"/>
<circle class="n" cx="419.6" cy="380.9" r="1"/>
<circle class="n" cx="423.2" cy="430.9" r="1"/>
<circle class="n" cx="417.5" cy="432.6" r="1"/>
<circle class="n" cx="417.3" cy="404.5" r="1"/>
<circle class="n" cx="420.2" cy="412.9" r="1"/>
<circle class="n" cx="420.9" cy="362.3" r="1"/>
<circle class="n" cx="421.0" cy="425.5" r="1"/>
<circle class="n" cx="416.9" cy="440.2" r="1"/>
<circle class="n" cx="415.2" cy="373.1" r="1"/>
<circle class="n" cx="419.5" cy="405.1" r="1"/>
<circle class="n" cx="417.7" cy="400.1" r="1"/>
<circle class="n" cx="415.8" cy="433.3" r="1"/>
<circle class="n" cx="420.9" cy="443.4" r="1"/>
<circle class="n" cx="423.2" cy="409.5" r="1"/>
<circle class="n" cx="416.5" cy="381.1" r="1"/>
<circle class="n" cx="415.4" cy="387.9" r="1"/>
<circle class="n" cx="421.5" cy="388.2" r="1"/>
<circle class="n" cx="417.8" cy="407.9" r="1"/>
<circle class="n" cx="415.9" cy="413.7" r="1"/>
<circle class="n" cx="416.8" cy="435.3" r="1"/>
<circle class="n" cx="416.7" cy="382.7" r="1"/>
<circle class="n" cx="423.6" cy="423.2" r="1"/>
<circle class="n" cx="415.6" cy="432.2" r="1"/>
<circle class="n" cx="418.8" cy="397.2" r="1"/>
<circle class="n" cx="425.1" cy="379.1" r="1"/>
<circle class="n" cx="420.1" cy="362.9" r="1"/>
<circle class="n" cx="425.3" cy="429.8" r="1"/>
<circle class="n" cx="419.7" cy="372.4" r="1"/>
<circle class="n" cx="415.4" cy="428.3" r="1"/>
<circle class="n" cx="424.3" cy="381.4" r="1"/>
<circle class="n" cx="419.1" cy="372.2" r="1"/>
<circle class="n" cx="419.4" cy="386.7" r="1"/>
<circle class="n" cx="415.4" cy="366.1" r="1"/>
<circle class="n" cx="422.9" cy="451.6" r="1"/>
<circle class="n" cx="417.4" cy="427.3" r="1"/>
<circle class="n" cx="420.7" cy="382.5" r="1"/>
<circle class="n" cx="419.8" cy="381.5" r="1"/>
<circle class="n" cx="418.8" cy="445.7" r="1"/>
<circle class="n" cx="425.2" cy="390.3" r="1"/>
<circle class="n" cx="415.4" cy="415.8" r="1"/>
<circle class="n" cx="421.8" cy="396.5" r="1"/>
<circle class="n" cx="418.8" cy="364.4" r="1"/>
<circle class="n" cx="424.0" cy="423.6" r="1"/>
<circle class="n" cx="424.2" cy="413.9" r="1"/>
<circle class="n" cx="419.1" cy="402.0" r="1"/>
<circle class="n" cx="419.0" cy="437.4" r="1"/>
<circle class="n" cx="417.2" cy="431.7" r="1"/>
<circle class="n" cx="416.9" cy="391.3" r="1"/>
<circle class="n" cx="416.7" cy="410.1" r="1"/>
<circle class="n" cx="417.2" cy="377.9" r="1"/>
<circle class="n" cx="418.2" cy="402.5" r="1"/>
<circle class="n" cx="425.3" cy="400.6" r="1"/>
<circle class="n" cx="424.0" cy="422.2" r="1"/>
<circle class="n" cx="419.0" cy="378.0" r="1"/>
<circle class="n" cx="422.1" cy="365.8" r="1"/>
<circle class="n" cx="417.9" cy="392.7" r="1"/>
<circle class="n" cx="418.4" cy="360.7" r="1"/>
<circle class="n" cx="419.1" cy="383.4" r="1"/>
<circle class="n" cx="422.4" cy="444.9" r="1"/>
<circle class="n" cx="418.8" cy="384.0" r="1"/>
<circle class="n" cx="424.7" cy="373.3" r="1"/>
<circle class="n" cx="423.0" cy="392.5" r="1"/>
<circle class="n" cx="424.4" cy="426.3" r="1"/>
<circle class="n" cx="419.2" cy="360.9" r="1"/>
<circle class="n" cx="415.9" cy="394.8" r="1"/>
<circle class="n" cx="418.4" cy="441.1" r="1"/>
<circle class="n" cx="420.4" cy="430.7" r="1"/>
<circle class="n" cx="419.3" cy="364.1" r="1"/>
<circle class="n" cx="415.4" cy="381.2" r="1"/>
<circle class="n" cx="421.2" cy="373.0" r="1"/>
<circle class="n" cx="418.9" cy="362.0" r="1"/>
<circle class="n" cx="420.7" cy="398.4" r="1"/>
<circle class="n" cx="422.3" cy="371.6" r="1"/>
<circle class="n" cx="422.5" cy="383.2" r="1"/>
<circle class="n" cx="416.5" cy="421.0" r="1"/>
<circle class="n" cx="417.9" cy="378.0" r="1"/>
<circle class="n" cx="419.2" cy="425.3" r="1"/>
<circle class="n" cx="424.0" cy="394.9" r="1"/>
<circle class="n" cx="418.0" cy="380.0" r="1"/>
<circle class="n" cx="417.2" cy="391.1" r="1"/>
<circle class="n" cx="416.7" cy="362.8" r="1"/>
<circle class="n" cx="420.9" cy="417.6" r="1"/>
<circle class="n" cx="425.1" cy="434.2" r="1"/>
<circle class="n" cx="422.0" cy="386.7" r="1"/>
<circle class="n" cx="417.2" cy="444.5" r="1"/>
<circle class="n" cx="421.9" cy="423.1" r="1"/>
<circle class="n" cx="424.0" cy="447.8" r="1"/>
<circle class="n" cx="421.6" cy="380.8" r="1"/>
<circle class="n" cx="419.4" cy="367.4" r="1"/>
<circle class="n" cx="415.6" cy="395.5" r="1"/>
<circle class="n" cx="418.4" cy="394.7" r="1"/>
<circle class="n" cx="417.9" cy="405.2" r="1"/>
<circle class="n" cx="419.2" cy="373.7" r="1"/>
<circle class="n" cx="416.7" cy="403.2" r="1"/>
<circle class="n" cx="417.5" cy="420.9" r="1"/>
<circle class="n" cx="418.6" cy="367.7" r="1"/>
<circle class="n" cx="416.6" cy="398.3" r="1"/>
<circle class="n" cx="422.3" cy="413.2" r="1"/>
<circle class="n" cx="422.3" cy="410.4" r="1"/>
<circle class="n" cx="419.6" cy="361.1" r="1"/>
<circle class="n" cx="415.7" cy="392.9" r="1"/>
<circle class="n" cx="415.6" cy="396.6" r="1"/>
<circle class="n" cx="421.1" cy="405.1" r="1"/>
<circle class="n" cx="418.4" cy="402.6" r="1"/>
<circle class="n" cx="415.2" cy="382.6" r="1"/>
<circle class="n" cx="424.3" cy="391.3" r="1"/>
<circle class="n" cx="417.7" cy="411.6" r="1"/>
<circle class="n" cx="416.9" cy="421.1" r="1"/>
<circle class="n" cx="421.4" cy="402.6" r="1"/>
<circle class="n" cx="418.8" cy="447.8" r="1"/>
<circle class="n" cx="424.8" cy="412.6" r="1"/>
<circle class="n" cx="421.5" cy="430.7" r="1"/>
<circle class="n" cx="419.3" cy="416.7" r="1"/>
<circle class="n" cx="417.9" cy="397.6" r="1"/>
<circle class="n" cx="424.1" cy="436.2" r="1"/>
<circle class="n" cx="424.5" cy="394.5" r="1"/>
<circle class="n" cx="417.6" cy="362.5" r="1"/>
<circle class="n" cx="418.2" cy="406.2" r="1"/>
<circle class="n" cx="425.2" cy="392.5" r="1"/>
<circle class="n" cx="417.0" cy="372.9" r="1"/>
<circle class="n" cx="422.1" cy="380.3" r="1"/>
<circle class="n" cx="415.0" cy="380.8" r="1"/>
<circle class="n" cx="419.1" cy="409.6" r="1"/>
<circle class="n" cx="420.1" cy="381.3" r="1"/>
<circle class="n" cx="420.7" cy="419.5" r="1"/>
<circle class="n" cx="420.8" cy="417.1" r="1"/>
<circle class="n" cx="425.1" cy="436.3" r="1"/>
<circle class="n" cx="418.6" cy="390.0" r="1"/>
<circle class="n" cx="418.3" cy="441.4" r="1"/>
<circle class="n" cx="422.2" cy="425.6" r="1"/>
<circle class="n" cx="425.0" cy="422.8" r="1"/>
<circle class="n" cx="416.7" cy="435.7" r="1"/>
<circle class="n" cx="420.1" cy="416.8" r="1"/>
<circle class="n" cx="418.8" cy="411.4" r="1"/>
<circle class="n" cx="422.8" cy="385.6" r="1"/>
<circle class="n" cx="417.5" cy="408.7" r="1"/>
<circle class="n" cx="418.4" cy="382.2" r="1"/>
<circle class="n" cx="420.3" cy="375.5" r="1"/>
<circle class="n" cx="415.7" cy="370.7" r="1"/>
<circle class="n" cx="416.3" cy="365.4" r="1"/>
<circle class="n" cx="416.2" cy="424.5" r="1"/>
<circle class="n" cx="423.0" cy="401.0" r="1"/>
<circle class="n" cx="416.7" cy="403.7" r="1"/>
<circle class="n" cx="424.0" cy="439.6" r="1"/>
<circle class="n" cx="418.1" cy="364.0" r="1"/>
<circle class="n" cx="423.3" cy="406.2" r="1"/>
<circle class="n" cx="422.4" cy="395.5" r="1"/>
<circle class="n" cx="422.4" cy="382.4" r="1"/>
<circle class="n" cx="418.5" cy="389.4" r="1"/>
<circle class="n" cx="423.8" cy="429.6" r="1"/>
<circle class="n" cx="420.9" cy="436.1" r="1"/>
<circle class="n" cx="422.4" cy="398.1" r="1"/>
<circle class="n" cx="423.6" cy="416.9" r="1"/>
<circle class="n" cx="416.3" cy="433.5" r="1"/>
<circle class="n" cx="422.0" cy="394.1" r="1"/>
<circle class="n" cx="416.9" cy="380.5" r="1"/>
<circle class="n" cx="420.6" cy="360.3" r="1"/>
<circle class="n" cx="425.1" cy="446.5" r="1"/>
<circle class="n" cx="422.2" cy="371.4" r="1"/>
<circle class="n" cx="421.6" cy="398.0" r="1"/>
<circle class="n" cx="424.7" cy="395.9" r="1"/>
<circle class="n" cx="415.5" cy="451.0" r="1"/>
<circle class="n" cx="416.2" cy="425.3" r="1"/>
<circle class="n" cx="418.6" cy="362.9" r="1"/>
<circle class="n" cx="425.3" cy="427.0" r="1"/>
<circle class="n" cx="418.4" cy="370.2" r="1"/>
<circle class="n" cx="420.5" cy="361.5" r="1"/>
<circle class="n" cx="418.9" cy="403.9" r="1"/>
<circle class="n" cx="423.3" cy="387.8" r="1"/>
<circle class="n" cx="418.0" cy="437.0" r="1"/>
<circle class="n" cx="421.4" cy="395.4" r="1"/>
<circle class="n" cx="425.2" cy="430.2" r="1"/>
<circle class="n" cx="422.2" cy="395.2" r="1"/>
<circle class="n" cx="423.3" cy="409.8" r="1"/>
<circle class="n" cx="416.8" cy="372.7" r="1"/>
<circle class="n" cx="424.7" cy="369.0" r="1"/>
<circle class="n" cx="420.1" cy="382.4" r="1"/>
<circle class="n" cx="418.4" cy="370.2" r="1"/>
<circle class="n" cx="420.6" cy="360.8" r="1"/>
<circle class="n" cx="421.5" cy="372.4" r="1"/>
<circle class="n" cx="417.4" cy="384.5" r="1"/>
<circle class="n" cx="418.8" cy="403.8" r="1"/>
<circle class="n" cx="415.5" cy="383.1" r="1"/>
<circle class="n" cx="423.9" cy="365.0" r="1"/>
<circle class="n" cx="415.8" cy="387.8" r="1"/>
<circle class="n" cx="420.0" cy="376.0" r="1"/>
<circle class="n" cx="417.1" cy="451.7" r="1"/>
<circle class="n" cx="420.0" cy="439.7" r="1"/>
<circle class="n" cx="423.4" cy="397.6" r="1"/>
<circle class="n" cx="415.6" cy="395.8" r="1"/>
<circle class="n" cx="421.8" cy="410.2" r="1"/>
<circle class="n" cx="417.9" cy="416.9" r="1"/>
<circle class="n" cx="424.0" cy="446.3" r="1"/>
<circle class="n" cx="419.6" cy="451.5" r="1"/>
<circle class="n" cx="422.5" cy="436.5" r="1"/>
<circle class="n" cx="415.3" cy="375.4" r="1"/>
<circle class="n" cx="416.2" cy="374.7" r="1"/>
<circle class="n" cx="418.7" cy="365.9" r="1"/>
<circle class="n" cx="418.2" cy="429.1" r="1"/>
<circle class="n" cx="415.1" cy="406.8" r="1"/>
<circle class="n" cx="425.0" cy="378.5" r="1"/>
<circle class="n" cx="420.3" cy="360.0" r="1"/>
<circle class="n" cx="423.2" cy="434.3" r="1"/>
<circle class="n" cx="419.2" cy="427.4" r="1"/>
<circle class="n" cx="423.6" cy="433.7" r="1"/>
<circle class="n" cx="425.3" cy="430.4" r="1"/>
<circle class="n" cx="424.9" cy="368.4" r="1"/>
<circle class="n" cx="422.3" cy="396.4" r="1"/>
<circle class="n" cx="424.5" cy="382.3" r="1"/>
<circle class="n" cx="420.7" cy="361.2" r="1"/>
<circle class="n" cx="419.0" cy="380.1" r="1"/>
<circle class="n" cx="421.8" cy="393.3" r="1"/>
<circle class="n" cx="418.8" cy="434.4" r="1"/>
<circle class="n" cx="418.7" cy="418.3" r="1"/>
<circle class="n" cx="424.4" cy="385.0" r="1"/>
<circle class="n" cx="416.0" cy="388.9" r="1"/>
<circle class="n" cx="422.7" cy="390.1" r="1"/>
<circle class="n" cx="422.7" cy="378.7" r="1"/>
<circle class="n" cx="422.1" cy="409.8" r="1"/>
<circle class="n" cx="416.1" cy="375.5" r="1"/>
<circle class="n" cx="418.6" cy="372.3" r="1"/>
<circle class="n" cx="415.1" cy="399.1" r="1"/>
<circle class="n" cx="419.2" cy="405.7" r="1"/>
<circle class="n" cx="420.6" cy="388.9" r="1"/>
<circle class="n" cx="417.1" cy="447.6" r="1"/>
<circle class="n" cx="418.3" cy="440.9" r="1"/>
<circle class="n" cx="416.1" cy="429.1" r="1"/>
<circle class="n" cx="419.5" cy="450.8" r="1"/>
<circle class="n" cx="417.3" cy="448.5" r="1"/>
<circle class="n" cx="422.3" cy="397.0" r="1"/>
<circle class="n" cx="417.8" cy="375.5" r="1"/>
<circle class="n" cx="424.9" cy="422.0" r="1"/>
<circle class="n" cx="416.9" cy="389.0" r="1"/>
<circle class="n" cx="425.3" cy="392.2" r="1"/>
<circle class="n" cx="421.6" cy="372.8" r="1"/>
<circle class="n" cx="421.7" cy="394.2" r="1"/>
<circle class="n" cx="421.4" cy="378.7" r="1"/>
<circle class="n" cx="423.9" cy="441.5" r="1"/>
<circle class="n" cx="420.3" cy="417.5" r="1"/>
<circle class="n" cx="416.2" cy="411.8" r="1"/>
<circle class="n" cx="422.2" cy="436.9" r="1"/>
<circle class="n" cx="421.9" cy="401.1" r="1"/>
<circle class="n" cx="419.0" cy="398.0" r="1"/>
<circle class="n" cx="421.2" cy="380.4" r="1"/>
<circle class="n" cx="420.4" cy="412.3" r="1"/>
<circle class="n" cx="421.1" cy="362.0" r="1"/>
<circle class="n" cx="421.2" cy="400.6" r="1"/>
<circle class="n" cx="424.7" cy="414.3" r="1"/>
<circle class="n" cx="419.9" cy="373.1" r="1"/>
<circle class="n" cx="422.7" cy="451.3" r="1"/>
<circle class="n" cx="422.7" cy="388.1" r="1"/>
<circle class="n" cx="419.2" cy="451.0" r="1"/>
<circle class="n" cx="416.3" cy="439.7" r="1"/>
<circle class="n" cx="420.1" cy="451.1" r="1"/>
<circle class="n" cx="423.7" cy="380.8" r="1"/>
<circle class="n" cx="424.8" cy="419.4" r="1"/>
<circle class="n" cx="423.3" cy="436.1" r="1"/>
<circle class="n" cx="425.3" cy="406.6" r="1"/>
<circle class="n" cx="423.7" cy="365.0" r="1"/>
<circle class="n" cx="417.6" cy="425.2" r="1"/>
<circle class="n" cx="419.7" cy="434.1" r="1"/>
<circle class="n" cx="424.0" cy="408.9" r="1"/>
<circle class="n" cx="417.9" cy="377.2" r="1"/>
<circle class="n" cx="415.8" cy="418.9" r="1"/>
<circle class="n" cx="423.2" cy="410.6" r="1"/>
<circle class="n" cx="417.5" cy="404.6" r="1"/>
<circle class="n" cx="423.9" cy="433.4" r="1"/>
<circle class="n" cx="420.7" cy="430.7" r="1"/>
<circle class="n" cx="423.3" cy="443.2" r="1"/>
<circle class="n" cx="418.8" cy="373.1" r="1"/>
<circle class="n" cx="415.4" cy="368.3" r="1"/>
<circle class="n" cx="424.0" cy="391.2" r="1"/>
<circle class="n" cx="416.2" cy="436.6" r="1"/>
<circle class="n" cx="419.0" cy="375.9" r="1"/>
<circle class="n" cx="421.4" cy="438.0" r="1"/>
<circle class="n" cx="415.7" cy="442.9" r="1"/>
<circle class="n" cx="417.2" cy="450.9" r="1"/>
<circle class="n" cx="424.1" cy="417.5" r="1"/>
<circle class="n" cx="417.0" cy="426.7" r="1"/>
<circle class="n" cx="419.5" cy="421.2" r="1"/>
<circle class="n" cx="419.3" cy="360.4" r="1"/>
<circle class="n" cx="421.5" cy="388.3" r="1"/>
<circle class="n" cx="421.3" cy="384.9" r="1"/>
<circle class="n" cx="416.9" cy="423.6" r="1"/>
<circle class="n" cx="422.2" cy="370.9" r="1"/>
<circle class="n" cx="416.3" cy="402.4" r="1"/>
<circle class="n" cx="424.8" cy="369.8" r="1"/>
<circle class="n" cx="418.7" cy="415.7" r="1"/>
<circle class="n" cx="425.3" cy="377.2" r="1"/>
<circle class="n" cx="422.7" cy="423.3" r="1"/>
<circle class="n" cx="418.2" cy="392.5" r="1"/>
<circle class="n" cx="416.5" cy="397.0" r="1"/>
<circle class="n" cx="419.4" cy="417.7" r="1"/>
<circle class="n" cx="419.3" cy="435.3" r="1"/>
<circle class="n" cx="420.3" cy="401.5" r="1"/>
<circle class="n" cx="418.6" cy="446.6" r="1"/>
<circle class="n" cx="417.4" cy="424.4" r="1"/>
<circle class="n" cx="418.0" cy="412.9" r="1"/>
<circle class="n" cx="418.0" cy="440.2" r="1"/>
<circle class="n" cx="422.0" cy="438.5" r="1"/>
<circle class="n" cx="424.7" cy="401.3" r="1"/>
<circle class="n" cx="422.7" cy="395.0" r="1"/>
<circle class="n" cx="419.7" cy="414.9" r="1"/>
<circle class="n" cx="419.4" cy="365.0" r="1"/>
<circle class="n" cx="419.6" cy="385.2" r="1"/>
<circle class="n" cx="418.0" cy="447.8" r="1"/>
<circle class="n" cx="422.0" cy="423.6" r="1"/>
<circle class="n" cx="419.3" cy="381.8" r="1"/>
<circle class="n" cx="424.3" cy="371.3" r="1"/>
<circle class="n" cx="419.4" cy="382.4" r="1"/>
<circle class="n" cx="423.5" cy="390.8" r="1"/>
<circle class="n" cx="421.1" cy="438.1" r="1"/>
<circle class="n" cx="416.0" cy="409.8" r="1"/>
<circle class="n" cx="415.9" cy="442.4" r="1"/>
<circle class="n" cx="418.9" cy="392.8" r="1"/>
<circle class="n" cx="422.0" cy="426.2" r="1"/>
<circle class="n" cx="424.3" cy="391.0" r="1"/>
<circle class="n" cx="415.2" cy="447.3" r="1"/>
<circle class="n" cx="419.9" cy="417.9" r="1"/>
<circle class="n" cx="419.8" cy="392.6" r="1"/>
<circle class="n" cx="422.0" cy="388.4" r="1"/>
<circle class="n" cx="425.1" cy="415.3" r="1"/>
<circle class="n" cx="425.3" cy="449.8" r="1"/>
<circle class="n" cx="423.6" cy="395.7" r="1"/>
<circle class="n" cx="422.3" cy="419.4" r="1"/>
<circle class="n" cx="415.7" cy="451.8" r="1"/>
<circle class="n" cx="419.2" cy="402.0" r="1"/>
<circle class="n" cx="417.3" cy="420.0" r="1"/>
<circle class="n" cx="417.2" cy="451.0" r="1"/>
<circle class="n" cx="416.5" cy="393.4" r="1"/>
<circle class="n" cx="422.7" cy="395.7" r="1"/>
<circle class="n" cx="416.7" cy="366.8" r="1"/>
<circle class="n" cx="421.5" cy="419.4" r="1"/>
<circle class="n" cx="417.6" cy="428.0" r="1"/>
<circle class="n" cx="422.6" cy="434.4" r="1"/>
<circle class="n" cx="416.2" cy="431.2" r="1"/>
<circle class="n" cx="415.2" cy="402.6" r="1"/>
<circle class="n" cx="424.8" cy="439.0" r="1"/>
<circle class="n" cx="415.3" cy="442.3" r="1"/>
<circle class="n" cx="420.6" cy="391.7" r="1"/>
<circle class="n" cx="416.2" cy="408.6" r="1"/>
<circle class="n" cx="418.1" cy="432.4" r="1"/>
<circle class="n" cx="416.3" cy="406.2" r="1"/>
<circle class="n" cx="416.3" cy="411.8" r="1"/>
<circle class="n" cx="420.3" cy="367.2" r="1"/>
<circle class="n" cx="423.1" cy="386.3" r="1"/>
<circle class="n" cx="419.3" cy="382.0" r="1"/>
<circle class="n" cx="417.8" cy="364.0" r="1"/>
<circle class="n" cx="420.8" cy="401.0" r="1"/>
<circle class="n" cx="423.8" cy="401.7" r="1"/>
<circle class="n" cx="423.8" cy="368.7" r="1"/>
<circle class="n" cx="425.1" cy="373.4" r="1"/>
<circle class="n" cx="419.2" cy="407.8" r="1"/>
<circle class="n" cx="424.0" cy="415.9" r="1"/>
<circle class="n" cx="419.3" cy="448.6" r="1"/>
<circle class="n" cx="418.5" cy="360.0" r="1"/>
<circle class="n" cx="422.6" cy="435.1" r="1"/>
<circle class="n" cx="416.6" cy="425.3" r="1"/>
<circle class="n" cx="415.3" cy="408.4" r="1"/>
<circle class="n" cx="418.1" cy="369.3" r="1"/>
<circle class="n" cx="421.7" cy="448.9" r="1"/>
<circle class="n" cx="415.5" cy="437.8" r="1"/>
<circle class="n" cx="415.8" cy="397.7" r="1"/>
<circle class="n" cx="416.2" cy="383.3" r="1"/>
<circle class="n" cx="418.4" cy="444.5" r="1"/>
<circle class="n" cx="421.8" cy="404.5" r="1"/>
<circle class="n" cx="424.8" cy="441.5" r="1"/>
<circle class="n" cx="420.2" cy="411.8" r="1"/>
<circle class="n" cx="419.1" cy="443.1" r="1"/>
<circle class="n" cx="422.7" cy="386.8" r="1"/>
<circle class="n" cx="418.8" cy="383.0" r="1"/>
<circle class="n" cx="420.0" cy="398.9" r="1"/>
<circle class="n" cx="419.5" cy="392.3" r="1"/>
<circle class="n" cx="415.5" cy="400.9" r="1"/>
<circle class="n" cx="415.6" cy="436.7" r="1"/>
<circle class="n" cx="420.7" cy="408.1" r="1"/>
<circle class="n" cx="417.3" cy="396.2" r="1"/>
<circle class="n" cx="418.9" cy="368.2" r="1"/>
<circle class="n" cx="420.0" cy="388.2" r="1"/>
<circle class="n" cx="422.8" cy="380.4" r="1"/>
<circle class="n" cx="415.1" cy="404.3" r="1"/>
<circle class="n" cx="425.0" cy="396.8" r="1"/>
<circle class="n" cx="420.6" cy="359.7" r="1"/>
<circle class="n" cx="418.8" cy="448.4" r="1"/>
<circle class="n" cx="418.8" cy="414.6" r="1"/>
<circle class="n" cx="421.3" cy="387.0" r="1"/>
<circle class="n" cx="418.3" cy="413.8" r="1"/>
<circle class="n" cx="420.4" cy="405.3" r="1"/>
<circle class="n" cx="415.6" cy="429.1" r="1"/>
<circle class="n" cx="417.6" cy="367.6" r="1"/>
<circle class="n" cx="423.3" cy="384.1" r="1"/>
<circle class="n" cx="423.9" cy="398.6" r="1"/>
<circle class="n" cx="418.0" cy="396.4" r="1"/>
<circle class="n" cx="415.9" cy="422.2" r="1"/>
<circle class="n" cx="423.6" cy="450.5" r="1"/>
<circle class="n" cx="418.3" cy="389.5" r="1"/>
<circle class="n" cx="423.2" cy="435.2" r="1"/>
<circle class="n" cx="415.6" cy="418.7" r="1"/>
<circle class="n" cx="415.5" cy="430.0" r="1"/>
<circle class="n" cx="420.7" cy="417.1" r="1"/>
<circle class="n" cx="421.6" cy="445.2" r="1"/>
<circle class="n" cx="422.8" cy="361.1" r="1"/>
<circle class="n" cx="421.0" cy="429.0" r="1"/>
<circle class="n" cx="421.3" cy="359.5" r="1"/>
<circle class="n" cx="422.1" cy="397.9" r="1"/>
<circle class="n" cx="424.5" cy="450.5" r="1"/>
<circle class="n" cx="423.1" cy="366.0" r="1"/>
<circle class="n" cx="422.8" cy="400.0" r="1"/>
<circle class="n" cx="419.7" cy="394.1" r="1"/>
<circle class="n" cx="416.2" cy="399.6" r="1"/>
<circle class="n" cx="422.6" cy="388.8" r="1"/>
<circle class="n" cx="416.3" cy="365.6" r="1"/>
<circle class="n" cx="421.9" cy="436.6" r="1"/>
<circle class="n" cx="416.2" cy="410.0" r="1"/>
<circle class="n" cx="418.2" cy="370.0" r="1"/>
<circle class="n" cx="420.8" cy="447.7" r="1"/>
<circle class="n" cx="417.2" cy="444.8" r="1"/>
<circle class="n" cx="420.6" cy="397.6" r="1"/>
<circle class="n" cx="416.3" cy="437.1" r="1"/>
<circle class="n" cx="419.9" cy="440.3" r="1"/>
<circle class="n" cx="419.7" cy="361.9" r="1"/>
<circle class="n" cx="422.0" cy="394.1" r="1"/>
<circle class="n" cx="420.1" cy="445.3" r="1"/>
<circle class="n" cx="419.0" cy="423.1" r="1"/>
<circle class="n" cx="416.1" cy="431.4" r="1"/>
<circle class="n" cx="416.7" cy="428.0" r="1"/>
<circle class="n" cx="417.1" cy="413.5" r="1"/>
<circle class="n" cx="416.7" cy="391.2" r="1"/>
<circle class="n" cx="421.2" cy="391.5" r="1"/>
<circle class="n" cx="419.0" cy="407.4" r="1"/>
<circle class="n" cx="423.8" cy="412.4" r="1"/>
<circle class="n" cx="421.1" cy="392.3" r="1"/>
<circle class="n" cx="425.2" cy="403.7" r="1"/>
<circle class="n" cx="422.3" cy="389.5" r="1"/>
<circle class="n" cx="417.7" cy="380.7" r="1"/>
<circle class="n" cx="421.0" cy="426.9" r="1"/>
<circle class="n" cx="415.7" cy="382.9" r="1"/>
<circle class="n" cx="418.9" cy="435.7" r="1"/>
<circle class="n" cx="419.5" cy="425.6" r="1"/>
<circle class="n" cx="420.8" cy="416.4" r="1"/>
<circle class="n" cx="424.5" cy="449.7" r="1"/>
<circle class="n" cx="420.1" cy="401.4" r="1"/>
<circle class="n" cx="422.8" cy="380.5" r="1"/>
<circle class="n" cx="418.2" cy="368.5" r="1"/>
<circle class="n" cx="415.4" cy="437.8" r="1"/>
<circle class="n" cx="420.9" cy="424.0" r="1"/>
<circle class="n" cx="418.5" cy="410.3" r="1"/>
<circle class="n" cx="424.9" cy="373.1" r="1"/>
<circle class="n" cx="423.4" cy="430.1" r="1"/>
<circle class="n" cx="423.2" cy="368.1" r="1"/>
<circle class="n" cx="417.1" cy="379.3" r="1"/>
<circle class="n" cx="421.3" cy="408.8" r="1"/>
<circle class="n" cx="423.0" cy="370.2" r="1"/>
<circle class="n" cx="424.4" cy="413.2" r="1"/>
<circle class="n" cx="422.2" cy="444.9" r="1"/>
<circle class="n" cx="424.9" cy="392.9" r="1"/>
<circle class="n" cx="418.0" cy="425.8" r="1"/>
<circle class="n" cx="422.6" cy="438.8" r="1"/>
<circle class="n" cx="417.6" cy="383.6" r="1"/>
<circle class="n" cx="420.4" cy="360.9" r="1"/>
<circle class="n" cx="418.0" cy="382.6" r="1"/>
<circle class="n" cx="416.4" cy="382.5" r="1"/>
<circle class="n" cx="417.8" cy="404.1" r="1"/>
<circle class="n" cx="417.9" cy="385.5" r="1"/>
<circle class="n" cx="424.1" cy="406.4" r="1"/>
<circle class="n" cx="423.9" cy="373.9" r="1"/>
<circle class="n" cx="421.3" cy="438.5" r="1"/>
<circle class="n" cx="422.6" cy="409.6" r="1"/>
<circle class="n" cx="421.9" cy="408.7" r="1"/>
<circle class="n" cx="423.1" cy="444.5" r="1"/>
<circle class="n" cx="415.6" cy="383.2" r="1"/>
<circle class="n" cx="418.8" cy="446.1" r="1"/>
<circle class="n" cx="417.4" cy="432.2" r="1"/>
<circle class="n" cx="418.9" cy="401.1" r="1"/>
<circle class="n" cx="424.8" cy="426.8" r="1"/>
<circle class="n" cx="420.9" cy="406.0" r="1"/>
<circle class="n" cx="417.4" cy="391.4" r="1"/>
<circle class="n" cx="416.1" cy="447.3" r="1"/>
<circle class="n" cx="421.8" cy="446.5" r="1"/>
<circle class="n" cx="424.3" cy="365.7" r="1"/>
<circle class="n" cx="420.9" cy="368.5" r="1"/>
<circle class="n" cx="425.3" cy="370.1" r="1"/>
<circle class="n" cx="424.1" cy="387.8" r="1"/>
<circle class="n" cx="421.7" cy="364.7" r="1"/>
<circle class="n" cx="415.6" cy="365.3" r="1"/>
<circle class="n" cx="425.2" cy="412.1" r="1"/>
<circle class="n" cx="423.9" cy="422.7" r="1"/>
<circle class="n" cx="420.4" cy="432.0" r="1"/>
<circle class="n" cx="420.5" cy="366.2" r="1"/>
<circle class="n" cx="420.5" cy="376.2" r="1"/>
<circle class="n" cx="420.2" cy="391.9" r="1"/>
<circle class="n" cx="422.3" cy="377.4" r="1"/>
<circle class="n" cx="420.1" cy="397.8" r="1"/>
<circle class="n" cx="420.1" cy="366.3" r="1"/>
<circle class="n" cx="425.1" cy="410.9" r="1"/>
<circle class="n" cx="416.4" cy="411.2" r="1"/>
<circle class="n" cx="418.5" cy="386.9" r="1"/>
<circle class="n" cx="424.8" cy="424.3" r="1"/>
<circle class="n" cx="424.9" cy="449.8" r="1"/>
<circle class="n" cx="423.9" cy="445.1" r="1"/>
<circle class="n" cx="415.2" cy="446.0" r="1"/>
<circle class="n" cx="421.1" cy="404.5" r="1"/>
<circle class="n" cx="421.4" cy="422.8" r="1"/>
<circle class="n" cx="424.7" cy="416.0" r="1"/>
<circle class="n" cx="420.4" cy="367.0" r="1"/>
<circle class="n" cx="415.3" cy="448.2" r="1"/>
<circle class="n" cx="424.0" cy="369.4" r="1"/>
<circle class="n" cx="415.3" cy="448.0" r="1"/>
<circle class="n" cx="422.4" cy="362.0" r="1"/>
<circle class="n" cx="420.4" cy="423.0" r="1"/>
<circle class="n" cx="422.9" cy="412.9" r="1"/>
<circle class="n" cx="415.0" cy="434.1" r="1"/>
<circle class="n" cx="423.1" cy="365.3" r="1"/>
<circle class="n" cx="423.7" cy="449.7" r="1"/>
<circle class="n" cx="418.5" cy="396.9" r="1"/>
<circle class="n" cx="415.2" cy="391.2" r="1"/>
<circle class="n" cx="417.7" cy="430.6" r="1"/>
<circle class="n" cx="420.5" cy="413.5" r="1"/>
<circle class="n" cx="422.0" cy="390.2" r="1"/>
<circle class="n" cx="417.4" cy="401.3" r="1"/>
<circle class="n" cx="416.8" cy="441.0" r="1"/>
<circle class="n" cx="417.6" cy="372.9" r="1"/>
<circle class="n" cx="423.2" cy="403.5" r="1"/>
<circle class="n" cx="417.5" cy="390.0" r="1"/>
<circle class="n" cx="417.7" cy="419.9" r="1"/>
<circle class="n" cx="417.7" cy="407.6" r="1"/>
<circle class="n" cx="416.9" cy="440.6" r="1"/>
<circle class="n" cx="418.1" cy="380.6" r="1"/>
<circle class="n" cx="422.6" cy="389.7" r="1"/>
<circle class="n" cx="423.2" cy="421.7" r="1"/>
<circle class="n" cx="415.8" cy="409.2" r="1"/>
<circle class="n" cx="417.5" cy="430.0" r="1"/>
<circle class="n" cx="419.3" cy="379.3" r="1"/>
<circle class="n" cx="418.9" cy="451.1" r="1"/>
<circle class="n" cx="424.5" cy="392.2" r="1"/>
<circle class="n" cx="419.0" cy="451.1" r="1"/>
<circle class="n" cx="423.2" cy="371.6" r="1"/>
<circle class="n" cx="418.5" cy="431.8" r="1"/>
<circle class="n" cx="418.9" cy="432.5" r="1"/>
<circle class="n" cx="421.2" cy="385.7" r="1"/>
<circle class="n" cx="419.9" cy="428.0" r="1"/>
<circle class="n" cx="415.1" cy="435.1" r="1"/>
<circle class="n" cx="419.0" cy="405.4" r="1"/>
<circle class="n" cx="424.2" cy="365.1" r="1"/>
<circle class="n" cx="417.1" cy="372.3" r="1"/>
<circle class="n" cx="425.0" cy="440.7" r="1"/>
<circle class="n" cx="418.6" cy="445.6" r="1"/>
<circle class="n" cx="416.5" cy="445.6" r="1"/>
<circle class="n" cx="424.8" cy="425.5" r="1"/>
<circle class="n" cx="416.4" cy="376.9" r="1"/>
<circle class="n" cx="424.2" cy="422.1" r="1"/>
<circle class="n" cx="424.9" cy="426.6" r="1"/>
<circle class="n" cx="418.9" cy="401.2" r="1"/>
<circle class="n" cx="417.8" cy="370.2" r="1"/>
<circle class="n" cx="415.7" cy="446.3" r="1"/>
<circle class="n" cx="418.6" cy="376.2" r="1"/>
<circle class="n" cx="418.6" cy="363.6" r="1"/>
<circle class="n" cx="416.3" cy="376.0" r="1"/>
<circle class="n" cx="420.6" cy="408.0" r="1"/>
<circle class="n" cx="422.9" cy="411.8" r="1"/>
<circle class="n" cx="424.9" cy="408.0" r="1"/>
<circle class="n" cx="417.3" cy="366.6" r="1"/>
<circle class="n" cx="418.2" cy="366.1" r="1"/>
<circle class="n" cx="424.6" cy="429.7" r="1"/>
<circle class="n" cx="416.7" cy="405.9" r="1"/>
<circle class="n" cx="420.9" cy="389.7" r="1"/>
<circle class="n" cx="423.2" cy="386.4" r="1"/>
<circle class="n" cx="419.8" cy="449.4" r="1"/>
<circle class="n" cx="423.8" cy="415.1" r="1"/>
<circle class="n" cx="417.0" cy="402.2" r="1"/>
<circle class="n" cx="425.2" cy="446.8" r="1"/>
<circle class="n" cx="421.8" cy="361.3" r="1"/>
<circle class="n" cx="415.5" cy="396.2" r="1"/>
<circle class="n" cx="416.8" cy="374.1" r="1"/>
<circle class="n" cx="417.2" cy="427.5" r="1"/>
<circle class="n" cx="418.6" cy="360.8" r="1"/>
<circle class="n" cx="420.2" cy="433.3" r="1"/>
<circle class="n" cx="419.8" cy="419.7" r="1"/>
<circle class="n" cx="415.2" cy="376.0" r="1"/>
<circle class="n" cx="415.4" cy="387.3" r="1"/>
<circle class="n" cx="421.4" cy="383.2" r="1"/>
<circle class="n" cx="419.9" cy="393.4" r="1"/>
<circle class="n" cx="418.3" cy="417.0" r="1"/>
<circle class="n" cx="424.2" cy="392.2" r="1"/>
<circle class="n" cx="419.3" cy="413.0" r="1"/>
<circle class="n" cx="419.8" cy="409.2" r="1"/>
<circle class="n" cx="424.5" cy="389.9" r="1"/>
<circle class="n" cx="424.7" cy="380.7" r="1"/>
<circle class="n" cx="424.2" cy="438.3" r="1"/>
<circle class="n" cx="420.3" cy="374.1" r="1"/>
<circle class="n" cx="418.0" cy="450.6" r="1"/>
<circle class="n" cx="422.5" cy="374.9" r="1"/>
<circle class="n" cx="421.1" cy="380.9" r="1"/>
<circle class="n" cx="424.9" cy="373.7" r="1"/>
<circle class="n" cx="416.0" cy="385.4" r="1"/>
<circle class="n" cx="418.6" cy="422.9" r="1"/>
<circle class="n" cx="420.2" cy="411.0" r="1"/>
<circle class="n" cx="420.3" cy="444.8" r="1"/>
<circle class="n" cx="415.0" cy="394.2" r="1"/>
<circle class="n" cx="417.8" cy="405.2" r="1"/>
<circle class="n" cx="421.6" cy="412.4" r="1"/>
<circle class="n" cx="415.9" cy="402.0" r="1"/>
<circle class="n" cx="420.0" cy="405.3" r="1"/>
<circle class="n" cx="425.1" cy="418.6" r="1"/>
<circle class="n" cx="419.6" cy="385.1" r="1"/>
<circle class="n" cx="423.3" cy="366.9" r="1"/>
<circle class="n" cx="423.6" cy="380.8" r="1"/>
<circle class="n" cx="417.6" cy="433.2" r="1"/>
<circle class="n" cx="420.2" cy="443.0" r="1"/>
<circle class="n" cx="420.8" cy="398.6" r="1"/>
<circle class="n" cx="420.1" cy="447.0" r="1"/>
<circle class="n" cx="418.0" cy="403.8" r="1"/>
<circle class="n" cx="420.2" cy="437.2" r="1"/>
<circle class="n" cx="417.0" cy="390.9" r="1"/>
<circle class="n" cx="423.7" cy="379.0" r="1"/>
<circle class="n" cx="425.2" cy="433.7" r="1"/>
<circle class="n" cx="422.1" cy="444.3" r="1"/>
<circle class="n" cx="422.4" cy="433.2" r="1"/>
<circle class="n" cx="423.3" cy="434.3" r="1"/>
<circle class="n" cx="423.5" cy="375.4" r="1"/>
<circle class="n" cx="417.5" cy="387.2" r="1"/>
<circle class="n" cx="415.2" cy="444.5" r="1"/>
<circle class="n" cx="418.6" cy="406.6" r="1"/>
<circle class="n" cx="421.3" cy="432.6" r="1"/>
<circle class="n" cx="424.7" cy="443.7" r="1"/>
<circle class="n" cx="415.7" cy="418.9" r="1"/>
<circle class="n" cx="416.1" cy="421.1" r="1"/>
<circle class="n" cx="424.1" cy="450.3" r="1"/>
<circle class="n" cx="416.9" cy="387.9" r="1"/>
<circle class="n" cx="422.9" cy="423.6" r="1"/>
<circle class="n" cx="421.5" cy="450.6" r="1"/>
<circle class="n" cx="422.6" cy="370.7" r="1"/>
<circle class="n" cx="423.5" cy="364.4" r="1"/>
<circle class="n" cx="423.2" cy="430.5" r="1"/>
<circle class="n" cx="420.9" cy="440.2" r="1"/>
<circle class="n" cx="421.6" cy="446.7" r="1"/>
<circle class="n" cx="419.0" cy="404.7" r="1"/>
<circle class="n" cx="415.2" cy="391.9" r="1"/>
<circle class="n" cx="423.3" cy="374.0" r="1"/>
<circle class="n" cx="421.8" cy="380.3" r="1"/>
<circle class="n" cx="422.2" cy="431.1" r="1"/>
<circle class="n" cx="418.3" cy="407.0" r="1"/>
<circle class="n" cx="416.9" cy="384.4" r="1"/>
<circle class="n" cx="422.1" cy="419.2" r="1"/>
<circle class="n" cx="418.4" cy="446.6" r="1"/>
<circle class="n" cx="424.5" cy="445.2" r="1"/>
<circle class="n" cx="424.9" cy="386.0" r="1"/>
<circle class="n" cx="425.0" cy="416.6" r="1"/>
<circle class="n" cx="418.5" cy="431.0" r="1"/>
<circle class="n" cx="420.4" cy="385.0" r="1"/>
<circle class="n" cx="415.4" cy="404.4" r="1"/>
<circle class="n" cx="420.6" cy="439.2" r="1"/>
<circle class="n" cx="422.7" cy="403.0" r="1"/>
<circle class="n" cx="417.1" cy="382.2" r="1"/>
<circle class="n" cx="417.5" cy="413.0" r="1"/>
<circle class="n" cx="415.7" cy="389.5" r="1"/>
<circle class="n" cx="419.0" cy="363.9" r="1"/>
<circle class="n" cx="424.9" cy="408.0" r="1"/>
<circle class="n" cx="419.3" cy="418.5" r="1"/>
<circle class="n" cx="417.4" cy="396.8" r="1"/>
<circle class="n" cx="425.0" cy="403.1" r="1"/>
<circle class="n" cx="419.5" cy="370.3" r="1"/>
<circle class="n" cx="422.9" cy="422.8" r="1"/>
<circle class="n" cx="421.7" cy="410.6" r="1"/>
<circle class="n" cx="424.4" cy="446.3" r="1"/>
<circle class="n" cx="420.6" cy="382.4" r="1"/>
<circle class="n" cx="420.5" cy="451.8" r="1"/>
<circle class="n" cx="423.0" cy="376.6" r="1"/>
<circle class="n" cx="417.1" cy="364.3" r="1"/>
<circle class="n" cx="417.8" cy="410.3" r="1"/>
<circle class="n" cx="422.6" cy="425.9" r="1"/>
<circle class="n" cx="423.0" cy="388.7" r="1"/>
<circle class="n" cx="422.3" cy="419.2" r="1"/>
<circle class="n" cx="419.5" cy="401.5" r="1"/>
<circle class="n" cx="419.9" cy="368.9" r="1"/>
<circle class="n" cx="424.2" cy="447.8" r="1"/>
<circle class="n" cx="416.4" cy="364.2" r="1"/>
<circle class="n" cx="422.2" cy="384.1" r="1"/>
<circle class="n" cx="416.3" cy="399.7" r="1"/>
<circle class="n" cx="421.0" cy="398.6" r="1"/>
<circle class="n" cx="419.2" cy="428.2" r="1"/>
<circle class="n" cx="422.1" cy="419.4" r="1"/>
<circle class="n" cx="415.5" cy="416.3" r="1"/>
<circle class="n" cx="416.3" cy="425.1" r="1"/>
<circle class="n" cx="420.0" cy="364.1" r="1"/>
<circle class="n" cx="417.9" cy="360.6" r="1"/>
<circle class="n" cx="419.9" cy="395.4" r="1"/>
<circle class="n" cx="424.9" cy="368.8" r="1"/>
<circle class="n" cx="420.1" cy="438.2" r="1"/>
<circle class="n" cx="418.3" cy="413.7" r="1"/>
<circle class="n" cx="416.2" cy="450.5" r="1"/>
<circle class="n" cx="417.3" cy="387.3" r="1"/>
<circle class="n" cx="420.3" cy="439.5" r="1"/>
<circle class="n" cx="419.1" cy="397.2" r="1"/>
<circle class="n" cx="417.7" cy="441.5" r="1"/>
<circle class="n" cx="422.4" cy="432.6" r="1"/>
<circle class="n" cx="418.8" cy="400.7" r="1"/>
<circle class="n" cx="419.7" cy="399.6" r="1"/>
<circle class="n" cx="421.5" cy="388.3" r="1"/>
<circle class="n" cx="418.2" cy="397.2" r="1"/>
<circle class="n" cx="419.7" cy="430.9" r="1"/>
<circle class="n" cx="424.1" cy="403.0" r="1"/>
<circle class="n" cx="418.9" cy="401.3" r="1"/>
<circle class="n" cx="425.2" cy="442.5" r="1"/>
<circle class="n" cx="419.2" cy="432.1" r="1"/>
<circle class="n" cx="422.7" cy="421.4" r="1"/>
<circle class="n" cx="422.5" cy="386.6" r="1"/>
<circle class="n" cx="421.8" cy="447.3" r="1"/>
<circle class="n" cx="419.5" cy="421.2" r="1"/>
<circle class="n" cx="417.4" cy="419.8" r="1"/>
<circle class="n" cx="420.6" cy="430.6" r="1"/>
<circle class="n" cx="418.6" cy="450.1" r="1"/>
<circle class="n" cx="415.2" cy="425.2" r="1"/>
<circle class="n" cx="423.0" cy="397.7" r="1"/>
<circle class="n" cx="421.4" cy="383.1" r="1"/>
<circle class="n" cx="419.1" cy="379.5" r="1"/>
<circle class="n" cx="417.0" cy="451.4" r="1"/>
<circle class="n" cx="415.6" cy="443.9" r="1"/>
<circle class="n" cx="423.5" cy="413.2" r="1"/>
<circle class="n" cx="419.1" cy="436.9" r="1"/>
<circle class="n" cx="422.4" cy="413.9" r="1"/>
<circle class="n" cx="422.8" cy="429.8" r="1"/>
<circle class="n" cx="417.6" cy="412.8" r="1"/>
<circle class="n" cx="420.8" cy="424.6" r="1"/>
<circle class="n" cx="425.3" cy="409.6" r="1"/>
<circle class="n" cx="423.1" cy="371.7" r="1"/>
<circle class="n" cx="422.6" cy="389.2" r="1"/>
<circle class="n" cx="417.9" cy="447.4" r="1"/>
<circle class="n" cx="420.5" cy="411.7" r="1"/>
<circle class="n" cx="416.7" cy="405.1" r="1"/>
<circle class="n" cx="424.3" cy="417.2" r="1"/>
<circle class="n" cx="422.5" cy="453.8" r="1"/>
<circle class="n" cx="424.2" cy="454.1" r="1"/>
<circle class="n" cx="416.2" cy="454.4" r="1"/>
<circle class="n" cx="420.0" cy="454.3" r="1"/>
<circle class="n" cx="426.4" cy="454.3" r="1"/>
<circle class="n" cx="425.9" cy="453.9" r="1"/>
<circle class="n" cx="423.6" cy="453.4" r="1"/>
<circle class="n" cx="418.1" cy="454.5" r="1"/>
<circle class="n" cx="422.8" cy="454.8" r="1"/>
<circle class="n" cx="419.1" cy="453.8" r="1"/>
<circle class="n" cx="418.8" cy="454.3" r="1"/>
<circle class="n" cx="414.8" cy="454.0" r="1"/>
<circle class="n" cx="422.4" cy="453.6" r="1"/>
<circle class="n" cx="418.2" cy="454.9" r="1"/>
<circle class="n" cx="425.7" cy="453.7" r="1"/>
<circle class="n" cx="416.6" cy="453.5" r="1"/>
<circle class="n" cx="415.5" cy="454.7" r="1"/>
<circle class="n" cx="423.4" cy="453.8" r="1"/>
<circle class="n" cx="420.4" cy="454.6" r="1"/>
<circle class="n" cx="414.8" cy="454.8" r="1"/>
<circle class="n" cx="424.8" cy="453.7" r="1"/>
<circle class="n" cx="422.9" cy="454.6" r="1"/>
<circle class="n" cx="418.5" cy="454.9" r="1"/>
<circle class="n" cx="417.1" cy="454.2" r="1"/>
<circle class="n" cx="418.3" cy="454.1" r="1"/>
<circle class="n" cx="424.2" cy="454.3" r="1"/>
<circle class="n" cx="421.8" cy="455.1" r="1"/>
<circle class="n" cx="417.2" cy="453.7" r="1"/>
<circle class="n" cx="421.9" cy="453.6" r="1"/>
<circle class="n" cx="426.1" cy="453.9" r="1"/>
<circle cx="302.5" cy="370.1" r="1.3" fill="#5aa832"/>
<circle cx="302.0" cy="413.2" r="1.3" fill="#5aa832"/>
<circle cx="301.5" cy="418.6" r="1.3" fill="#5aa832"/>
<circle cx="303.0" cy="425.5" r="1.3" fill="#5aa832"/>
<circle cx="301.5" cy="437.3" r="1.3" fill="#5aa832"/>
<circle cx="305.3" cy="391.3" r="1.3" fill="#5aa832"/>
<circle cx="301.1" cy="391.1" r="1.3" fill="#5aa832"/>
<circle cx="305.7" cy="395.4" r="1.3" fill="#5aa832"/>
<circle cx="300.0" cy="389.0" r="1.3" fill="#5aa832"/>
<circle cx="298.6" cy="389.3" r="1.3" fill="#5aa832"/>
<circle cx="298.8" cy="395.9" r="1.3" fill="#5aa832"/>
<circle cx="306.7" cy="388.6" r="1.3" fill="#5aa832"/>
<circle cx="298.9" cy="392.4" r="1.3" fill="#5aa832"/>
<circle cx="299.6" cy="400.5" r="1.3" fill="#5aa832"/>
<circle cx="304.1" cy="399.5" r="1.3" fill="#5aa832"/>
<circle cx="300.5" cy="392.6" r="1.3" fill="#5aa832"/>
<circle cx="301.2" cy="388.7" r="1.3" fill="#5aa832"/>
<circle cx="300.3" cy="386.5" r="1.3" fill="#5aa832"/>
<circle cx="303.2" cy="387.1" r="1.3" fill="#5aa832"/>
<circle cx="305.4" cy="380.3" r="1.3" fill="#5aa832"/>
<circle cx="300.7" cy="394.1" r="1.3" fill="#5aa832"/>
<circle cx="303.8" cy="400.2" r="1.3" fill="#5aa832"/>
<circle cx="301.4" cy="392.2" r="1.3" fill="#5aa832"/>
<circle cx="302.7" cy="392.6" r="1.3" fill="#5aa832"/>
<circle cx="305.9" cy="403.7" r="1.3" fill="#5aa832"/>
<circle cx="300.6" cy="377.2" r="1.3" fill="#5aa832"/>
<circle cx="303.5" cy="404.0" r="1.3" fill="#5aa832"/>
<circle cx="305.6" cy="383.0" r="1.3" fill="#5aa832"/>
<circle cx="304.6" cy="400.2" r="1.3" fill="#5aa832"/>
<circle cx="302.9" cy="390.2" r="1.3" fill="#5aa832"/>
<circle cx="305.4" cy="409.4" r="1.3" fill="#5aa832"/>
<circle cx="306.5" cy="384.9" r="1.3" fill="#5aa832"/>
<circle cx="300.7" cy="394.2" r="1.3" fill="#5aa832"/>
<circle cx="298.7" cy="402.5" r="1.3" fill="#5aa832"/>
<circle cx="301.4" cy="379.2" r="1.3" fill="#5aa832"/>
<circle cx="306.3" cy="388.0" r="1.3" fill="#5aa832"/>
<circle cx="303.2" cy="402.8" r="1.3" fill="#5aa832"/>
<circle cx="302.1" cy="382.4" r="1.3" fill="#5aa832"/>
<circle cx="301.9" cy="391.8" r="1.3" fill="#5aa832"/>
<circle cx="303.1" cy="388.1" r="1.3" fill="#5aa832"/>
<circle cx="303.8" cy="380.5" r="1.3" fill="#5aa832"/>
<circle cx="304.7" cy="378.9" r="1.3" fill="#5aa832"/>
<circle cx="302.9" cy="409.5" r="1.3" fill="#5aa832"/>
<circle cx="300.3" cy="398.4" r="1.3" fill="#5aa832"/>
<circle cx="298.5" cy="402.0" r="1.3" fill="#5aa832"/>
<circle cx="299.2" cy="404.0" r="1.3" fill="#5aa832"/>
<circle cx="299.4" cy="377.4" r="1.3" fill="#5aa832"/>
<circle cx="300.8" cy="409.5" r="1.3" fill="#5aa832"/>
<circle cx="299.6" cy="405.0" r="1.3" fill="#5aa832"/>
<circle cx="298.4" cy="403.2" r="1.3" fill="#5aa832"/>
<circle cx="305.2" cy="389.6" r="1.3" fill="#5aa832"/>
<circle cx="299.6" cy="401.1" r="1.3" fill="#5aa832"/>
<circle cx="300.1" cy="409.9" r="1.3" fill="#5aa832"/>
<circle cx="303.9" cy="408.1" r="1.3" fill="#5aa832"/>
<circle cx="300.1" cy="382.9" r="1.3" fill="#5aa832"/>
<circle cx="304.2" cy="405.6" r="1.3" fill="#5aa832"/>
<circle cx="301.4" cy="398.8" r="1.3" fill="#5aa832"/>
<circle cx="302.3" cy="386.0" r="1.3" fill="#5aa832"/>
<circle cx="298.4" cy="394.8" r="1.3" fill="#5aa832"/>
<circle cx="301.3" cy="410.4" r="1.3" fill="#5aa832"/>
<circle cx="303.2" cy="381.5" r="1.3" fill="#5aa832"/>
<circle cx="302.4" cy="388.2" r="1.3" fill="#5aa832"/>
<circle cx="299.7" cy="390.3" r="1.3" fill="#5aa832"/>
<circle cx="298.3" cy="392.7" r="1.3" fill="#5aa832"/>
<circle cx="305.4" cy="392.6" r="1.3" fill="#5aa832"/>
<circle cx="335.0" cy="376.5" r="1.3" fill="#5d5d66"/>
<circle cx="333.5" cy="385.6" r="1.3" fill="#5d5d66"/>
<circle cx="329.5" cy="392.5" r="1.3" fill="#5d5d66"/>
<circle cx="330.0" cy="393.8" r="1.3" fill="#5d5d66"/>
<circle cx="333.0" cy="392.7" r="1.3" fill="#5d5d66"/>
<circle cx="334.5" cy="393.0" r="1.3" fill="#5d5d66"/>
<circle cx="331.5" cy="397.0" r="1.3" fill="#5d5d66"/>
<circle cx="332.3" cy="398.0" r="1.3" fill="#5d5d66"/>
<circle cx="333.5" cy="398.5" r="1.3" fill="#5d5d66"/>
<circle cx="333.0" cy="402.5" r="1.3" fill="#5d5d66"/>
<circle cx="334.0" cy="407.7" r="1.3" fill="#5d5d66"/>
<circle cx="328.5" cy="413.0" r="1.3" fill="#5d5d66"/>
<circle cx="329.5" cy="413.6" r="1.3" fill="#5d5d66"/>
<circle cx="333.0" cy="421.8" r="1.3" fill="#5d5d66"/>
<circle cx="333.0" cy="437.3" r="1.3" fill="#5d5d66"/>
<circle cx="361.5" cy="389.2" r="1.2" fill="#e8955a"/>
<circle cx="364" cy="392" r="1.2" fill="#e8955a"/>
<circle cx="388" cy="393.6" r="1.2" fill="#5d5d66"/>
<circle cx="390" cy="393" r="1.2" fill="#5d5d66"/>
<circle cx="389.5" cy="402.5" r="1.2" fill="#e8955a"/>
<circle cx="393.5" cy="404.6" r="1.2" fill="#5d5d66"/>
<circle cx="387.5" cy="411.3" r="1.2" fill="#5d5d66"/>
<text transform="translate(301.1,471.2) rotate(50.5)" font-family="Liberation Sans, Arial, sans-serif" font-weight="bold" font-size="5.1" fill="#333" stroke="#333" stroke-width="0.16">Missense</text>
<text transform="translate(331.2,471.2) rotate(50.5)" font-family="Liberation Sans, Arial, sans-serif" font-weight="bold" font-size="5.1" fill="#333" stroke="#333" stroke-width="0.16">Truncating</text>
<text transform="translate(360.1,471.2) rotate(50.5)" font-family="Liberation Sans, Arial, sans-serif" font-weight="bold" font-size="5.1" fill="#333" stroke="#333" stroke-width="0.16">Splice</text>
<text transform="translate(389.2,471.2) rotate(50.5)" font-family="Liberation Sans, Arial, sans-serif" font-weight="bold" font-size="5.1" fill="#333" stroke="#333" stroke-width="0.16">Multiple</text>
<text transform="translate(418.9,471.2) rotate(50.5)" font-family="Liberation Sans, Arial, sans-serif" font-weight="bold" font-size="5.1" fill="#333" stroke="#333" stroke-width="0.16">No mutation</text>
<text transform="translate(448.0,471.2) rotate(50.5)" font-family="Liberation Sans, Arial, sans-serif" font-weight="bold" font-size="5.1" fill="#333" stroke="#333" stroke-width="0.16">Not profiled</text>
<text x="327.7" y="520.6" font-family="Liberation Sans, Arial, sans-serif" font-weight="bold" font-size="6.25" fill="#222" stroke="#222" stroke-width="0.16">NEIL3: Mutations</text>
<circle cx="400.5" cy="504.4" r="3.0" fill="#e8955a"/>
<text x="404.2" y="506.1" font-family="Liberation Sans, Arial, sans-serif" font-weight="bold" font-size="4.85" fill="#222" stroke="#222" stroke-width="0.16">Splice (VUS)</text>
<circle cx="400.5" cy="513.9" r="3.0" fill="#5d5d66"/>
<text x="404.2" y="515.6" font-family="Liberation Sans, Arial, sans-serif" font-weight="bold" font-size="4.85" fill="#222" stroke="#222" stroke-width="0.16">Truncating (VUS)</text>
<circle cx="400.5" cy="523" r="3.0" fill="#4fa52d"/>
<text x="404.2" y="524.7" font-family="Liberation Sans, Arial, sans-serif" font-weight="bold" font-size="4.85" fill="#222" stroke="#222" stroke-width="0.16">Missense (VUS)</text>
<circle cx="400.5" cy="532.9" r="3.0" fill="#c4dcea"/>
<text x="404.2" y="534.6" font-family="Liberation Sans, Arial, sans-serif" font-weight="bold" font-size="4.85" fill="#222" stroke="#222" stroke-width="0.16">Not mutated</text>
<circle cx="400.5" cy="543" r="3.0" fill="#fff" stroke="#bbb" stroke-width="0.5"/>
<text x="404.2" y="544.7" font-family="Liberation Sans, Arial, sans-serif" font-weight="bold" font-size="4.85" fill="#222" stroke="#222" stroke-width="0.16">Not profiled for mutations</text>
</svg>
</body></html>
